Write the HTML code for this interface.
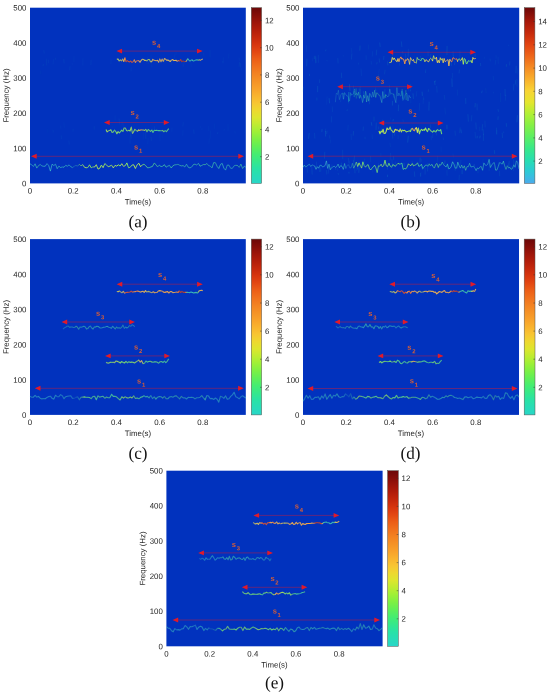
<!DOCTYPE html>
<html><head><meta charset="utf-8"><title>Figure</title>
<style>
html,body{margin:0;padding:0;background:#fff;}
body{width:550px;height:696px;overflow:hidden;}
svg{display:block;}
text{text-rendering:geometricPrecision;}
.tk{font-family:"Liberation Sans",sans-serif;font-size:7.85px;fill:#262626;}
.cap{font-family:"Liberation Serif",serif;font-size:17.2px;fill:#111;}
.sl{font-family:"Liberation Sans",sans-serif;font-size:7.6px;font-weight:bold;fill:#e2602f;fill-opacity:0.92;}
.sb{font-size:5.9px;}
</style></head><body>
<svg width="550" height="696" viewBox="0 0 550 696">
<defs>
<filter id="bl" x="0" y="0" width="100%" height="100%" filterUnits="userSpaceOnUse" color-interpolation-filters="sRGB"><feGaussianBlur stdDeviation="0.42"/></filter>
<linearGradient id="cbA" x1="0" x2="0" y1="0" y2="1"><stop offset="0.000" stop-color="rgb(108,8,8)"/><stop offset="0.042" stop-color="rgb(133,14,9)"/><stop offset="0.083" stop-color="rgb(157,21,10)"/><stop offset="0.125" stop-color="rgb(178,29,10)"/><stop offset="0.167" stop-color="rgb(197,40,12)"/><stop offset="0.208" stop-color="rgb(215,53,14)"/><stop offset="0.250" stop-color="rgb(227,71,18)"/><stop offset="0.292" stop-color="rgb(236,94,23)"/><stop offset="0.333" stop-color="rgb(240,112,29)"/><stop offset="0.375" stop-color="rgb(243,130,34)"/><stop offset="0.417" stop-color="rgb(245,146,38)"/><stop offset="0.458" stop-color="rgb(248,161,42)"/><stop offset="0.500" stop-color="rgb(249,179,46)"/><stop offset="0.542" stop-color="rgb(248,197,50)"/><stop offset="0.583" stop-color="rgb(238,216,47)"/><stop offset="0.625" stop-color="rgb(221,230,46)"/><stop offset="0.667" stop-color="rgb(190,236,49)"/><stop offset="0.708" stop-color="rgb(157,240,55)"/><stop offset="0.750" stop-color="rgb(124,240,68)"/><stop offset="0.792" stop-color="rgb(95,239,88)"/><stop offset="0.833" stop-color="rgb(69,237,113)"/><stop offset="0.875" stop-color="rgb(53,232,139)"/><stop offset="0.917" stop-color="rgb(41,226,166)"/><stop offset="0.958" stop-color="rgb(40,220,183)"/><stop offset="1.000" stop-color="rgb(40,214,200)"/></linearGradient>
<linearGradient id="cbB" x1="0" x2="0" y1="0" y2="1"><stop offset="0.000" stop-color="rgb(108,8,8)"/><stop offset="0.078" stop-color="rgb(166,24,10)"/><stop offset="0.144" stop-color="rgb(198,42,12)"/><stop offset="0.210" stop-color="rgb(226,68,18)"/><stop offset="0.276" stop-color="rgb(238,102,26)"/><stop offset="0.342" stop-color="rgb(245,140,36)"/><stop offset="0.408" stop-color="rgb(249,176,44)"/><stop offset="0.473" stop-color="rgb(248,212,52)"/><stop offset="0.539" stop-color="rgb(228,230,46)"/><stop offset="0.605" stop-color="rgb(176,240,54)"/><stop offset="0.671" stop-color="rgb(132,240,70)"/><stop offset="0.737" stop-color="rgb(92,238,100)"/><stop offset="0.803" stop-color="rgb(56,232,138)"/><stop offset="0.868" stop-color="rgb(40,222,176)"/><stop offset="0.921" stop-color="rgb(42,206,208)"/><stop offset="0.961" stop-color="rgb(56,190,224)"/><stop offset="1.000" stop-color="rgb(76,170,236)"/></linearGradient>
<linearGradient id="g0" gradientUnits="userSpaceOnUse" x1="30.0" x2="246.0" y1="0" y2="0"><stop offset="0.000" stop-color="rgb(75,222,191)" stop-opacity="0.58"/><stop offset="0.008" stop-color="rgb(75,217,204)" stop-opacity="0.52"/><stop offset="0.016" stop-color="rgb(75,223,190)" stop-opacity="0.46"/><stop offset="0.024" stop-color="rgb(75,225,185)" stop-opacity="0.55"/><stop offset="0.031" stop-color="rgb(75,227,178)" stop-opacity="0.52"/><stop offset="0.039" stop-color="rgb(90,234,145)" stop-opacity="0.51"/><stop offset="0.047" stop-color="rgb(75,225,185)" stop-opacity="0.53"/><stop offset="0.055" stop-color="rgb(75,222,192)" stop-opacity="0.52"/><stop offset="0.063" stop-color="rgb(75,225,186)" stop-opacity="0.58"/><stop offset="0.071" stop-color="rgb(75,217,204)" stop-opacity="0.56"/><stop offset="0.079" stop-color="rgb(75,217,204)" stop-opacity="0.45"/><stop offset="0.087" stop-color="rgb(75,217,204)" stop-opacity="0.54"/><stop offset="0.094" stop-color="rgb(75,217,204)" stop-opacity="0.57"/><stop offset="0.102" stop-color="rgb(75,218,203)" stop-opacity="0.56"/><stop offset="0.110" stop-color="rgb(75,221,195)" stop-opacity="0.53"/><stop offset="0.118" stop-color="rgb(75,223,190)" stop-opacity="0.48"/><stop offset="0.126" stop-color="rgb(75,221,197)" stop-opacity="0.56"/><stop offset="0.134" stop-color="rgb(75,224,186)" stop-opacity="0.49"/><stop offset="0.142" stop-color="rgb(75,222,191)" stop-opacity="0.59"/><stop offset="0.150" stop-color="rgb(75,222,191)" stop-opacity="0.48"/><stop offset="0.157" stop-color="rgb(75,224,187)" stop-opacity="0.61"/><stop offset="0.165" stop-color="rgb(75,225,185)" stop-opacity="0.55"/><stop offset="0.173" stop-color="rgb(75,224,186)" stop-opacity="0.53"/><stop offset="0.181" stop-color="rgb(75,219,200)" stop-opacity="0.50"/><stop offset="0.189" stop-color="rgb(75,225,182)" stop-opacity="0.58"/><stop offset="0.197" stop-color="rgb(75,227,179)" stop-opacity="0.40"/><stop offset="0.205" stop-color="rgb(76,227,177)" stop-opacity="0.23"/><stop offset="0.213" stop-color="rgb(75,225,182)" stop-opacity="0.28"/><stop offset="0.220" stop-color="rgb(85,231,157)" stop-opacity="0.31"/><stop offset="0.228" stop-color="rgb(128,238,105)" stop-opacity="0.45"/><stop offset="0.236" stop-color="rgb(151,239,94)" stop-opacity="0.56"/><stop offset="0.244" stop-color="rgb(161,239,90)" stop-opacity="0.74"/><stop offset="0.252" stop-color="rgb(190,237,81)" stop-opacity="0.85"/><stop offset="0.260" stop-color="rgb(162,239,90)" stop-opacity="0.91"/><stop offset="0.268" stop-color="rgb(155,239,92)" stop-opacity="0.69"/><stop offset="0.276" stop-color="rgb(162,239,90)" stop-opacity="0.89"/><stop offset="0.283" stop-color="rgb(141,239,97)" stop-opacity="0.85"/><stop offset="0.291" stop-color="rgb(146,239,95)" stop-opacity="0.65"/><stop offset="0.299" stop-color="rgb(200,235,80)" stop-opacity="0.94"/><stop offset="0.307" stop-color="rgb(177,239,84)" stop-opacity="0.87"/><stop offset="0.315" stop-color="rgb(184,239,82)" stop-opacity="0.86"/><stop offset="0.323" stop-color="rgb(174,239,85)" stop-opacity="1.00"/><stop offset="0.331" stop-color="rgb(160,239,90)" stop-opacity="0.92"/><stop offset="0.339" stop-color="rgb(176,239,84)" stop-opacity="0.88"/><stop offset="0.346" stop-color="rgb(157,239,91)" stop-opacity="0.81"/><stop offset="0.354" stop-color="rgb(173,239,86)" stop-opacity="0.83"/><stop offset="0.362" stop-color="rgb(172,239,86)" stop-opacity="0.83"/><stop offset="0.370" stop-color="rgb(179,239,83)" stop-opacity="0.94"/><stop offset="0.378" stop-color="rgb(170,239,86)" stop-opacity="0.75"/><stop offset="0.386" stop-color="rgb(199,235,80)" stop-opacity="0.85"/><stop offset="0.394" stop-color="rgb(162,239,90)" stop-opacity="0.88"/><stop offset="0.402" stop-color="rgb(209,234,79)" stop-opacity="0.89"/><stop offset="0.409" stop-color="rgb(143,239,96)" stop-opacity="1.00"/><stop offset="0.417" stop-color="rgb(123,238,109)" stop-opacity="0.89"/><stop offset="0.425" stop-color="rgb(212,233,79)" stop-opacity="0.97"/><stop offset="0.433" stop-color="rgb(193,237,81)" stop-opacity="0.69"/><stop offset="0.441" stop-color="rgb(153,239,93)" stop-opacity="0.93"/><stop offset="0.449" stop-color="rgb(142,239,96)" stop-opacity="0.99"/><stop offset="0.457" stop-color="rgb(131,239,103)" stop-opacity="0.75"/><stop offset="0.465" stop-color="rgb(166,239,88)" stop-opacity="0.80"/><stop offset="0.472" stop-color="rgb(155,239,92)" stop-opacity="0.78"/><stop offset="0.480" stop-color="rgb(189,238,81)" stop-opacity="0.95"/><stop offset="0.488" stop-color="rgb(183,239,82)" stop-opacity="0.88"/><stop offset="0.496" stop-color="rgb(178,239,83)" stop-opacity="0.77"/><stop offset="0.504" stop-color="rgb(185,239,82)" stop-opacity="1.00"/><stop offset="0.512" stop-color="rgb(193,237,81)" stop-opacity="0.86"/><stop offset="0.520" stop-color="rgb(167,239,88)" stop-opacity="0.78"/><stop offset="0.528" stop-color="rgb(114,237,119)" stop-opacity="0.66"/><stop offset="0.535" stop-color="rgb(112,237,121)" stop-opacity="0.70"/><stop offset="0.543" stop-color="rgb(107,236,126)" stop-opacity="0.74"/><stop offset="0.551" stop-color="rgb(88,233,149)" stop-opacity="0.54"/><stop offset="0.559" stop-color="rgb(81,230,166)" stop-opacity="0.72"/><stop offset="0.567" stop-color="rgb(92,234,143)" stop-opacity="0.67"/><stop offset="0.575" stop-color="rgb(99,236,133)" stop-opacity="0.58"/><stop offset="0.583" stop-color="rgb(89,234,147)" stop-opacity="0.67"/><stop offset="0.591" stop-color="rgb(101,236,132)" stop-opacity="0.51"/><stop offset="0.598" stop-color="rgb(75,227,179)" stop-opacity="0.61"/><stop offset="0.606" stop-color="rgb(75,226,180)" stop-opacity="0.62"/><stop offset="0.614" stop-color="rgb(87,232,153)" stop-opacity="0.56"/><stop offset="0.622" stop-color="rgb(81,230,166)" stop-opacity="0.71"/><stop offset="0.630" stop-color="rgb(82,230,164)" stop-opacity="0.61"/><stop offset="0.638" stop-color="rgb(85,232,156)" stop-opacity="0.58"/><stop offset="0.646" stop-color="rgb(76,227,177)" stop-opacity="0.55"/><stop offset="0.654" stop-color="rgb(83,231,159)" stop-opacity="0.59"/><stop offset="0.661" stop-color="rgb(85,231,158)" stop-opacity="0.61"/><stop offset="0.669" stop-color="rgb(87,232,154)" stop-opacity="0.60"/><stop offset="0.677" stop-color="rgb(79,229,169)" stop-opacity="0.52"/><stop offset="0.685" stop-color="rgb(88,233,150)" stop-opacity="0.44"/><stop offset="0.693" stop-color="rgb(82,230,164)" stop-opacity="0.54"/><stop offset="0.701" stop-color="rgb(91,234,144)" stop-opacity="0.57"/><stop offset="0.709" stop-color="rgb(83,230,161)" stop-opacity="0.56"/><stop offset="0.717" stop-color="rgb(80,230,168)" stop-opacity="0.50"/><stop offset="0.724" stop-color="rgb(75,225,182)" stop-opacity="0.48"/><stop offset="0.732" stop-color="rgb(79,229,169)" stop-opacity="0.54"/><stop offset="0.740" stop-color="rgb(75,227,178)" stop-opacity="0.59"/><stop offset="0.748" stop-color="rgb(75,222,191)" stop-opacity="0.46"/><stop offset="0.756" stop-color="rgb(79,229,170)" stop-opacity="0.61"/><stop offset="0.764" stop-color="rgb(87,233,150)" stop-opacity="0.52"/><stop offset="0.772" stop-color="rgb(81,230,166)" stop-opacity="0.52"/><stop offset="0.780" stop-color="rgb(75,226,182)" stop-opacity="0.47"/><stop offset="0.787" stop-color="rgb(92,234,142)" stop-opacity="0.68"/><stop offset="0.795" stop-color="rgb(75,226,180)" stop-opacity="0.51"/><stop offset="0.803" stop-color="rgb(92,234,143)" stop-opacity="0.55"/><stop offset="0.811" stop-color="rgb(94,235,138)" stop-opacity="0.55"/><stop offset="0.819" stop-color="rgb(84,231,159)" stop-opacity="0.51"/><stop offset="0.827" stop-color="rgb(82,230,161)" stop-opacity="0.51"/><stop offset="0.835" stop-color="rgb(77,228,175)" stop-opacity="0.48"/><stop offset="0.843" stop-color="rgb(80,230,167)" stop-opacity="0.55"/><stop offset="0.850" stop-color="rgb(78,229,172)" stop-opacity="0.57"/><stop offset="0.858" stop-color="rgb(87,232,153)" stop-opacity="0.50"/><stop offset="0.866" stop-color="rgb(82,230,163)" stop-opacity="0.54"/><stop offset="0.874" stop-color="rgb(78,228,173)" stop-opacity="0.61"/><stop offset="0.882" stop-color="rgb(75,225,185)" stop-opacity="0.56"/><stop offset="0.890" stop-color="rgb(75,225,185)" stop-opacity="0.57"/><stop offset="0.898" stop-color="rgb(75,219,200)" stop-opacity="0.55"/><stop offset="0.906" stop-color="rgb(76,227,177)" stop-opacity="0.51"/><stop offset="0.913" stop-color="rgb(75,226,180)" stop-opacity="0.46"/><stop offset="0.921" stop-color="rgb(75,226,181)" stop-opacity="0.52"/><stop offset="0.929" stop-color="rgb(75,226,182)" stop-opacity="0.45"/><stop offset="0.937" stop-color="rgb(75,222,191)" stop-opacity="0.50"/><stop offset="0.945" stop-color="rgb(75,223,189)" stop-opacity="0.47"/><stop offset="0.953" stop-color="rgb(87,233,151)" stop-opacity="0.49"/><stop offset="0.961" stop-color="rgb(92,234,142)" stop-opacity="0.56"/><stop offset="0.969" stop-color="rgb(92,234,142)" stop-opacity="0.42"/><stop offset="0.976" stop-color="rgb(87,232,154)" stop-opacity="0.55"/><stop offset="0.984" stop-color="rgb(86,232,156)" stop-opacity="0.51"/><stop offset="0.992" stop-color="rgb(80,230,168)" stop-opacity="0.54"/><stop offset="1.000" stop-color="rgb(75,227,178)" stop-opacity="0.48"/></linearGradient>
<linearGradient id="g1" gradientUnits="userSpaceOnUse" x1="106.0" x2="168.7" y1="0" y2="0"><stop offset="0.000" stop-color="rgb(180,239,82)" stop-opacity="0.90"/><stop offset="0.019" stop-color="rgb(188,238,81)" stop-opacity="0.87"/><stop offset="0.038" stop-color="rgb(190,237,81)" stop-opacity="0.72"/><stop offset="0.058" stop-color="rgb(161,239,90)" stop-opacity="0.86"/><stop offset="0.077" stop-color="rgb(157,239,91)" stop-opacity="0.83"/><stop offset="0.096" stop-color="rgb(141,239,97)" stop-opacity="0.72"/><stop offset="0.115" stop-color="rgb(126,238,107)" stop-opacity="0.84"/><stop offset="0.135" stop-color="rgb(135,239,100)" stop-opacity="0.65"/><stop offset="0.154" stop-color="rgb(133,239,100)" stop-opacity="0.73"/><stop offset="0.173" stop-color="rgb(158,239,91)" stop-opacity="1.00"/><stop offset="0.192" stop-color="rgb(151,239,94)" stop-opacity="0.81"/><stop offset="0.212" stop-color="rgb(152,239,93)" stop-opacity="0.84"/><stop offset="0.231" stop-color="rgb(135,239,100)" stop-opacity="0.81"/><stop offset="0.250" stop-color="rgb(121,238,112)" stop-opacity="0.87"/><stop offset="0.269" stop-color="rgb(135,239,100)" stop-opacity="0.73"/><stop offset="0.288" stop-color="rgb(154,239,92)" stop-opacity="0.79"/><stop offset="0.308" stop-color="rgb(154,239,92)" stop-opacity="0.68"/><stop offset="0.327" stop-color="rgb(158,239,91)" stop-opacity="0.83"/><stop offset="0.346" stop-color="rgb(161,239,90)" stop-opacity="0.71"/><stop offset="0.365" stop-color="rgb(149,239,94)" stop-opacity="0.78"/><stop offset="0.385" stop-color="rgb(165,239,88)" stop-opacity="0.93"/><stop offset="0.404" stop-color="rgb(170,239,86)" stop-opacity="0.78"/><stop offset="0.423" stop-color="rgb(185,239,82)" stop-opacity="0.67"/><stop offset="0.442" stop-color="rgb(163,239,89)" stop-opacity="0.88"/><stop offset="0.462" stop-color="rgb(158,239,91)" stop-opacity="0.79"/><stop offset="0.481" stop-color="rgb(146,239,95)" stop-opacity="0.65"/><stop offset="0.500" stop-color="rgb(171,239,86)" stop-opacity="0.79"/><stop offset="0.519" stop-color="rgb(232,229,77)" stop-opacity="0.88"/><stop offset="0.538" stop-color="rgb(243,159,72)" stop-opacity="1.00"/><stop offset="0.558" stop-color="rgb(244,166,72)" stop-opacity="0.73"/><stop offset="0.577" stop-color="rgb(247,201,82)" stop-opacity="0.79"/><stop offset="0.596" stop-color="rgb(196,236,81)" stop-opacity="0.80"/><stop offset="0.615" stop-color="rgb(201,235,80)" stop-opacity="0.79"/><stop offset="0.635" stop-color="rgb(183,239,82)" stop-opacity="0.72"/><stop offset="0.654" stop-color="rgb(136,239,99)" stop-opacity="0.74"/><stop offset="0.673" stop-color="rgb(133,239,100)" stop-opacity="0.71"/><stop offset="0.692" stop-color="rgb(124,238,109)" stop-opacity="0.73"/><stop offset="0.712" stop-color="rgb(140,239,97)" stop-opacity="0.78"/><stop offset="0.731" stop-color="rgb(114,237,119)" stop-opacity="0.80"/><stop offset="0.750" stop-color="rgb(107,236,126)" stop-opacity="0.71"/><stop offset="0.769" stop-color="rgb(92,235,141)" stop-opacity="0.69"/><stop offset="0.788" stop-color="rgb(123,238,110)" stop-opacity="0.76"/><stop offset="0.808" stop-color="rgb(92,234,141)" stop-opacity="0.78"/><stop offset="0.827" stop-color="rgb(86,232,155)" stop-opacity="0.67"/><stop offset="0.846" stop-color="rgb(104,236,128)" stop-opacity="0.80"/><stop offset="0.865" stop-color="rgb(99,236,133)" stop-opacity="0.77"/><stop offset="0.885" stop-color="rgb(141,239,97)" stop-opacity="0.66"/><stop offset="0.904" stop-color="rgb(152,239,93)" stop-opacity="0.72"/><stop offset="0.923" stop-color="rgb(133,239,100)" stop-opacity="0.74"/><stop offset="0.942" stop-color="rgb(102,236,130)" stop-opacity="0.65"/><stop offset="0.962" stop-color="rgb(118,237,115)" stop-opacity="0.76"/><stop offset="0.981" stop-color="rgb(126,238,108)" stop-opacity="0.79"/><stop offset="1.000" stop-color="rgb(119,237,114)" stop-opacity="0.78"/></linearGradient>
<linearGradient id="g2" gradientUnits="userSpaceOnUse" x1="116.8" x2="202.8" y1="0" y2="0"><stop offset="0.000" stop-color="rgb(219,231,78)" stop-opacity="0.77"/><stop offset="0.014" stop-color="rgb(220,231,78)" stop-opacity="0.83"/><stop offset="0.027" stop-color="rgb(213,233,79)" stop-opacity="0.72"/><stop offset="0.041" stop-color="rgb(231,229,77)" stop-opacity="0.74"/><stop offset="0.054" stop-color="rgb(242,212,80)" stop-opacity="0.65"/><stop offset="0.068" stop-color="rgb(229,230,77)" stop-opacity="0.64"/><stop offset="0.081" stop-color="rgb(246,183,77)" stop-opacity="0.95"/><stop offset="0.095" stop-color="rgb(240,139,66)" stop-opacity="1.00"/><stop offset="0.108" stop-color="rgb(205,76,50)" stop-opacity="1.00"/><stop offset="0.122" stop-color="rgb(207,77,50)" stop-opacity="0.95"/><stop offset="0.135" stop-color="rgb(209,78,50)" stop-opacity="0.98"/><stop offset="0.149" stop-color="rgb(217,84,52)" stop-opacity="0.88"/><stop offset="0.162" stop-color="rgb(215,83,51)" stop-opacity="0.94"/><stop offset="0.176" stop-color="rgb(210,79,51)" stop-opacity="0.91"/><stop offset="0.189" stop-color="rgb(220,86,52)" stop-opacity="0.82"/><stop offset="0.203" stop-color="rgb(243,162,72)" stop-opacity="0.79"/><stop offset="0.216" stop-color="rgb(242,157,71)" stop-opacity="0.82"/><stop offset="0.230" stop-color="rgb(228,101,55)" stop-opacity="0.87"/><stop offset="0.243" stop-color="rgb(233,110,58)" stop-opacity="0.69"/><stop offset="0.257" stop-color="rgb(244,166,73)" stop-opacity="0.88"/><stop offset="0.270" stop-color="rgb(246,180,77)" stop-opacity="0.81"/><stop offset="0.284" stop-color="rgb(246,193,80)" stop-opacity="0.92"/><stop offset="0.297" stop-color="rgb(247,197,81)" stop-opacity="0.74"/><stop offset="0.311" stop-color="rgb(240,215,80)" stop-opacity="0.74"/><stop offset="0.324" stop-color="rgb(242,212,80)" stop-opacity="0.82"/><stop offset="0.338" stop-color="rgb(233,229,77)" stop-opacity="0.74"/><stop offset="0.351" stop-color="rgb(203,234,80)" stop-opacity="0.57"/><stop offset="0.365" stop-color="rgb(198,235,80)" stop-opacity="0.70"/><stop offset="0.378" stop-color="rgb(200,235,80)" stop-opacity="0.70"/><stop offset="0.392" stop-color="rgb(219,231,78)" stop-opacity="0.68"/><stop offset="0.405" stop-color="rgb(247,200,82)" stop-opacity="0.86"/><stop offset="0.419" stop-color="rgb(246,186,78)" stop-opacity="0.77"/><stop offset="0.432" stop-color="rgb(246,192,79)" stop-opacity="0.77"/><stop offset="0.446" stop-color="rgb(246,180,77)" stop-opacity="0.87"/><stop offset="0.459" stop-color="rgb(246,184,77)" stop-opacity="0.75"/><stop offset="0.473" stop-color="rgb(246,179,76)" stop-opacity="0.88"/><stop offset="0.486" stop-color="rgb(246,182,77)" stop-opacity="0.82"/><stop offset="0.500" stop-color="rgb(246,183,77)" stop-opacity="0.68"/><stop offset="0.514" stop-color="rgb(246,191,79)" stop-opacity="0.82"/><stop offset="0.527" stop-color="rgb(246,194,80)" stop-opacity="0.75"/><stop offset="0.541" stop-color="rgb(246,191,79)" stop-opacity="0.73"/><stop offset="0.554" stop-color="rgb(246,191,79)" stop-opacity="0.79"/><stop offset="0.568" stop-color="rgb(246,186,78)" stop-opacity="0.82"/><stop offset="0.581" stop-color="rgb(246,192,79)" stop-opacity="0.79"/><stop offset="0.595" stop-color="rgb(247,202,82)" stop-opacity="0.89"/><stop offset="0.608" stop-color="rgb(243,209,81)" stop-opacity="0.85"/><stop offset="0.622" stop-color="rgb(247,198,81)" stop-opacity="0.95"/><stop offset="0.635" stop-color="rgb(246,194,80)" stop-opacity="0.73"/><stop offset="0.649" stop-color="rgb(246,204,81)" stop-opacity="0.77"/><stop offset="0.662" stop-color="rgb(246,193,80)" stop-opacity="0.95"/><stop offset="0.676" stop-color="rgb(247,198,81)" stop-opacity="0.89"/><stop offset="0.689" stop-color="rgb(246,180,77)" stop-opacity="1.00"/><stop offset="0.703" stop-color="rgb(245,171,74)" stop-opacity="0.82"/><stop offset="0.716" stop-color="rgb(234,115,59)" stop-opacity="0.96"/><stop offset="0.730" stop-color="rgb(176,61,49)" stop-opacity="0.97"/><stop offset="0.743" stop-color="rgb(184,64,49)" stop-opacity="0.94"/><stop offset="0.757" stop-color="rgb(169,57,49)" stop-opacity="1.00"/><stop offset="0.770" stop-color="rgb(166,57,49)" stop-opacity="1.00"/><stop offset="0.784" stop-color="rgb(164,57,49)" stop-opacity="0.80"/><stop offset="0.797" stop-color="rgb(209,78,50)" stop-opacity="0.87"/><stop offset="0.811" stop-color="rgb(228,230,78)" stop-opacity="0.75"/><stop offset="0.824" stop-color="rgb(82,230,164)" stop-opacity="0.70"/><stop offset="0.838" stop-color="rgb(75,225,182)" stop-opacity="0.70"/><stop offset="0.851" stop-color="rgb(75,227,178)" stop-opacity="0.69"/><stop offset="0.865" stop-color="rgb(75,225,182)" stop-opacity="0.70"/><stop offset="0.878" stop-color="rgb(75,227,179)" stop-opacity="0.88"/><stop offset="0.892" stop-color="rgb(76,227,177)" stop-opacity="0.56"/><stop offset="0.905" stop-color="rgb(79,229,170)" stop-opacity="0.62"/><stop offset="0.919" stop-color="rgb(75,223,191)" stop-opacity="0.70"/><stop offset="0.932" stop-color="rgb(75,226,182)" stop-opacity="0.76"/><stop offset="0.946" stop-color="rgb(131,239,103)" stop-opacity="0.73"/><stop offset="0.959" stop-color="rgb(240,215,79)" stop-opacity="0.72"/><stop offset="0.973" stop-color="rgb(246,193,80)" stop-opacity="0.71"/><stop offset="0.986" stop-color="rgb(247,201,82)" stop-opacity="0.66"/><stop offset="1.000" stop-color="rgb(242,210,80)" stop-opacity="0.85"/></linearGradient>
<linearGradient id="g3" gradientUnits="userSpaceOnUse" x1="303.0" x2="519.0" y1="0" y2="0"><stop offset="0.000" stop-color="rgb(75,217,204)" stop-opacity="0.53"/><stop offset="0.006" stop-color="rgb(75,224,187)" stop-opacity="0.55"/><stop offset="0.012" stop-color="rgb(75,225,186)" stop-opacity="0.56"/><stop offset="0.018" stop-color="rgb(75,217,204)" stop-opacity="0.55"/><stop offset="0.024" stop-color="rgb(75,219,200)" stop-opacity="0.54"/><stop offset="0.030" stop-color="rgb(75,217,204)" stop-opacity="0.47"/><stop offset="0.036" stop-color="rgb(75,217,204)" stop-opacity="0.48"/><stop offset="0.042" stop-color="rgb(75,220,198)" stop-opacity="0.49"/><stop offset="0.048" stop-color="rgb(75,217,204)" stop-opacity="0.39"/><stop offset="0.054" stop-color="rgb(75,219,200)" stop-opacity="0.57"/><stop offset="0.060" stop-color="rgb(75,217,204)" stop-opacity="0.56"/><stop offset="0.066" stop-color="rgb(75,218,201)" stop-opacity="0.57"/><stop offset="0.072" stop-color="rgb(75,217,204)" stop-opacity="0.60"/><stop offset="0.078" stop-color="rgb(75,217,204)" stop-opacity="0.49"/><stop offset="0.084" stop-color="rgb(75,217,204)" stop-opacity="0.58"/><stop offset="0.090" stop-color="rgb(75,217,204)" stop-opacity="0.57"/><stop offset="0.096" stop-color="rgb(75,217,204)" stop-opacity="0.58"/><stop offset="0.102" stop-color="rgb(75,217,204)" stop-opacity="0.55"/><stop offset="0.108" stop-color="rgb(75,217,204)" stop-opacity="0.55"/><stop offset="0.114" stop-color="rgb(75,217,204)" stop-opacity="0.53"/><stop offset="0.120" stop-color="rgb(75,217,204)" stop-opacity="0.56"/><stop offset="0.127" stop-color="rgb(75,223,190)" stop-opacity="0.57"/><stop offset="0.133" stop-color="rgb(75,222,191)" stop-opacity="0.43"/><stop offset="0.139" stop-color="rgb(75,217,204)" stop-opacity="0.47"/><stop offset="0.145" stop-color="rgb(75,217,204)" stop-opacity="0.62"/><stop offset="0.151" stop-color="rgb(75,217,204)" stop-opacity="0.55"/><stop offset="0.157" stop-color="rgb(75,218,201)" stop-opacity="0.56"/><stop offset="0.163" stop-color="rgb(75,221,196)" stop-opacity="0.53"/><stop offset="0.169" stop-color="rgb(75,217,204)" stop-opacity="0.54"/><stop offset="0.175" stop-color="rgb(75,221,197)" stop-opacity="0.55"/><stop offset="0.181" stop-color="rgb(75,222,191)" stop-opacity="0.55"/><stop offset="0.187" stop-color="rgb(75,222,191)" stop-opacity="0.55"/><stop offset="0.193" stop-color="rgb(75,221,195)" stop-opacity="0.50"/><stop offset="0.199" stop-color="rgb(75,217,204)" stop-opacity="0.33"/><stop offset="0.205" stop-color="rgb(75,218,201)" stop-opacity="0.18"/><stop offset="0.211" stop-color="rgb(75,221,195)" stop-opacity="0.23"/><stop offset="0.217" stop-color="rgb(75,221,196)" stop-opacity="0.24"/><stop offset="0.223" stop-color="rgb(75,226,181)" stop-opacity="0.30"/><stop offset="0.229" stop-color="rgb(89,234,148)" stop-opacity="0.35"/><stop offset="0.235" stop-color="rgb(100,236,132)" stop-opacity="0.52"/><stop offset="0.241" stop-color="rgb(126,238,108)" stop-opacity="0.65"/><stop offset="0.247" stop-color="rgb(123,238,109)" stop-opacity="0.61"/><stop offset="0.253" stop-color="rgb(151,239,93)" stop-opacity="0.93"/><stop offset="0.259" stop-color="rgb(187,238,82)" stop-opacity="0.99"/><stop offset="0.265" stop-color="rgb(126,238,108)" stop-opacity="0.77"/><stop offset="0.271" stop-color="rgb(170,239,86)" stop-opacity="0.80"/><stop offset="0.277" stop-color="rgb(135,239,100)" stop-opacity="1.00"/><stop offset="0.283" stop-color="rgb(111,237,122)" stop-opacity="0.67"/><stop offset="0.289" stop-color="rgb(133,239,100)" stop-opacity="0.81"/><stop offset="0.295" stop-color="rgb(135,239,100)" stop-opacity="0.82"/><stop offset="0.301" stop-color="rgb(125,238,109)" stop-opacity="0.80"/><stop offset="0.307" stop-color="rgb(136,239,99)" stop-opacity="0.94"/><stop offset="0.313" stop-color="rgb(97,235,135)" stop-opacity="0.85"/><stop offset="0.319" stop-color="rgb(109,237,123)" stop-opacity="0.80"/><stop offset="0.325" stop-color="rgb(111,237,122)" stop-opacity="0.78"/><stop offset="0.331" stop-color="rgb(122,238,112)" stop-opacity="0.86"/><stop offset="0.337" stop-color="rgb(128,238,106)" stop-opacity="0.82"/><stop offset="0.343" stop-color="rgb(128,238,106)" stop-opacity="0.84"/><stop offset="0.349" stop-color="rgb(119,238,113)" stop-opacity="0.72"/><stop offset="0.355" stop-color="rgb(155,239,92)" stop-opacity="0.70"/><stop offset="0.361" stop-color="rgb(157,239,91)" stop-opacity="0.80"/><stop offset="0.367" stop-color="rgb(149,239,94)" stop-opacity="0.77"/><stop offset="0.373" stop-color="rgb(134,239,100)" stop-opacity="0.91"/><stop offset="0.380" stop-color="rgb(145,239,95)" stop-opacity="0.98"/><stop offset="0.386" stop-color="rgb(148,239,95)" stop-opacity="0.82"/><stop offset="0.392" stop-color="rgb(142,239,97)" stop-opacity="0.76"/><stop offset="0.398" stop-color="rgb(101,236,131)" stop-opacity="0.91"/><stop offset="0.404" stop-color="rgb(135,239,100)" stop-opacity="0.89"/><stop offset="0.410" stop-color="rgb(114,237,118)" stop-opacity="0.71"/><stop offset="0.416" stop-color="rgb(119,238,113)" stop-opacity="0.91"/><stop offset="0.422" stop-color="rgb(125,238,109)" stop-opacity="0.88"/><stop offset="0.428" stop-color="rgb(135,239,100)" stop-opacity="0.90"/><stop offset="0.434" stop-color="rgb(136,239,99)" stop-opacity="0.75"/><stop offset="0.440" stop-color="rgb(133,239,100)" stop-opacity="0.92"/><stop offset="0.446" stop-color="rgb(114,237,119)" stop-opacity="0.96"/><stop offset="0.452" stop-color="rgb(96,235,136)" stop-opacity="0.80"/><stop offset="0.458" stop-color="rgb(85,231,158)" stop-opacity="0.85"/><stop offset="0.464" stop-color="rgb(92,234,142)" stop-opacity="0.81"/><stop offset="0.470" stop-color="rgb(113,237,120)" stop-opacity="0.88"/><stop offset="0.476" stop-color="rgb(105,236,127)" stop-opacity="0.88"/><stop offset="0.482" stop-color="rgb(124,238,109)" stop-opacity="0.78"/><stop offset="0.488" stop-color="rgb(169,239,87)" stop-opacity="0.88"/><stop offset="0.494" stop-color="rgb(183,239,82)" stop-opacity="0.73"/><stop offset="0.500" stop-color="rgb(132,239,101)" stop-opacity="1.00"/><stop offset="0.506" stop-color="rgb(132,239,102)" stop-opacity="0.79"/><stop offset="0.512" stop-color="rgb(132,239,102)" stop-opacity="0.84"/><stop offset="0.518" stop-color="rgb(128,238,105)" stop-opacity="0.79"/><stop offset="0.524" stop-color="rgb(129,239,104)" stop-opacity="0.85"/><stop offset="0.530" stop-color="rgb(101,236,132)" stop-opacity="0.70"/><stop offset="0.536" stop-color="rgb(84,231,159)" stop-opacity="0.85"/><stop offset="0.542" stop-color="rgb(87,233,151)" stop-opacity="0.77"/><stop offset="0.548" stop-color="rgb(90,234,146)" stop-opacity="0.71"/><stop offset="0.554" stop-color="rgb(78,229,170)" stop-opacity="0.75"/><stop offset="0.560" stop-color="rgb(81,230,165)" stop-opacity="0.70"/><stop offset="0.566" stop-color="rgb(81,230,166)" stop-opacity="0.68"/><stop offset="0.572" stop-color="rgb(90,234,145)" stop-opacity="0.71"/><stop offset="0.578" stop-color="rgb(89,234,148)" stop-opacity="0.58"/><stop offset="0.584" stop-color="rgb(103,236,130)" stop-opacity="0.56"/><stop offset="0.590" stop-color="rgb(96,235,137)" stop-opacity="0.56"/><stop offset="0.596" stop-color="rgb(84,231,159)" stop-opacity="0.74"/><stop offset="0.602" stop-color="rgb(96,235,136)" stop-opacity="0.74"/><stop offset="0.608" stop-color="rgb(107,236,126)" stop-opacity="0.58"/><stop offset="0.614" stop-color="rgb(116,237,117)" stop-opacity="0.69"/><stop offset="0.620" stop-color="rgb(116,237,117)" stop-opacity="0.62"/><stop offset="0.627" stop-color="rgb(114,237,119)" stop-opacity="0.72"/><stop offset="0.633" stop-color="rgb(96,235,136)" stop-opacity="0.67"/><stop offset="0.639" stop-color="rgb(94,235,138)" stop-opacity="0.59"/><stop offset="0.645" stop-color="rgb(84,231,158)" stop-opacity="0.65"/><stop offset="0.651" stop-color="rgb(75,225,183)" stop-opacity="0.56"/><stop offset="0.657" stop-color="rgb(79,229,170)" stop-opacity="0.61"/><stop offset="0.663" stop-color="rgb(75,225,183)" stop-opacity="0.55"/><stop offset="0.669" stop-color="rgb(75,225,182)" stop-opacity="0.61"/><stop offset="0.675" stop-color="rgb(75,226,180)" stop-opacity="0.64"/><stop offset="0.681" stop-color="rgb(75,223,189)" stop-opacity="0.53"/><stop offset="0.687" stop-color="rgb(75,221,196)" stop-opacity="0.68"/><stop offset="0.693" stop-color="rgb(75,219,199)" stop-opacity="0.62"/><stop offset="0.699" stop-color="rgb(75,226,181)" stop-opacity="0.51"/><stop offset="0.705" stop-color="rgb(75,225,183)" stop-opacity="0.61"/><stop offset="0.711" stop-color="rgb(75,221,195)" stop-opacity="0.52"/><stop offset="0.717" stop-color="rgb(75,220,197)" stop-opacity="0.61"/><stop offset="0.723" stop-color="rgb(75,227,179)" stop-opacity="0.64"/><stop offset="0.729" stop-color="rgb(82,230,164)" stop-opacity="0.53"/><stop offset="0.735" stop-color="rgb(83,230,161)" stop-opacity="0.60"/><stop offset="0.741" stop-color="rgb(83,231,159)" stop-opacity="0.54"/><stop offset="0.747" stop-color="rgb(96,235,136)" stop-opacity="0.57"/><stop offset="0.753" stop-color="rgb(82,230,163)" stop-opacity="0.59"/><stop offset="0.759" stop-color="rgb(87,232,154)" stop-opacity="0.50"/><stop offset="0.765" stop-color="rgb(82,230,162)" stop-opacity="0.53"/><stop offset="0.771" stop-color="rgb(75,225,186)" stop-opacity="0.52"/><stop offset="0.777" stop-color="rgb(75,227,179)" stop-opacity="0.55"/><stop offset="0.783" stop-color="rgb(75,222,191)" stop-opacity="0.59"/><stop offset="0.789" stop-color="rgb(75,221,193)" stop-opacity="0.50"/><stop offset="0.795" stop-color="rgb(75,225,184)" stop-opacity="0.44"/><stop offset="0.801" stop-color="rgb(75,221,196)" stop-opacity="0.62"/><stop offset="0.807" stop-color="rgb(75,220,199)" stop-opacity="0.59"/><stop offset="0.813" stop-color="rgb(75,227,179)" stop-opacity="0.56"/><stop offset="0.819" stop-color="rgb(77,228,174)" stop-opacity="0.50"/><stop offset="0.825" stop-color="rgb(87,232,154)" stop-opacity="0.52"/><stop offset="0.831" stop-color="rgb(75,225,185)" stop-opacity="0.53"/><stop offset="0.837" stop-color="rgb(75,219,200)" stop-opacity="0.54"/><stop offset="0.843" stop-color="rgb(75,221,196)" stop-opacity="0.47"/><stop offset="0.849" stop-color="rgb(75,217,204)" stop-opacity="0.52"/><stop offset="0.855" stop-color="rgb(75,217,204)" stop-opacity="0.55"/><stop offset="0.861" stop-color="rgb(75,222,191)" stop-opacity="0.54"/><stop offset="0.867" stop-color="rgb(75,225,184)" stop-opacity="0.57"/><stop offset="0.873" stop-color="rgb(75,221,193)" stop-opacity="0.55"/><stop offset="0.880" stop-color="rgb(75,222,191)" stop-opacity="0.53"/><stop offset="0.886" stop-color="rgb(77,228,174)" stop-opacity="0.45"/><stop offset="0.892" stop-color="rgb(76,228,176)" stop-opacity="0.62"/><stop offset="0.898" stop-color="rgb(81,230,166)" stop-opacity="0.54"/><stop offset="0.904" stop-color="rgb(75,223,188)" stop-opacity="0.50"/><stop offset="0.910" stop-color="rgb(75,222,192)" stop-opacity="0.52"/><stop offset="0.916" stop-color="rgb(75,225,186)" stop-opacity="0.51"/><stop offset="0.922" stop-color="rgb(75,227,179)" stop-opacity="0.55"/><stop offset="0.928" stop-color="rgb(75,225,182)" stop-opacity="0.68"/><stop offset="0.934" stop-color="rgb(77,228,175)" stop-opacity="0.48"/><stop offset="0.940" stop-color="rgb(87,233,152)" stop-opacity="0.56"/><stop offset="0.946" stop-color="rgb(82,230,163)" stop-opacity="0.43"/><stop offset="0.952" stop-color="rgb(77,228,175)" stop-opacity="0.55"/><stop offset="0.958" stop-color="rgb(77,228,174)" stop-opacity="0.64"/><stop offset="0.964" stop-color="rgb(75,225,184)" stop-opacity="0.56"/><stop offset="0.970" stop-color="rgb(75,225,182)" stop-opacity="0.60"/><stop offset="0.976" stop-color="rgb(75,219,200)" stop-opacity="0.47"/><stop offset="0.982" stop-color="rgb(75,218,203)" stop-opacity="0.54"/><stop offset="0.988" stop-color="rgb(75,223,190)" stop-opacity="0.51"/><stop offset="0.994" stop-color="rgb(75,222,192)" stop-opacity="0.51"/><stop offset="1.000" stop-color="rgb(75,225,186)" stop-opacity="0.52"/></linearGradient>
<linearGradient id="g4" gradientUnits="userSpaceOnUse" x1="379.0" x2="441.7" y1="0" y2="0"><stop offset="0.000" stop-color="rgb(196,236,81)" stop-opacity="0.92"/><stop offset="0.016" stop-color="rgb(174,239,85)" stop-opacity="0.96"/><stop offset="0.032" stop-color="rgb(163,239,89)" stop-opacity="0.94"/><stop offset="0.048" stop-color="rgb(189,238,81)" stop-opacity="0.93"/><stop offset="0.065" stop-color="rgb(188,238,81)" stop-opacity="0.92"/><stop offset="0.081" stop-color="rgb(187,238,82)" stop-opacity="0.90"/><stop offset="0.097" stop-color="rgb(185,239,82)" stop-opacity="0.84"/><stop offset="0.113" stop-color="rgb(198,235,81)" stop-opacity="0.90"/><stop offset="0.129" stop-color="rgb(183,239,82)" stop-opacity="0.97"/><stop offset="0.145" stop-color="rgb(198,235,81)" stop-opacity="0.90"/><stop offset="0.161" stop-color="rgb(206,234,80)" stop-opacity="0.70"/><stop offset="0.177" stop-color="rgb(164,239,89)" stop-opacity="0.93"/><stop offset="0.194" stop-color="rgb(183,239,82)" stop-opacity="0.88"/><stop offset="0.210" stop-color="rgb(170,239,86)" stop-opacity="0.85"/><stop offset="0.226" stop-color="rgb(189,238,81)" stop-opacity="0.77"/><stop offset="0.242" stop-color="rgb(225,230,78)" stop-opacity="0.95"/><stop offset="0.258" stop-color="rgb(221,231,78)" stop-opacity="0.90"/><stop offset="0.274" stop-color="rgb(224,230,78)" stop-opacity="0.99"/><stop offset="0.290" stop-color="rgb(208,234,79)" stop-opacity="0.85"/><stop offset="0.306" stop-color="rgb(228,230,78)" stop-opacity="0.85"/><stop offset="0.323" stop-color="rgb(214,233,79)" stop-opacity="0.89"/><stop offset="0.339" stop-color="rgb(212,233,79)" stop-opacity="0.79"/><stop offset="0.355" stop-color="rgb(197,236,81)" stop-opacity="0.90"/><stop offset="0.371" stop-color="rgb(173,239,86)" stop-opacity="0.79"/><stop offset="0.387" stop-color="rgb(174,239,85)" stop-opacity="0.91"/><stop offset="0.403" stop-color="rgb(192,237,81)" stop-opacity="0.90"/><stop offset="0.419" stop-color="rgb(182,239,82)" stop-opacity="0.88"/><stop offset="0.435" stop-color="rgb(166,239,88)" stop-opacity="0.78"/><stop offset="0.452" stop-color="rgb(180,239,83)" stop-opacity="0.89"/><stop offset="0.468" stop-color="rgb(152,239,93)" stop-opacity="0.80"/><stop offset="0.484" stop-color="rgb(162,239,89)" stop-opacity="0.78"/><stop offset="0.500" stop-color="rgb(131,239,103)" stop-opacity="0.99"/><stop offset="0.516" stop-color="rgb(180,239,82)" stop-opacity="0.81"/><stop offset="0.532" stop-color="rgb(246,188,78)" stop-opacity="0.79"/><stop offset="0.548" stop-color="rgb(243,159,72)" stop-opacity="0.96"/><stop offset="0.565" stop-color="rgb(245,170,74)" stop-opacity="0.81"/><stop offset="0.581" stop-color="rgb(246,193,80)" stop-opacity="0.98"/><stop offset="0.597" stop-color="rgb(220,231,78)" stop-opacity="0.95"/><stop offset="0.613" stop-color="rgb(204,234,80)" stop-opacity="0.99"/><stop offset="0.629" stop-color="rgb(187,238,82)" stop-opacity="0.81"/><stop offset="0.645" stop-color="rgb(187,238,82)" stop-opacity="0.87"/><stop offset="0.661" stop-color="rgb(130,239,104)" stop-opacity="0.88"/><stop offset="0.677" stop-color="rgb(164,239,88)" stop-opacity="0.93"/><stop offset="0.694" stop-color="rgb(148,239,95)" stop-opacity="0.96"/><stop offset="0.710" stop-color="rgb(169,239,87)" stop-opacity="0.88"/><stop offset="0.726" stop-color="rgb(164,239,89)" stop-opacity="1.00"/><stop offset="0.742" stop-color="rgb(168,239,87)" stop-opacity="0.91"/><stop offset="0.758" stop-color="rgb(184,239,82)" stop-opacity="0.90"/><stop offset="0.774" stop-color="rgb(142,239,97)" stop-opacity="0.89"/><stop offset="0.790" stop-color="rgb(146,239,95)" stop-opacity="1.00"/><stop offset="0.806" stop-color="rgb(169,239,86)" stop-opacity="0.75"/><stop offset="0.823" stop-color="rgb(165,239,88)" stop-opacity="0.72"/><stop offset="0.839" stop-color="rgb(131,239,103)" stop-opacity="0.78"/><stop offset="0.855" stop-color="rgb(125,238,109)" stop-opacity="0.86"/><stop offset="0.871" stop-color="rgb(131,239,102)" stop-opacity="0.95"/><stop offset="0.887" stop-color="rgb(124,238,109)" stop-opacity="0.82"/><stop offset="0.903" stop-color="rgb(133,239,100)" stop-opacity="0.64"/><stop offset="0.919" stop-color="rgb(139,239,98)" stop-opacity="1.00"/><stop offset="0.935" stop-color="rgb(130,239,104)" stop-opacity="0.71"/><stop offset="0.952" stop-color="rgb(101,236,131)" stop-opacity="0.73"/><stop offset="0.968" stop-color="rgb(91,234,143)" stop-opacity="0.77"/><stop offset="0.984" stop-color="rgb(126,238,107)" stop-opacity="0.91"/><stop offset="1.000" stop-color="rgb(131,239,102)" stop-opacity="0.83"/></linearGradient>
<linearGradient id="g5" gradientUnits="userSpaceOnUse" x1="335.4" x2="411.0" y1="0" y2="0"><stop offset="0.000" stop-color="rgb(75,217,204)" stop-opacity="0.25"/><stop offset="0.013" stop-color="rgb(75,222,191)" stop-opacity="0.19"/><stop offset="0.027" stop-color="rgb(75,221,195)" stop-opacity="0.23"/><stop offset="0.040" stop-color="rgb(75,221,195)" stop-opacity="0.24"/><stop offset="0.053" stop-color="rgb(75,223,189)" stop-opacity="0.20"/><stop offset="0.067" stop-color="rgb(75,226,181)" stop-opacity="0.26"/><stop offset="0.080" stop-color="rgb(75,219,200)" stop-opacity="0.26"/><stop offset="0.093" stop-color="rgb(75,219,200)" stop-opacity="0.27"/><stop offset="0.107" stop-color="rgb(75,217,204)" stop-opacity="0.30"/><stop offset="0.120" stop-color="rgb(75,219,200)" stop-opacity="0.33"/><stop offset="0.133" stop-color="rgb(75,217,204)" stop-opacity="0.31"/><stop offset="0.147" stop-color="rgb(75,217,204)" stop-opacity="0.32"/><stop offset="0.160" stop-color="rgb(75,221,195)" stop-opacity="0.27"/><stop offset="0.173" stop-color="rgb(75,226,180)" stop-opacity="0.29"/><stop offset="0.187" stop-color="rgb(75,226,182)" stop-opacity="0.28"/><stop offset="0.200" stop-color="rgb(75,222,192)" stop-opacity="0.30"/><stop offset="0.213" stop-color="rgb(75,224,187)" stop-opacity="0.32"/><stop offset="0.227" stop-color="rgb(75,220,197)" stop-opacity="0.26"/><stop offset="0.240" stop-color="rgb(75,217,204)" stop-opacity="0.36"/><stop offset="0.253" stop-color="rgb(75,224,186)" stop-opacity="0.24"/><stop offset="0.267" stop-color="rgb(75,225,186)" stop-opacity="0.30"/><stop offset="0.280" stop-color="rgb(77,228,175)" stop-opacity="0.30"/><stop offset="0.293" stop-color="rgb(75,227,179)" stop-opacity="0.37"/><stop offset="0.307" stop-color="rgb(83,231,160)" stop-opacity="0.34"/><stop offset="0.320" stop-color="rgb(75,224,188)" stop-opacity="0.39"/><stop offset="0.333" stop-color="rgb(76,227,177)" stop-opacity="0.33"/><stop offset="0.347" stop-color="rgb(75,227,178)" stop-opacity="0.29"/><stop offset="0.360" stop-color="rgb(75,224,186)" stop-opacity="0.37"/><stop offset="0.373" stop-color="rgb(75,223,188)" stop-opacity="0.35"/><stop offset="0.387" stop-color="rgb(78,228,173)" stop-opacity="0.40"/><stop offset="0.400" stop-color="rgb(83,230,161)" stop-opacity="0.31"/><stop offset="0.413" stop-color="rgb(83,230,161)" stop-opacity="0.41"/><stop offset="0.427" stop-color="rgb(82,230,164)" stop-opacity="0.35"/><stop offset="0.440" stop-color="rgb(77,228,176)" stop-opacity="0.41"/><stop offset="0.453" stop-color="rgb(75,227,179)" stop-opacity="0.36"/><stop offset="0.467" stop-color="rgb(75,225,185)" stop-opacity="0.39"/><stop offset="0.480" stop-color="rgb(75,219,200)" stop-opacity="0.35"/><stop offset="0.493" stop-color="rgb(75,226,181)" stop-opacity="0.32"/><stop offset="0.507" stop-color="rgb(75,227,179)" stop-opacity="0.36"/><stop offset="0.520" stop-color="rgb(87,232,153)" stop-opacity="0.36"/><stop offset="0.533" stop-color="rgb(89,234,148)" stop-opacity="0.33"/><stop offset="0.547" stop-color="rgb(98,235,134)" stop-opacity="0.43"/><stop offset="0.560" stop-color="rgb(85,232,156)" stop-opacity="0.39"/><stop offset="0.573" stop-color="rgb(90,234,146)" stop-opacity="0.38"/><stop offset="0.587" stop-color="rgb(87,233,151)" stop-opacity="0.34"/><stop offset="0.600" stop-color="rgb(76,227,177)" stop-opacity="0.40"/><stop offset="0.613" stop-color="rgb(75,220,199)" stop-opacity="0.41"/><stop offset="0.627" stop-color="rgb(75,221,194)" stop-opacity="0.42"/><stop offset="0.640" stop-color="rgb(75,225,184)" stop-opacity="0.36"/><stop offset="0.653" stop-color="rgb(75,226,180)" stop-opacity="0.34"/><stop offset="0.667" stop-color="rgb(75,221,195)" stop-opacity="0.41"/><stop offset="0.680" stop-color="rgb(79,229,169)" stop-opacity="0.37"/><stop offset="0.693" stop-color="rgb(75,223,190)" stop-opacity="0.34"/><stop offset="0.707" stop-color="rgb(75,222,191)" stop-opacity="0.33"/><stop offset="0.720" stop-color="rgb(75,221,194)" stop-opacity="0.33"/><stop offset="0.733" stop-color="rgb(75,221,195)" stop-opacity="0.28"/><stop offset="0.747" stop-color="rgb(75,227,177)" stop-opacity="0.30"/><stop offset="0.760" stop-color="rgb(75,222,191)" stop-opacity="0.32"/><stop offset="0.773" stop-color="rgb(81,230,165)" stop-opacity="0.29"/><stop offset="0.787" stop-color="rgb(75,225,183)" stop-opacity="0.33"/><stop offset="0.800" stop-color="rgb(75,224,187)" stop-opacity="0.31"/><stop offset="0.813" stop-color="rgb(75,221,192)" stop-opacity="0.30"/><stop offset="0.827" stop-color="rgb(75,223,191)" stop-opacity="0.27"/><stop offset="0.840" stop-color="rgb(75,225,183)" stop-opacity="0.29"/><stop offset="0.853" stop-color="rgb(75,226,181)" stop-opacity="0.30"/><stop offset="0.867" stop-color="rgb(75,220,197)" stop-opacity="0.29"/><stop offset="0.880" stop-color="rgb(76,227,177)" stop-opacity="0.27"/><stop offset="0.893" stop-color="rgb(75,223,190)" stop-opacity="0.28"/><stop offset="0.907" stop-color="rgb(75,223,190)" stop-opacity="0.28"/><stop offset="0.920" stop-color="rgb(75,221,195)" stop-opacity="0.26"/><stop offset="0.933" stop-color="rgb(75,217,204)" stop-opacity="0.27"/><stop offset="0.947" stop-color="rgb(75,221,192)" stop-opacity="0.32"/><stop offset="0.960" stop-color="rgb(75,217,204)" stop-opacity="0.25"/><stop offset="0.973" stop-color="rgb(75,217,204)" stop-opacity="0.30"/><stop offset="0.987" stop-color="rgb(75,217,204)" stop-opacity="0.30"/><stop offset="1.000" stop-color="rgb(75,217,204)" stop-opacity="0.26"/></linearGradient>
<linearGradient id="g6" gradientUnits="userSpaceOnUse" x1="389.4" x2="475.8" y1="0" y2="0"><stop offset="0.000" stop-color="rgb(188,238,82)" stop-opacity="0.92"/><stop offset="0.011" stop-color="rgb(228,230,77)" stop-opacity="0.90"/><stop offset="0.022" stop-color="rgb(234,225,78)" stop-opacity="0.92"/><stop offset="0.033" stop-color="rgb(239,216,79)" stop-opacity="0.80"/><stop offset="0.044" stop-color="rgb(237,221,79)" stop-opacity="0.91"/><stop offset="0.056" stop-color="rgb(228,230,77)" stop-opacity="0.91"/><stop offset="0.067" stop-color="rgb(233,227,77)" stop-opacity="0.92"/><stop offset="0.078" stop-color="rgb(233,228,77)" stop-opacity="0.93"/><stop offset="0.089" stop-color="rgb(236,222,78)" stop-opacity="1.00"/><stop offset="0.100" stop-color="rgb(246,181,77)" stop-opacity="1.00"/><stop offset="0.111" stop-color="rgb(246,175,75)" stop-opacity="0.87"/><stop offset="0.122" stop-color="rgb(242,154,70)" stop-opacity="0.97"/><stop offset="0.133" stop-color="rgb(240,140,66)" stop-opacity="1.00"/><stop offset="0.144" stop-color="rgb(241,145,68)" stop-opacity="0.98"/><stop offset="0.156" stop-color="rgb(242,153,70)" stop-opacity="1.00"/><stop offset="0.167" stop-color="rgb(242,152,69)" stop-opacity="0.97"/><stop offset="0.178" stop-color="rgb(242,152,69)" stop-opacity="0.98"/><stop offset="0.189" stop-color="rgb(242,154,70)" stop-opacity="0.92"/><stop offset="0.200" stop-color="rgb(244,163,72)" stop-opacity="1.00"/><stop offset="0.211" stop-color="rgb(246,203,81)" stop-opacity="0.97"/><stop offset="0.222" stop-color="rgb(246,189,78)" stop-opacity="0.84"/><stop offset="0.233" stop-color="rgb(236,222,78)" stop-opacity="0.68"/><stop offset="0.244" stop-color="rgb(246,192,79)" stop-opacity="0.78"/><stop offset="0.256" stop-color="rgb(237,220,79)" stop-opacity="0.77"/><stop offset="0.267" stop-color="rgb(235,225,78)" stop-opacity="0.78"/><stop offset="0.278" stop-color="rgb(244,207,81)" stop-opacity="0.90"/><stop offset="0.289" stop-color="rgb(247,199,82)" stop-opacity="0.80"/><stop offset="0.300" stop-color="rgb(246,189,78)" stop-opacity="0.75"/><stop offset="0.311" stop-color="rgb(187,238,82)" stop-opacity="0.66"/><stop offset="0.322" stop-color="rgb(160,239,90)" stop-opacity="0.73"/><stop offset="0.333" stop-color="rgb(195,236,81)" stop-opacity="0.74"/><stop offset="0.344" stop-color="rgb(144,239,96)" stop-opacity="0.66"/><stop offset="0.356" stop-color="rgb(128,238,105)" stop-opacity="0.84"/><stop offset="0.367" stop-color="rgb(92,234,141)" stop-opacity="0.82"/><stop offset="0.378" stop-color="rgb(105,236,127)" stop-opacity="0.68"/><stop offset="0.389" stop-color="rgb(122,238,111)" stop-opacity="0.68"/><stop offset="0.400" stop-color="rgb(148,239,95)" stop-opacity="0.83"/><stop offset="0.411" stop-color="rgb(233,228,77)" stop-opacity="0.66"/><stop offset="0.422" stop-color="rgb(246,204,81)" stop-opacity="0.71"/><stop offset="0.433" stop-color="rgb(247,202,82)" stop-opacity="0.93"/><stop offset="0.444" stop-color="rgb(244,207,81)" stop-opacity="0.79"/><stop offset="0.456" stop-color="rgb(240,215,80)" stop-opacity="0.84"/><stop offset="0.467" stop-color="rgb(236,223,78)" stop-opacity="0.74"/><stop offset="0.478" stop-color="rgb(214,233,79)" stop-opacity="0.74"/><stop offset="0.489" stop-color="rgb(205,234,80)" stop-opacity="0.69"/><stop offset="0.500" stop-color="rgb(228,230,78)" stop-opacity="0.94"/><stop offset="0.511" stop-color="rgb(190,237,81)" stop-opacity="0.74"/><stop offset="0.522" stop-color="rgb(212,233,79)" stop-opacity="0.75"/><stop offset="0.533" stop-color="rgb(237,221,78)" stop-opacity="0.81"/><stop offset="0.544" stop-color="rgb(246,204,81)" stop-opacity="1.00"/><stop offset="0.556" stop-color="rgb(241,214,80)" stop-opacity="0.94"/><stop offset="0.567" stop-color="rgb(236,222,78)" stop-opacity="0.85"/><stop offset="0.578" stop-color="rgb(237,219,79)" stop-opacity="0.81"/><stop offset="0.589" stop-color="rgb(240,215,79)" stop-opacity="0.74"/><stop offset="0.600" stop-color="rgb(213,233,79)" stop-opacity="0.76"/><stop offset="0.611" stop-color="rgb(210,234,79)" stop-opacity="0.74"/><stop offset="0.622" stop-color="rgb(238,217,79)" stop-opacity="0.81"/><stop offset="0.633" stop-color="rgb(247,197,81)" stop-opacity="0.82"/><stop offset="0.644" stop-color="rgb(246,186,77)" stop-opacity="0.81"/><stop offset="0.656" stop-color="rgb(246,189,78)" stop-opacity="0.81"/><stop offset="0.667" stop-color="rgb(244,207,81)" stop-opacity="0.56"/><stop offset="0.678" stop-color="rgb(246,180,77)" stop-opacity="0.93"/><stop offset="0.689" stop-color="rgb(246,190,79)" stop-opacity="0.93"/><stop offset="0.700" stop-color="rgb(242,210,80)" stop-opacity="0.78"/><stop offset="0.711" stop-color="rgb(245,170,73)" stop-opacity="0.71"/><stop offset="0.722" stop-color="rgb(239,134,64)" stop-opacity="0.98"/><stop offset="0.733" stop-color="rgb(233,111,58)" stop-opacity="0.97"/><stop offset="0.744" stop-color="rgb(238,129,62)" stop-opacity="1.00"/><stop offset="0.756" stop-color="rgb(239,133,63)" stop-opacity="0.77"/><stop offset="0.767" stop-color="rgb(229,101,55)" stop-opacity="0.99"/><stop offset="0.778" stop-color="rgb(238,127,62)" stop-opacity="0.97"/><stop offset="0.789" stop-color="rgb(241,213,80)" stop-opacity="0.90"/><stop offset="0.800" stop-color="rgb(128,238,104)" stop-opacity="0.73"/><stop offset="0.811" stop-color="rgb(153,239,93)" stop-opacity="0.66"/><stop offset="0.822" stop-color="rgb(233,228,77)" stop-opacity="0.73"/><stop offset="0.833" stop-color="rgb(200,235,80)" stop-opacity="0.93"/><stop offset="0.844" stop-color="rgb(197,236,81)" stop-opacity="0.79"/><stop offset="0.856" stop-color="rgb(172,239,86)" stop-opacity="0.96"/><stop offset="0.867" stop-color="rgb(174,239,86)" stop-opacity="0.71"/><stop offset="0.878" stop-color="rgb(125,238,108)" stop-opacity="0.77"/><stop offset="0.889" stop-color="rgb(119,238,113)" stop-opacity="1.00"/><stop offset="0.900" stop-color="rgb(137,239,99)" stop-opacity="0.80"/><stop offset="0.911" stop-color="rgb(119,238,113)" stop-opacity="0.85"/><stop offset="0.922" stop-color="rgb(87,233,153)" stop-opacity="0.80"/><stop offset="0.933" stop-color="rgb(123,238,110)" stop-opacity="0.84"/><stop offset="0.944" stop-color="rgb(151,239,93)" stop-opacity="0.91"/><stop offset="0.956" stop-color="rgb(187,238,82)" stop-opacity="0.91"/><stop offset="0.967" stop-color="rgb(240,216,79)" stop-opacity="0.78"/><stop offset="0.978" stop-color="rgb(246,202,82)" stop-opacity="0.79"/><stop offset="0.989" stop-color="rgb(247,194,80)" stop-opacity="0.77"/><stop offset="1.000" stop-color="rgb(246,188,78)" stop-opacity="0.82"/></linearGradient>
<linearGradient id="g7" gradientUnits="userSpaceOnUse" x1="30.0" x2="246.0" y1="0" y2="0"><stop offset="0.000" stop-color="rgb(75,219,200)" stop-opacity="0.40"/><stop offset="0.008" stop-color="rgb(75,222,192)" stop-opacity="0.35"/><stop offset="0.016" stop-color="rgb(75,222,191)" stop-opacity="0.47"/><stop offset="0.024" stop-color="rgb(75,218,203)" stop-opacity="0.45"/><stop offset="0.031" stop-color="rgb(75,223,189)" stop-opacity="0.41"/><stop offset="0.039" stop-color="rgb(75,222,192)" stop-opacity="0.46"/><stop offset="0.047" stop-color="rgb(75,222,191)" stop-opacity="0.42"/><stop offset="0.055" stop-color="rgb(75,224,187)" stop-opacity="0.42"/><stop offset="0.063" stop-color="rgb(75,223,190)" stop-opacity="0.37"/><stop offset="0.071" stop-color="rgb(75,226,180)" stop-opacity="0.47"/><stop offset="0.079" stop-color="rgb(75,220,199)" stop-opacity="0.43"/><stop offset="0.087" stop-color="rgb(75,217,204)" stop-opacity="0.42"/><stop offset="0.094" stop-color="rgb(75,217,204)" stop-opacity="0.39"/><stop offset="0.102" stop-color="rgb(75,221,195)" stop-opacity="0.43"/><stop offset="0.110" stop-color="rgb(75,219,200)" stop-opacity="0.51"/><stop offset="0.118" stop-color="rgb(75,222,191)" stop-opacity="0.45"/><stop offset="0.126" stop-color="rgb(75,222,192)" stop-opacity="0.36"/><stop offset="0.134" stop-color="rgb(75,222,191)" stop-opacity="0.36"/><stop offset="0.142" stop-color="rgb(75,221,196)" stop-opacity="0.38"/><stop offset="0.150" stop-color="rgb(75,220,198)" stop-opacity="0.36"/><stop offset="0.157" stop-color="rgb(75,225,186)" stop-opacity="0.41"/><stop offset="0.165" stop-color="rgb(75,222,191)" stop-opacity="0.41"/><stop offset="0.173" stop-color="rgb(75,219,200)" stop-opacity="0.43"/><stop offset="0.181" stop-color="rgb(75,217,204)" stop-opacity="0.39"/><stop offset="0.189" stop-color="rgb(75,220,199)" stop-opacity="0.36"/><stop offset="0.197" stop-color="rgb(75,222,191)" stop-opacity="0.29"/><stop offset="0.205" stop-color="rgb(75,226,182)" stop-opacity="0.15"/><stop offset="0.213" stop-color="rgb(75,224,186)" stop-opacity="0.18"/><stop offset="0.220" stop-color="rgb(75,226,180)" stop-opacity="0.24"/><stop offset="0.228" stop-color="rgb(83,231,160)" stop-opacity="0.33"/><stop offset="0.236" stop-color="rgb(118,237,116)" stop-opacity="0.44"/><stop offset="0.244" stop-color="rgb(123,238,111)" stop-opacity="0.56"/><stop offset="0.252" stop-color="rgb(137,239,99)" stop-opacity="0.77"/><stop offset="0.260" stop-color="rgb(120,238,113)" stop-opacity="0.54"/><stop offset="0.268" stop-color="rgb(106,236,126)" stop-opacity="0.61"/><stop offset="0.276" stop-color="rgb(120,238,113)" stop-opacity="0.69"/><stop offset="0.283" stop-color="rgb(108,236,125)" stop-opacity="0.62"/><stop offset="0.291" stop-color="rgb(100,236,133)" stop-opacity="0.62"/><stop offset="0.299" stop-color="rgb(122,238,112)" stop-opacity="0.60"/><stop offset="0.307" stop-color="rgb(92,235,141)" stop-opacity="0.72"/><stop offset="0.315" stop-color="rgb(99,236,134)" stop-opacity="0.59"/><stop offset="0.323" stop-color="rgb(118,237,115)" stop-opacity="0.64"/><stop offset="0.331" stop-color="rgb(107,236,126)" stop-opacity="0.61"/><stop offset="0.339" stop-color="rgb(105,236,127)" stop-opacity="0.67"/><stop offset="0.346" stop-color="rgb(104,236,129)" stop-opacity="0.54"/><stop offset="0.354" stop-color="rgb(127,238,106)" stop-opacity="0.61"/><stop offset="0.362" stop-color="rgb(110,237,122)" stop-opacity="0.59"/><stop offset="0.370" stop-color="rgb(91,234,144)" stop-opacity="0.65"/><stop offset="0.378" stop-color="rgb(92,234,143)" stop-opacity="0.70"/><stop offset="0.386" stop-color="rgb(94,235,138)" stop-opacity="0.71"/><stop offset="0.394" stop-color="rgb(92,234,141)" stop-opacity="0.65"/><stop offset="0.402" stop-color="rgb(110,237,123)" stop-opacity="0.67"/><stop offset="0.409" stop-color="rgb(128,238,106)" stop-opacity="0.67"/><stop offset="0.417" stop-color="rgb(105,236,128)" stop-opacity="0.70"/><stop offset="0.425" stop-color="rgb(154,239,92)" stop-opacity="0.70"/><stop offset="0.433" stop-color="rgb(153,239,92)" stop-opacity="0.78"/><stop offset="0.441" stop-color="rgb(164,239,89)" stop-opacity="0.57"/><stop offset="0.449" stop-color="rgb(174,239,85)" stop-opacity="0.74"/><stop offset="0.457" stop-color="rgb(123,238,110)" stop-opacity="0.69"/><stop offset="0.465" stop-color="rgb(156,239,91)" stop-opacity="0.72"/><stop offset="0.472" stop-color="rgb(174,239,85)" stop-opacity="0.73"/><stop offset="0.480" stop-color="rgb(142,239,96)" stop-opacity="0.55"/><stop offset="0.488" stop-color="rgb(136,239,99)" stop-opacity="0.61"/><stop offset="0.496" stop-color="rgb(128,238,104)" stop-opacity="0.67"/><stop offset="0.504" stop-color="rgb(95,235,137)" stop-opacity="0.58"/><stop offset="0.512" stop-color="rgb(96,235,136)" stop-opacity="0.73"/><stop offset="0.520" stop-color="rgb(106,236,126)" stop-opacity="0.73"/><stop offset="0.528" stop-color="rgb(86,232,154)" stop-opacity="0.56"/><stop offset="0.535" stop-color="rgb(79,229,170)" stop-opacity="0.59"/><stop offset="0.543" stop-color="rgb(90,234,146)" stop-opacity="0.57"/><stop offset="0.551" stop-color="rgb(87,233,151)" stop-opacity="0.53"/><stop offset="0.559" stop-color="rgb(82,230,164)" stop-opacity="0.41"/><stop offset="0.567" stop-color="rgb(75,226,182)" stop-opacity="0.44"/><stop offset="0.575" stop-color="rgb(92,235,141)" stop-opacity="0.43"/><stop offset="0.583" stop-color="rgb(89,234,148)" stop-opacity="0.60"/><stop offset="0.591" stop-color="rgb(82,230,164)" stop-opacity="0.48"/><stop offset="0.598" stop-color="rgb(76,227,177)" stop-opacity="0.51"/><stop offset="0.606" stop-color="rgb(84,231,159)" stop-opacity="0.50"/><stop offset="0.614" stop-color="rgb(96,235,136)" stop-opacity="0.52"/><stop offset="0.622" stop-color="rgb(104,236,128)" stop-opacity="0.36"/><stop offset="0.630" stop-color="rgb(107,236,125)" stop-opacity="0.42"/><stop offset="0.638" stop-color="rgb(78,228,173)" stop-opacity="0.51"/><stop offset="0.646" stop-color="rgb(76,227,177)" stop-opacity="0.45"/><stop offset="0.654" stop-color="rgb(82,230,162)" stop-opacity="0.46"/><stop offset="0.661" stop-color="rgb(81,230,165)" stop-opacity="0.44"/><stop offset="0.669" stop-color="rgb(84,231,158)" stop-opacity="0.49"/><stop offset="0.677" stop-color="rgb(89,234,148)" stop-opacity="0.51"/><stop offset="0.685" stop-color="rgb(98,235,134)" stop-opacity="0.35"/><stop offset="0.693" stop-color="rgb(82,230,162)" stop-opacity="0.46"/><stop offset="0.701" stop-color="rgb(105,236,127)" stop-opacity="0.42"/><stop offset="0.709" stop-color="rgb(79,229,169)" stop-opacity="0.43"/><stop offset="0.717" stop-color="rgb(78,228,173)" stop-opacity="0.40"/><stop offset="0.724" stop-color="rgb(75,222,191)" stop-opacity="0.44"/><stop offset="0.732" stop-color="rgb(75,223,189)" stop-opacity="0.46"/><stop offset="0.740" stop-color="rgb(75,224,186)" stop-opacity="0.46"/><stop offset="0.748" stop-color="rgb(76,227,177)" stop-opacity="0.48"/><stop offset="0.756" stop-color="rgb(76,228,176)" stop-opacity="0.40"/><stop offset="0.764" stop-color="rgb(83,230,161)" stop-opacity="0.44"/><stop offset="0.772" stop-color="rgb(75,226,181)" stop-opacity="0.42"/><stop offset="0.780" stop-color="rgb(75,222,191)" stop-opacity="0.38"/><stop offset="0.787" stop-color="rgb(83,231,160)" stop-opacity="0.43"/><stop offset="0.795" stop-color="rgb(89,234,148)" stop-opacity="0.45"/><stop offset="0.803" stop-color="rgb(79,229,169)" stop-opacity="0.40"/><stop offset="0.811" stop-color="rgb(86,232,156)" stop-opacity="0.59"/><stop offset="0.819" stop-color="rgb(75,224,186)" stop-opacity="0.39"/><stop offset="0.827" stop-color="rgb(75,222,191)" stop-opacity="0.44"/><stop offset="0.835" stop-color="rgb(75,219,201)" stop-opacity="0.43"/><stop offset="0.843" stop-color="rgb(75,223,191)" stop-opacity="0.46"/><stop offset="0.850" stop-color="rgb(75,221,195)" stop-opacity="0.41"/><stop offset="0.858" stop-color="rgb(75,218,201)" stop-opacity="0.40"/><stop offset="0.866" stop-color="rgb(75,223,189)" stop-opacity="0.41"/><stop offset="0.874" stop-color="rgb(75,226,180)" stop-opacity="0.45"/><stop offset="0.882" stop-color="rgb(82,230,162)" stop-opacity="0.39"/><stop offset="0.890" stop-color="rgb(76,227,177)" stop-opacity="0.36"/><stop offset="0.898" stop-color="rgb(75,222,192)" stop-opacity="0.44"/><stop offset="0.906" stop-color="rgb(78,228,173)" stop-opacity="0.42"/><stop offset="0.913" stop-color="rgb(75,223,189)" stop-opacity="0.43"/><stop offset="0.921" stop-color="rgb(75,225,183)" stop-opacity="0.40"/><stop offset="0.929" stop-color="rgb(75,217,204)" stop-opacity="0.43"/><stop offset="0.937" stop-color="rgb(75,217,204)" stop-opacity="0.42"/><stop offset="0.945" stop-color="rgb(75,217,204)" stop-opacity="0.44"/><stop offset="0.953" stop-color="rgb(75,219,201)" stop-opacity="0.38"/><stop offset="0.961" stop-color="rgb(75,217,204)" stop-opacity="0.39"/><stop offset="0.969" stop-color="rgb(75,217,204)" stop-opacity="0.40"/><stop offset="0.976" stop-color="rgb(75,217,204)" stop-opacity="0.33"/><stop offset="0.984" stop-color="rgb(75,217,204)" stop-opacity="0.37"/><stop offset="0.992" stop-color="rgb(75,221,195)" stop-opacity="0.43"/><stop offset="1.000" stop-color="rgb(75,218,203)" stop-opacity="0.47"/></linearGradient>
<linearGradient id="g8" gradientUnits="userSpaceOnUse" x1="106.0" x2="168.7" y1="0" y2="0"><stop offset="0.000" stop-color="rgb(154,239,92)" stop-opacity="0.64"/><stop offset="0.023" stop-color="rgb(194,236,81)" stop-opacity="0.77"/><stop offset="0.045" stop-color="rgb(160,239,90)" stop-opacity="0.75"/><stop offset="0.068" stop-color="rgb(165,239,88)" stop-opacity="0.75"/><stop offset="0.091" stop-color="rgb(136,239,99)" stop-opacity="0.65"/><stop offset="0.114" stop-color="rgb(189,238,81)" stop-opacity="0.66"/><stop offset="0.136" stop-color="rgb(196,236,81)" stop-opacity="0.69"/><stop offset="0.159" stop-color="rgb(181,239,82)" stop-opacity="0.73"/><stop offset="0.182" stop-color="rgb(195,236,81)" stop-opacity="0.79"/><stop offset="0.205" stop-color="rgb(145,239,95)" stop-opacity="0.83"/><stop offset="0.227" stop-color="rgb(160,239,91)" stop-opacity="0.85"/><stop offset="0.250" stop-color="rgb(132,239,102)" stop-opacity="0.80"/><stop offset="0.273" stop-color="rgb(133,239,100)" stop-opacity="0.70"/><stop offset="0.295" stop-color="rgb(141,239,97)" stop-opacity="0.80"/><stop offset="0.318" stop-color="rgb(142,239,97)" stop-opacity="0.77"/><stop offset="0.341" stop-color="rgb(112,237,121)" stop-opacity="0.72"/><stop offset="0.364" stop-color="rgb(123,238,110)" stop-opacity="0.73"/><stop offset="0.386" stop-color="rgb(144,239,96)" stop-opacity="0.76"/><stop offset="0.409" stop-color="rgb(160,239,90)" stop-opacity="0.84"/><stop offset="0.432" stop-color="rgb(135,239,99)" stop-opacity="0.86"/><stop offset="0.455" stop-color="rgb(182,239,82)" stop-opacity="0.71"/><stop offset="0.477" stop-color="rgb(161,239,90)" stop-opacity="0.73"/><stop offset="0.500" stop-color="rgb(170,239,86)" stop-opacity="0.63"/><stop offset="0.523" stop-color="rgb(233,227,77)" stop-opacity="0.70"/><stop offset="0.545" stop-color="rgb(246,189,78)" stop-opacity="0.72"/><stop offset="0.568" stop-color="rgb(247,199,81)" stop-opacity="0.80"/><stop offset="0.591" stop-color="rgb(178,239,83)" stop-opacity="0.71"/><stop offset="0.614" stop-color="rgb(128,238,105)" stop-opacity="0.60"/><stop offset="0.636" stop-color="rgb(101,236,132)" stop-opacity="0.69"/><stop offset="0.659" stop-color="rgb(97,235,135)" stop-opacity="0.69"/><stop offset="0.682" stop-color="rgb(107,236,126)" stop-opacity="0.78"/><stop offset="0.705" stop-color="rgb(129,238,104)" stop-opacity="0.66"/><stop offset="0.727" stop-color="rgb(152,239,93)" stop-opacity="0.76"/><stop offset="0.750" stop-color="rgb(100,236,132)" stop-opacity="0.71"/><stop offset="0.773" stop-color="rgb(97,235,135)" stop-opacity="0.78"/><stop offset="0.795" stop-color="rgb(128,238,106)" stop-opacity="0.70"/><stop offset="0.818" stop-color="rgb(110,237,122)" stop-opacity="0.70"/><stop offset="0.841" stop-color="rgb(108,236,125)" stop-opacity="0.62"/><stop offset="0.864" stop-color="rgb(122,238,111)" stop-opacity="0.73"/><stop offset="0.886" stop-color="rgb(111,237,122)" stop-opacity="0.69"/><stop offset="0.909" stop-color="rgb(92,235,141)" stop-opacity="0.68"/><stop offset="0.932" stop-color="rgb(88,233,149)" stop-opacity="0.65"/><stop offset="0.955" stop-color="rgb(92,234,142)" stop-opacity="0.77"/><stop offset="0.977" stop-color="rgb(117,237,116)" stop-opacity="0.65"/><stop offset="1.000" stop-color="rgb(86,232,155)" stop-opacity="0.62"/></linearGradient>
<linearGradient id="g9" gradientUnits="userSpaceOnUse" x1="63.0" x2="134.8" y1="0" y2="0"><stop offset="0.000" stop-color="rgb(75,221,192)" stop-opacity="0.29"/><stop offset="0.018" stop-color="rgb(75,221,195)" stop-opacity="0.31"/><stop offset="0.036" stop-color="rgb(75,223,188)" stop-opacity="0.32"/><stop offset="0.055" stop-color="rgb(80,230,167)" stop-opacity="0.32"/><stop offset="0.073" stop-color="rgb(75,227,179)" stop-opacity="0.36"/><stop offset="0.091" stop-color="rgb(84,231,158)" stop-opacity="0.43"/><stop offset="0.109" stop-color="rgb(80,230,168)" stop-opacity="0.44"/><stop offset="0.127" stop-color="rgb(78,228,173)" stop-opacity="0.37"/><stop offset="0.145" stop-color="rgb(75,227,179)" stop-opacity="0.37"/><stop offset="0.164" stop-color="rgb(91,234,145)" stop-opacity="0.45"/><stop offset="0.182" stop-color="rgb(94,235,138)" stop-opacity="0.45"/><stop offset="0.200" stop-color="rgb(103,236,130)" stop-opacity="0.48"/><stop offset="0.218" stop-color="rgb(82,230,162)" stop-opacity="0.43"/><stop offset="0.236" stop-color="rgb(82,230,164)" stop-opacity="0.40"/><stop offset="0.255" stop-color="rgb(75,224,186)" stop-opacity="0.43"/><stop offset="0.273" stop-color="rgb(75,227,179)" stop-opacity="0.48"/><stop offset="0.291" stop-color="rgb(79,229,170)" stop-opacity="0.48"/><stop offset="0.309" stop-color="rgb(79,229,169)" stop-opacity="0.45"/><stop offset="0.327" stop-color="rgb(91,234,145)" stop-opacity="0.49"/><stop offset="0.345" stop-color="rgb(80,230,168)" stop-opacity="0.46"/><stop offset="0.364" stop-color="rgb(84,231,158)" stop-opacity="0.47"/><stop offset="0.382" stop-color="rgb(75,225,182)" stop-opacity="0.44"/><stop offset="0.400" stop-color="rgb(81,230,166)" stop-opacity="0.43"/><stop offset="0.418" stop-color="rgb(78,229,170)" stop-opacity="0.48"/><stop offset="0.436" stop-color="rgb(82,230,164)" stop-opacity="0.49"/><stop offset="0.455" stop-color="rgb(89,234,149)" stop-opacity="0.55"/><stop offset="0.473" stop-color="rgb(85,232,156)" stop-opacity="0.47"/><stop offset="0.491" stop-color="rgb(83,231,160)" stop-opacity="0.49"/><stop offset="0.509" stop-color="rgb(76,227,177)" stop-opacity="0.52"/><stop offset="0.527" stop-color="rgb(75,227,177)" stop-opacity="0.48"/><stop offset="0.545" stop-color="rgb(75,227,179)" stop-opacity="0.48"/><stop offset="0.564" stop-color="rgb(75,218,202)" stop-opacity="0.53"/><stop offset="0.582" stop-color="rgb(75,225,184)" stop-opacity="0.42"/><stop offset="0.600" stop-color="rgb(78,228,173)" stop-opacity="0.51"/><stop offset="0.618" stop-color="rgb(75,227,179)" stop-opacity="0.56"/><stop offset="0.636" stop-color="rgb(85,232,156)" stop-opacity="0.42"/><stop offset="0.655" stop-color="rgb(78,228,173)" stop-opacity="0.46"/><stop offset="0.673" stop-color="rgb(75,224,186)" stop-opacity="0.43"/><stop offset="0.691" stop-color="rgb(75,225,185)" stop-opacity="0.48"/><stop offset="0.709" stop-color="rgb(82,230,164)" stop-opacity="0.49"/><stop offset="0.727" stop-color="rgb(87,233,152)" stop-opacity="0.50"/><stop offset="0.745" stop-color="rgb(92,235,141)" stop-opacity="0.45"/><stop offset="0.764" stop-color="rgb(85,232,156)" stop-opacity="0.43"/><stop offset="0.782" stop-color="rgb(86,232,155)" stop-opacity="0.47"/><stop offset="0.800" stop-color="rgb(81,230,165)" stop-opacity="0.41"/><stop offset="0.818" stop-color="rgb(92,234,142)" stop-opacity="0.39"/><stop offset="0.836" stop-color="rgb(83,231,159)" stop-opacity="0.39"/><stop offset="0.855" stop-color="rgb(80,230,168)" stop-opacity="0.38"/><stop offset="0.873" stop-color="rgb(75,224,187)" stop-opacity="0.43"/><stop offset="0.891" stop-color="rgb(78,229,172)" stop-opacity="0.45"/><stop offset="0.909" stop-color="rgb(83,231,159)" stop-opacity="0.42"/><stop offset="0.927" stop-color="rgb(88,233,150)" stop-opacity="0.36"/><stop offset="0.945" stop-color="rgb(75,224,188)" stop-opacity="0.35"/><stop offset="0.964" stop-color="rgb(75,219,201)" stop-opacity="0.34"/><stop offset="0.982" stop-color="rgb(75,219,200)" stop-opacity="0.40"/><stop offset="1.000" stop-color="rgb(75,222,192)" stop-opacity="0.40"/></linearGradient>
<linearGradient id="g10" gradientUnits="userSpaceOnUse" x1="116.8" x2="202.8" y1="0" y2="0"><stop offset="0.000" stop-color="rgb(237,220,79)" stop-opacity="0.74"/><stop offset="0.015" stop-color="rgb(238,218,79)" stop-opacity="0.85"/><stop offset="0.030" stop-color="rgb(241,212,80)" stop-opacity="0.72"/><stop offset="0.045" stop-color="rgb(237,219,79)" stop-opacity="0.58"/><stop offset="0.061" stop-color="rgb(242,212,80)" stop-opacity="0.70"/><stop offset="0.076" stop-color="rgb(247,198,81)" stop-opacity="0.81"/><stop offset="0.091" stop-color="rgb(241,145,68)" stop-opacity="0.74"/><stop offset="0.106" stop-color="rgb(223,88,53)" stop-opacity="0.82"/><stop offset="0.121" stop-color="rgb(213,81,51)" stop-opacity="1.00"/><stop offset="0.136" stop-color="rgb(206,76,50)" stop-opacity="0.78"/><stop offset="0.152" stop-color="rgb(201,72,50)" stop-opacity="1.00"/><stop offset="0.167" stop-color="rgb(214,82,51)" stop-opacity="0.87"/><stop offset="0.182" stop-color="rgb(213,81,51)" stop-opacity="1.00"/><stop offset="0.197" stop-color="rgb(241,147,68)" stop-opacity="0.80"/><stop offset="0.212" stop-color="rgb(245,170,74)" stop-opacity="0.98"/><stop offset="0.227" stop-color="rgb(232,108,57)" stop-opacity="0.94"/><stop offset="0.242" stop-color="rgb(238,125,61)" stop-opacity="1.00"/><stop offset="0.258" stop-color="rgb(246,176,75)" stop-opacity="0.88"/><stop offset="0.273" stop-color="rgb(246,177,76)" stop-opacity="0.76"/><stop offset="0.288" stop-color="rgb(246,177,76)" stop-opacity="0.84"/><stop offset="0.303" stop-color="rgb(246,189,78)" stop-opacity="0.87"/><stop offset="0.318" stop-color="rgb(246,182,77)" stop-opacity="0.78"/><stop offset="0.333" stop-color="rgb(247,199,81)" stop-opacity="0.90"/><stop offset="0.348" stop-color="rgb(239,216,79)" stop-opacity="0.59"/><stop offset="0.364" stop-color="rgb(232,229,77)" stop-opacity="0.68"/><stop offset="0.379" stop-color="rgb(234,225,78)" stop-opacity="0.71"/><stop offset="0.394" stop-color="rgb(243,209,80)" stop-opacity="0.75"/><stop offset="0.409" stop-color="rgb(246,189,78)" stop-opacity="0.68"/><stop offset="0.424" stop-color="rgb(246,175,75)" stop-opacity="0.87"/><stop offset="0.439" stop-color="rgb(246,176,75)" stop-opacity="0.80"/><stop offset="0.455" stop-color="rgb(246,173,75)" stop-opacity="0.77"/><stop offset="0.470" stop-color="rgb(246,173,75)" stop-opacity="0.87"/><stop offset="0.485" stop-color="rgb(246,184,77)" stop-opacity="0.72"/><stop offset="0.500" stop-color="rgb(246,175,75)" stop-opacity="0.93"/><stop offset="0.515" stop-color="rgb(244,167,73)" stop-opacity="0.75"/><stop offset="0.530" stop-color="rgb(243,159,72)" stop-opacity="0.74"/><stop offset="0.545" stop-color="rgb(243,161,72)" stop-opacity="0.95"/><stop offset="0.561" stop-color="rgb(244,164,72)" stop-opacity="0.99"/><stop offset="0.576" stop-color="rgb(244,166,73)" stop-opacity="0.89"/><stop offset="0.591" stop-color="rgb(245,169,73)" stop-opacity="0.97"/><stop offset="0.606" stop-color="rgb(244,166,73)" stop-opacity="0.86"/><stop offset="0.621" stop-color="rgb(245,170,74)" stop-opacity="0.84"/><stop offset="0.636" stop-color="rgb(245,170,74)" stop-opacity="0.85"/><stop offset="0.652" stop-color="rgb(246,177,76)" stop-opacity="0.84"/><stop offset="0.667" stop-color="rgb(246,176,75)" stop-opacity="0.84"/><stop offset="0.682" stop-color="rgb(246,173,75)" stop-opacity="0.80"/><stop offset="0.697" stop-color="rgb(245,168,73)" stop-opacity="0.73"/><stop offset="0.712" stop-color="rgb(238,126,62)" stop-opacity="0.99"/><stop offset="0.727" stop-color="rgb(189,66,49)" stop-opacity="0.97"/><stop offset="0.742" stop-color="rgb(182,63,49)" stop-opacity="0.94"/><stop offset="0.758" stop-color="rgb(178,61,49)" stop-opacity="0.96"/><stop offset="0.773" stop-color="rgb(175,61,49)" stop-opacity="1.00"/><stop offset="0.788" stop-color="rgb(175,61,49)" stop-opacity="0.97"/><stop offset="0.803" stop-color="rgb(241,147,68)" stop-opacity="0.76"/><stop offset="0.818" stop-color="rgb(89,234,149)" stop-opacity="0.72"/><stop offset="0.833" stop-color="rgb(75,226,181)" stop-opacity="0.68"/><stop offset="0.848" stop-color="rgb(75,224,186)" stop-opacity="0.70"/><stop offset="0.864" stop-color="rgb(75,225,184)" stop-opacity="0.75"/><stop offset="0.879" stop-color="rgb(75,226,180)" stop-opacity="0.78"/><stop offset="0.894" stop-color="rgb(76,227,177)" stop-opacity="0.74"/><stop offset="0.909" stop-color="rgb(83,230,161)" stop-opacity="0.74"/><stop offset="0.924" stop-color="rgb(81,230,166)" stop-opacity="0.74"/><stop offset="0.939" stop-color="rgb(87,233,151)" stop-opacity="0.69"/><stop offset="0.955" stop-color="rgb(240,214,80)" stop-opacity="0.76"/><stop offset="0.970" stop-color="rgb(246,176,76)" stop-opacity="0.92"/><stop offset="0.985" stop-color="rgb(246,190,79)" stop-opacity="0.82"/><stop offset="1.000" stop-color="rgb(246,188,78)" stop-opacity="0.80"/></linearGradient>
<linearGradient id="g11" gradientUnits="userSpaceOnUse" x1="303.0" x2="519.0" y1="0" y2="0"><stop offset="0.000" stop-color="rgb(75,220,199)" stop-opacity="0.40"/><stop offset="0.008" stop-color="rgb(79,229,169)" stop-opacity="0.43"/><stop offset="0.016" stop-color="rgb(75,225,183)" stop-opacity="0.40"/><stop offset="0.024" stop-color="rgb(75,222,192)" stop-opacity="0.42"/><stop offset="0.031" stop-color="rgb(75,217,204)" stop-opacity="0.41"/><stop offset="0.039" stop-color="rgb(75,217,204)" stop-opacity="0.35"/><stop offset="0.047" stop-color="rgb(75,218,202)" stop-opacity="0.44"/><stop offset="0.055" stop-color="rgb(75,221,197)" stop-opacity="0.41"/><stop offset="0.063" stop-color="rgb(76,227,177)" stop-opacity="0.40"/><stop offset="0.071" stop-color="rgb(75,225,185)" stop-opacity="0.40"/><stop offset="0.079" stop-color="rgb(75,222,191)" stop-opacity="0.43"/><stop offset="0.087" stop-color="rgb(75,224,187)" stop-opacity="0.44"/><stop offset="0.094" stop-color="rgb(75,217,204)" stop-opacity="0.39"/><stop offset="0.102" stop-color="rgb(75,225,185)" stop-opacity="0.41"/><stop offset="0.110" stop-color="rgb(82,230,164)" stop-opacity="0.45"/><stop offset="0.118" stop-color="rgb(75,225,182)" stop-opacity="0.44"/><stop offset="0.126" stop-color="rgb(79,229,170)" stop-opacity="0.47"/><stop offset="0.134" stop-color="rgb(75,225,185)" stop-opacity="0.43"/><stop offset="0.142" stop-color="rgb(75,219,199)" stop-opacity="0.39"/><stop offset="0.150" stop-color="rgb(75,226,180)" stop-opacity="0.43"/><stop offset="0.157" stop-color="rgb(78,229,173)" stop-opacity="0.43"/><stop offset="0.165" stop-color="rgb(75,222,191)" stop-opacity="0.50"/><stop offset="0.173" stop-color="rgb(75,223,190)" stop-opacity="0.35"/><stop offset="0.181" stop-color="rgb(75,225,182)" stop-opacity="0.42"/><stop offset="0.189" stop-color="rgb(75,222,191)" stop-opacity="0.35"/><stop offset="0.197" stop-color="rgb(75,224,187)" stop-opacity="0.25"/><stop offset="0.205" stop-color="rgb(75,224,187)" stop-opacity="0.17"/><stop offset="0.213" stop-color="rgb(79,229,168)" stop-opacity="0.19"/><stop offset="0.220" stop-color="rgb(92,235,141)" stop-opacity="0.20"/><stop offset="0.228" stop-color="rgb(90,234,146)" stop-opacity="0.30"/><stop offset="0.236" stop-color="rgb(88,233,149)" stop-opacity="0.46"/><stop offset="0.244" stop-color="rgb(128,238,105)" stop-opacity="0.53"/><stop offset="0.252" stop-color="rgb(160,239,90)" stop-opacity="0.70"/><stop offset="0.260" stop-color="rgb(188,238,81)" stop-opacity="0.61"/><stop offset="0.268" stop-color="rgb(166,239,88)" stop-opacity="0.68"/><stop offset="0.276" stop-color="rgb(125,238,108)" stop-opacity="0.58"/><stop offset="0.283" stop-color="rgb(96,235,136)" stop-opacity="0.74"/><stop offset="0.291" stop-color="rgb(112,237,121)" stop-opacity="0.68"/><stop offset="0.299" stop-color="rgb(110,237,123)" stop-opacity="0.73"/><stop offset="0.307" stop-color="rgb(146,239,95)" stop-opacity="0.74"/><stop offset="0.315" stop-color="rgb(134,239,100)" stop-opacity="0.61"/><stop offset="0.323" stop-color="rgb(117,237,117)" stop-opacity="0.65"/><stop offset="0.331" stop-color="rgb(113,237,120)" stop-opacity="0.75"/><stop offset="0.339" stop-color="rgb(108,236,125)" stop-opacity="0.75"/><stop offset="0.346" stop-color="rgb(125,238,109)" stop-opacity="0.63"/><stop offset="0.354" stop-color="rgb(154,239,92)" stop-opacity="0.68"/><stop offset="0.362" stop-color="rgb(170,239,86)" stop-opacity="0.72"/><stop offset="0.370" stop-color="rgb(131,239,103)" stop-opacity="0.56"/><stop offset="0.378" stop-color="rgb(140,239,98)" stop-opacity="0.63"/><stop offset="0.386" stop-color="rgb(174,239,85)" stop-opacity="0.77"/><stop offset="0.394" stop-color="rgb(144,239,95)" stop-opacity="0.63"/><stop offset="0.402" stop-color="rgb(150,239,94)" stop-opacity="0.69"/><stop offset="0.409" stop-color="rgb(128,238,105)" stop-opacity="0.60"/><stop offset="0.417" stop-color="rgb(130,239,104)" stop-opacity="0.69"/><stop offset="0.425" stop-color="rgb(106,236,126)" stop-opacity="0.80"/><stop offset="0.433" stop-color="rgb(123,238,110)" stop-opacity="0.71"/><stop offset="0.441" stop-color="rgb(132,239,102)" stop-opacity="0.63"/><stop offset="0.449" stop-color="rgb(111,237,122)" stop-opacity="0.68"/><stop offset="0.457" stop-color="rgb(92,234,141)" stop-opacity="0.84"/><stop offset="0.465" stop-color="rgb(118,237,115)" stop-opacity="0.78"/><stop offset="0.472" stop-color="rgb(119,238,114)" stop-opacity="0.62"/><stop offset="0.480" stop-color="rgb(114,237,118)" stop-opacity="0.68"/><stop offset="0.488" stop-color="rgb(127,238,106)" stop-opacity="0.80"/><stop offset="0.496" stop-color="rgb(136,239,99)" stop-opacity="0.49"/><stop offset="0.504" stop-color="rgb(137,239,99)" stop-opacity="0.58"/><stop offset="0.512" stop-color="rgb(115,237,118)" stop-opacity="0.64"/><stop offset="0.520" stop-color="rgb(105,236,127)" stop-opacity="0.63"/><stop offset="0.528" stop-color="rgb(106,236,126)" stop-opacity="0.56"/><stop offset="0.535" stop-color="rgb(99,236,133)" stop-opacity="0.60"/><stop offset="0.543" stop-color="rgb(118,237,115)" stop-opacity="0.67"/><stop offset="0.551" stop-color="rgb(105,236,127)" stop-opacity="0.55"/><stop offset="0.559" stop-color="rgb(89,234,148)" stop-opacity="0.54"/><stop offset="0.567" stop-color="rgb(114,237,118)" stop-opacity="0.46"/><stop offset="0.575" stop-color="rgb(89,234,148)" stop-opacity="0.48"/><stop offset="0.583" stop-color="rgb(114,237,119)" stop-opacity="0.41"/><stop offset="0.591" stop-color="rgb(81,230,166)" stop-opacity="0.47"/><stop offset="0.598" stop-color="rgb(75,222,192)" stop-opacity="0.43"/><stop offset="0.606" stop-color="rgb(75,225,184)" stop-opacity="0.39"/><stop offset="0.614" stop-color="rgb(75,225,182)" stop-opacity="0.42"/><stop offset="0.622" stop-color="rgb(75,225,185)" stop-opacity="0.48"/><stop offset="0.630" stop-color="rgb(75,227,178)" stop-opacity="0.46"/><stop offset="0.638" stop-color="rgb(75,226,180)" stop-opacity="0.47"/><stop offset="0.646" stop-color="rgb(75,226,181)" stop-opacity="0.50"/><stop offset="0.654" stop-color="rgb(87,232,153)" stop-opacity="0.48"/><stop offset="0.661" stop-color="rgb(87,233,152)" stop-opacity="0.45"/><stop offset="0.669" stop-color="rgb(92,234,143)" stop-opacity="0.47"/><stop offset="0.677" stop-color="rgb(112,237,121)" stop-opacity="0.45"/><stop offset="0.685" stop-color="rgb(90,234,145)" stop-opacity="0.47"/><stop offset="0.693" stop-color="rgb(79,229,170)" stop-opacity="0.37"/><stop offset="0.701" stop-color="rgb(75,227,179)" stop-opacity="0.51"/><stop offset="0.709" stop-color="rgb(78,228,173)" stop-opacity="0.42"/><stop offset="0.717" stop-color="rgb(75,223,189)" stop-opacity="0.45"/><stop offset="0.724" stop-color="rgb(75,222,191)" stop-opacity="0.38"/><stop offset="0.732" stop-color="rgb(84,231,159)" stop-opacity="0.45"/><stop offset="0.740" stop-color="rgb(85,231,157)" stop-opacity="0.42"/><stop offset="0.748" stop-color="rgb(75,225,182)" stop-opacity="0.47"/><stop offset="0.756" stop-color="rgb(75,224,186)" stop-opacity="0.44"/><stop offset="0.764" stop-color="rgb(75,222,191)" stop-opacity="0.43"/><stop offset="0.772" stop-color="rgb(75,225,184)" stop-opacity="0.41"/><stop offset="0.780" stop-color="rgb(75,217,204)" stop-opacity="0.39"/><stop offset="0.787" stop-color="rgb(75,220,199)" stop-opacity="0.42"/><stop offset="0.795" stop-color="rgb(75,219,201)" stop-opacity="0.42"/><stop offset="0.803" stop-color="rgb(75,223,188)" stop-opacity="0.44"/><stop offset="0.811" stop-color="rgb(75,224,186)" stop-opacity="0.45"/><stop offset="0.819" stop-color="rgb(75,220,199)" stop-opacity="0.46"/><stop offset="0.827" stop-color="rgb(75,220,197)" stop-opacity="0.41"/><stop offset="0.835" stop-color="rgb(75,223,188)" stop-opacity="0.35"/><stop offset="0.843" stop-color="rgb(75,226,180)" stop-opacity="0.37"/><stop offset="0.850" stop-color="rgb(75,221,195)" stop-opacity="0.39"/><stop offset="0.858" stop-color="rgb(75,225,182)" stop-opacity="0.44"/><stop offset="0.866" stop-color="rgb(75,227,179)" stop-opacity="0.43"/><stop offset="0.874" stop-color="rgb(93,235,140)" stop-opacity="0.35"/><stop offset="0.882" stop-color="rgb(101,236,132)" stop-opacity="0.40"/><stop offset="0.890" stop-color="rgb(101,236,132)" stop-opacity="0.31"/><stop offset="0.898" stop-color="rgb(76,228,176)" stop-opacity="0.41"/><stop offset="0.906" stop-color="rgb(75,222,192)" stop-opacity="0.43"/><stop offset="0.913" stop-color="rgb(75,218,202)" stop-opacity="0.44"/><stop offset="0.921" stop-color="rgb(75,219,201)" stop-opacity="0.39"/><stop offset="0.929" stop-color="rgb(75,225,182)" stop-opacity="0.40"/><stop offset="0.937" stop-color="rgb(78,229,171)" stop-opacity="0.43"/><stop offset="0.945" stop-color="rgb(75,225,182)" stop-opacity="0.41"/><stop offset="0.953" stop-color="rgb(75,227,179)" stop-opacity="0.37"/><stop offset="0.961" stop-color="rgb(75,217,204)" stop-opacity="0.42"/><stop offset="0.969" stop-color="rgb(75,219,200)" stop-opacity="0.44"/><stop offset="0.976" stop-color="rgb(75,217,204)" stop-opacity="0.41"/><stop offset="0.984" stop-color="rgb(75,221,195)" stop-opacity="0.39"/><stop offset="0.992" stop-color="rgb(75,227,179)" stop-opacity="0.42"/><stop offset="1.000" stop-color="rgb(83,231,160)" stop-opacity="0.34"/></linearGradient>
<linearGradient id="g12" gradientUnits="userSpaceOnUse" x1="379.0" x2="441.7" y1="0" y2="0"><stop offset="0.000" stop-color="rgb(173,239,86)" stop-opacity="0.71"/><stop offset="0.023" stop-color="rgb(143,239,96)" stop-opacity="0.83"/><stop offset="0.045" stop-color="rgb(148,239,95)" stop-opacity="0.80"/><stop offset="0.068" stop-color="rgb(137,239,99)" stop-opacity="0.80"/><stop offset="0.091" stop-color="rgb(142,239,97)" stop-opacity="0.73"/><stop offset="0.114" stop-color="rgb(145,239,95)" stop-opacity="0.64"/><stop offset="0.136" stop-color="rgb(108,236,124)" stop-opacity="0.64"/><stop offset="0.159" stop-color="rgb(126,238,108)" stop-opacity="0.74"/><stop offset="0.182" stop-color="rgb(127,238,107)" stop-opacity="0.90"/><stop offset="0.205" stop-color="rgb(138,239,98)" stop-opacity="0.58"/><stop offset="0.227" stop-color="rgb(163,239,89)" stop-opacity="0.63"/><stop offset="0.250" stop-color="rgb(137,239,99)" stop-opacity="0.72"/><stop offset="0.273" stop-color="rgb(108,236,124)" stop-opacity="0.78"/><stop offset="0.295" stop-color="rgb(105,236,127)" stop-opacity="0.76"/><stop offset="0.318" stop-color="rgb(104,236,129)" stop-opacity="0.69"/><stop offset="0.341" stop-color="rgb(101,236,132)" stop-opacity="0.80"/><stop offset="0.364" stop-color="rgb(109,237,124)" stop-opacity="0.67"/><stop offset="0.386" stop-color="rgb(103,236,129)" stop-opacity="0.71"/><stop offset="0.409" stop-color="rgb(92,235,140)" stop-opacity="0.61"/><stop offset="0.432" stop-color="rgb(99,236,134)" stop-opacity="0.65"/><stop offset="0.455" stop-color="rgb(111,237,122)" stop-opacity="0.71"/><stop offset="0.477" stop-color="rgb(121,238,112)" stop-opacity="0.71"/><stop offset="0.500" stop-color="rgb(124,238,109)" stop-opacity="0.79"/><stop offset="0.523" stop-color="rgb(233,228,77)" stop-opacity="0.85"/><stop offset="0.545" stop-color="rgb(246,187,78)" stop-opacity="0.72"/><stop offset="0.568" stop-color="rgb(246,177,76)" stop-opacity="0.80"/><stop offset="0.591" stop-color="rgb(189,238,81)" stop-opacity="0.59"/><stop offset="0.614" stop-color="rgb(126,238,108)" stop-opacity="0.78"/><stop offset="0.636" stop-color="rgb(140,239,97)" stop-opacity="0.80"/><stop offset="0.659" stop-color="rgb(140,239,97)" stop-opacity="0.66"/><stop offset="0.682" stop-color="rgb(110,237,122)" stop-opacity="0.70"/><stop offset="0.705" stop-color="rgb(92,235,141)" stop-opacity="0.70"/><stop offset="0.727" stop-color="rgb(107,236,126)" stop-opacity="0.64"/><stop offset="0.750" stop-color="rgb(101,236,132)" stop-opacity="0.78"/><stop offset="0.773" stop-color="rgb(96,235,136)" stop-opacity="0.66"/><stop offset="0.795" stop-color="rgb(94,235,138)" stop-opacity="0.62"/><stop offset="0.818" stop-color="rgb(105,236,127)" stop-opacity="0.69"/><stop offset="0.841" stop-color="rgb(123,238,109)" stop-opacity="0.65"/><stop offset="0.864" stop-color="rgb(138,239,98)" stop-opacity="0.80"/><stop offset="0.886" stop-color="rgb(130,239,104)" stop-opacity="0.69"/><stop offset="0.909" stop-color="rgb(140,239,97)" stop-opacity="0.74"/><stop offset="0.932" stop-color="rgb(132,239,101)" stop-opacity="0.59"/><stop offset="0.955" stop-color="rgb(92,235,141)" stop-opacity="0.71"/><stop offset="0.977" stop-color="rgb(100,236,133)" stop-opacity="0.72"/><stop offset="1.000" stop-color="rgb(114,237,118)" stop-opacity="0.66"/></linearGradient>
<linearGradient id="g13" gradientUnits="userSpaceOnUse" x1="336.0" x2="407.8" y1="0" y2="0"><stop offset="0.000" stop-color="rgb(75,226,182)" stop-opacity="0.29"/><stop offset="0.018" stop-color="rgb(75,221,196)" stop-opacity="0.33"/><stop offset="0.036" stop-color="rgb(75,226,182)" stop-opacity="0.30"/><stop offset="0.055" stop-color="rgb(75,225,185)" stop-opacity="0.31"/><stop offset="0.073" stop-color="rgb(88,233,150)" stop-opacity="0.39"/><stop offset="0.091" stop-color="rgb(75,226,180)" stop-opacity="0.40"/><stop offset="0.109" stop-color="rgb(87,233,152)" stop-opacity="0.38"/><stop offset="0.127" stop-color="rgb(78,228,173)" stop-opacity="0.40"/><stop offset="0.145" stop-color="rgb(77,228,175)" stop-opacity="0.36"/><stop offset="0.164" stop-color="rgb(87,232,154)" stop-opacity="0.35"/><stop offset="0.182" stop-color="rgb(87,232,153)" stop-opacity="0.42"/><stop offset="0.200" stop-color="rgb(90,234,145)" stop-opacity="0.42"/><stop offset="0.218" stop-color="rgb(82,230,163)" stop-opacity="0.39"/><stop offset="0.236" stop-color="rgb(84,231,158)" stop-opacity="0.41"/><stop offset="0.255" stop-color="rgb(75,225,183)" stop-opacity="0.40"/><stop offset="0.273" stop-color="rgb(75,225,185)" stop-opacity="0.46"/><stop offset="0.291" stop-color="rgb(75,222,192)" stop-opacity="0.49"/><stop offset="0.309" stop-color="rgb(75,225,184)" stop-opacity="0.46"/><stop offset="0.327" stop-color="rgb(75,227,178)" stop-opacity="0.43"/><stop offset="0.345" stop-color="rgb(75,225,186)" stop-opacity="0.47"/><stop offset="0.364" stop-color="rgb(75,221,194)" stop-opacity="0.48"/><stop offset="0.382" stop-color="rgb(75,225,182)" stop-opacity="0.54"/><stop offset="0.400" stop-color="rgb(81,230,166)" stop-opacity="0.51"/><stop offset="0.418" stop-color="rgb(82,230,164)" stop-opacity="0.55"/><stop offset="0.436" stop-color="rgb(83,231,160)" stop-opacity="0.50"/><stop offset="0.455" stop-color="rgb(75,227,178)" stop-opacity="0.47"/><stop offset="0.473" stop-color="rgb(95,235,137)" stop-opacity="0.50"/><stop offset="0.491" stop-color="rgb(95,235,137)" stop-opacity="0.53"/><stop offset="0.509" stop-color="rgb(77,228,176)" stop-opacity="0.44"/><stop offset="0.527" stop-color="rgb(81,230,165)" stop-opacity="0.53"/><stop offset="0.545" stop-color="rgb(77,228,174)" stop-opacity="0.51"/><stop offset="0.564" stop-color="rgb(87,233,152)" stop-opacity="0.45"/><stop offset="0.582" stop-color="rgb(75,227,179)" stop-opacity="0.51"/><stop offset="0.600" stop-color="rgb(78,228,173)" stop-opacity="0.48"/><stop offset="0.618" stop-color="rgb(83,231,159)" stop-opacity="0.48"/><stop offset="0.636" stop-color="rgb(78,229,170)" stop-opacity="0.46"/><stop offset="0.655" stop-color="rgb(75,221,195)" stop-opacity="0.49"/><stop offset="0.673" stop-color="rgb(75,217,204)" stop-opacity="0.42"/><stop offset="0.691" stop-color="rgb(75,220,198)" stop-opacity="0.42"/><stop offset="0.709" stop-color="rgb(76,227,177)" stop-opacity="0.44"/><stop offset="0.727" stop-color="rgb(75,223,190)" stop-opacity="0.53"/><stop offset="0.745" stop-color="rgb(75,221,195)" stop-opacity="0.46"/><stop offset="0.764" stop-color="rgb(87,233,151)" stop-opacity="0.45"/><stop offset="0.782" stop-color="rgb(75,226,180)" stop-opacity="0.45"/><stop offset="0.800" stop-color="rgb(75,225,186)" stop-opacity="0.49"/><stop offset="0.818" stop-color="rgb(75,226,181)" stop-opacity="0.41"/><stop offset="0.836" stop-color="rgb(75,222,191)" stop-opacity="0.38"/><stop offset="0.855" stop-color="rgb(78,228,173)" stop-opacity="0.40"/><stop offset="0.873" stop-color="rgb(75,226,182)" stop-opacity="0.38"/><stop offset="0.891" stop-color="rgb(75,222,191)" stop-opacity="0.42"/><stop offset="0.909" stop-color="rgb(75,225,185)" stop-opacity="0.46"/><stop offset="0.927" stop-color="rgb(83,231,160)" stop-opacity="0.44"/><stop offset="0.945" stop-color="rgb(82,230,162)" stop-opacity="0.35"/><stop offset="0.964" stop-color="rgb(75,227,177)" stop-opacity="0.34"/><stop offset="0.982" stop-color="rgb(75,225,184)" stop-opacity="0.44"/><stop offset="1.000" stop-color="rgb(75,223,190)" stop-opacity="0.33"/></linearGradient>
<linearGradient id="g14" gradientUnits="userSpaceOnUse" x1="389.8" x2="475.8" y1="0" y2="0"><stop offset="0.000" stop-color="rgb(225,230,78)" stop-opacity="0.68"/><stop offset="0.015" stop-color="rgb(219,231,78)" stop-opacity="0.72"/><stop offset="0.030" stop-color="rgb(226,230,78)" stop-opacity="0.67"/><stop offset="0.045" stop-color="rgb(237,221,78)" stop-opacity="0.71"/><stop offset="0.061" stop-color="rgb(233,227,77)" stop-opacity="0.71"/><stop offset="0.076" stop-color="rgb(246,193,79)" stop-opacity="0.79"/><stop offset="0.091" stop-color="rgb(241,143,67)" stop-opacity="0.81"/><stop offset="0.106" stop-color="rgb(219,85,52)" stop-opacity="0.91"/><stop offset="0.121" stop-color="rgb(210,79,51)" stop-opacity="0.95"/><stop offset="0.136" stop-color="rgb(211,79,51)" stop-opacity="0.72"/><stop offset="0.152" stop-color="rgb(213,81,51)" stop-opacity="0.88"/><stop offset="0.167" stop-color="rgb(202,73,50)" stop-opacity="1.00"/><stop offset="0.182" stop-color="rgb(208,77,50)" stop-opacity="1.00"/><stop offset="0.197" stop-color="rgb(240,138,65)" stop-opacity="0.88"/><stop offset="0.212" stop-color="rgb(245,170,74)" stop-opacity="0.92"/><stop offset="0.227" stop-color="rgb(230,103,56)" stop-opacity="0.95"/><stop offset="0.242" stop-color="rgb(234,114,59)" stop-opacity="1.00"/><stop offset="0.258" stop-color="rgb(243,159,72)" stop-opacity="0.84"/><stop offset="0.273" stop-color="rgb(244,162,72)" stop-opacity="0.83"/><stop offset="0.288" stop-color="rgb(244,167,73)" stop-opacity="0.85"/><stop offset="0.303" stop-color="rgb(246,176,75)" stop-opacity="0.67"/><stop offset="0.318" stop-color="rgb(246,182,77)" stop-opacity="0.81"/><stop offset="0.333" stop-color="rgb(247,201,82)" stop-opacity="0.77"/><stop offset="0.348" stop-color="rgb(241,213,80)" stop-opacity="0.59"/><stop offset="0.364" stop-color="rgb(233,227,77)" stop-opacity="0.63"/><stop offset="0.379" stop-color="rgb(233,226,77)" stop-opacity="0.63"/><stop offset="0.394" stop-color="rgb(242,211,80)" stop-opacity="0.92"/><stop offset="0.409" stop-color="rgb(246,193,80)" stop-opacity="0.74"/><stop offset="0.424" stop-color="rgb(246,181,77)" stop-opacity="0.78"/><stop offset="0.439" stop-color="rgb(246,173,75)" stop-opacity="0.97"/><stop offset="0.455" stop-color="rgb(246,180,76)" stop-opacity="0.83"/><stop offset="0.470" stop-color="rgb(246,182,77)" stop-opacity="0.82"/><stop offset="0.485" stop-color="rgb(246,184,77)" stop-opacity="0.86"/><stop offset="0.500" stop-color="rgb(246,181,77)" stop-opacity="0.87"/><stop offset="0.515" stop-color="rgb(246,177,76)" stop-opacity="0.94"/><stop offset="0.530" stop-color="rgb(246,184,77)" stop-opacity="0.97"/><stop offset="0.545" stop-color="rgb(246,175,75)" stop-opacity="0.99"/><stop offset="0.561" stop-color="rgb(246,176,76)" stop-opacity="0.91"/><stop offset="0.576" stop-color="rgb(246,178,76)" stop-opacity="0.91"/><stop offset="0.591" stop-color="rgb(246,179,76)" stop-opacity="0.74"/><stop offset="0.606" stop-color="rgb(246,175,75)" stop-opacity="0.88"/><stop offset="0.621" stop-color="rgb(246,178,76)" stop-opacity="0.86"/><stop offset="0.636" stop-color="rgb(245,169,73)" stop-opacity="0.87"/><stop offset="0.652" stop-color="rgb(244,165,72)" stop-opacity="0.82"/><stop offset="0.667" stop-color="rgb(245,172,74)" stop-opacity="0.79"/><stop offset="0.682" stop-color="rgb(246,173,75)" stop-opacity="0.81"/><stop offset="0.697" stop-color="rgb(245,171,74)" stop-opacity="0.96"/><stop offset="0.712" stop-color="rgb(237,120,60)" stop-opacity="0.82"/><stop offset="0.727" stop-color="rgb(189,66,49)" stop-opacity="0.88"/><stop offset="0.742" stop-color="rgb(190,66,49)" stop-opacity="1.00"/><stop offset="0.758" stop-color="rgb(192,67,49)" stop-opacity="0.99"/><stop offset="0.773" stop-color="rgb(181,62,49)" stop-opacity="1.00"/><stop offset="0.788" stop-color="rgb(183,64,49)" stop-opacity="0.80"/><stop offset="0.803" stop-color="rgb(241,144,68)" stop-opacity="0.89"/><stop offset="0.818" stop-color="rgb(95,235,137)" stop-opacity="0.67"/><stop offset="0.833" stop-color="rgb(83,231,160)" stop-opacity="0.72"/><stop offset="0.848" stop-color="rgb(86,232,155)" stop-opacity="0.80"/><stop offset="0.864" stop-color="rgb(81,230,166)" stop-opacity="0.59"/><stop offset="0.879" stop-color="rgb(78,229,171)" stop-opacity="0.77"/><stop offset="0.894" stop-color="rgb(82,230,162)" stop-opacity="0.70"/><stop offset="0.909" stop-color="rgb(85,232,156)" stop-opacity="0.65"/><stop offset="0.924" stop-color="rgb(86,232,155)" stop-opacity="0.72"/><stop offset="0.939" stop-color="rgb(89,234,147)" stop-opacity="0.68"/><stop offset="0.955" stop-color="rgb(223,230,78)" stop-opacity="0.90"/><stop offset="0.970" stop-color="rgb(246,181,77)" stop-opacity="0.91"/><stop offset="0.985" stop-color="rgb(246,178,76)" stop-opacity="0.74"/><stop offset="1.000" stop-color="rgb(246,175,75)" stop-opacity="0.91"/></linearGradient>
<linearGradient id="g15" gradientUnits="userSpaceOnUse" x1="166.4" x2="382.4" y1="0" y2="0"><stop offset="0.000" stop-color="rgb(76,228,176)" stop-opacity="0.39"/><stop offset="0.008" stop-color="rgb(75,223,190)" stop-opacity="0.43"/><stop offset="0.016" stop-color="rgb(75,221,193)" stop-opacity="0.37"/><stop offset="0.024" stop-color="rgb(75,222,191)" stop-opacity="0.41"/><stop offset="0.031" stop-color="rgb(75,224,186)" stop-opacity="0.47"/><stop offset="0.039" stop-color="rgb(75,223,190)" stop-opacity="0.40"/><stop offset="0.047" stop-color="rgb(75,223,190)" stop-opacity="0.34"/><stop offset="0.055" stop-color="rgb(75,221,195)" stop-opacity="0.42"/><stop offset="0.063" stop-color="rgb(75,220,199)" stop-opacity="0.44"/><stop offset="0.071" stop-color="rgb(75,220,199)" stop-opacity="0.39"/><stop offset="0.079" stop-color="rgb(75,218,201)" stop-opacity="0.44"/><stop offset="0.087" stop-color="rgb(75,221,194)" stop-opacity="0.41"/><stop offset="0.094" stop-color="rgb(75,224,186)" stop-opacity="0.41"/><stop offset="0.102" stop-color="rgb(76,228,176)" stop-opacity="0.42"/><stop offset="0.110" stop-color="rgb(75,218,201)" stop-opacity="0.41"/><stop offset="0.118" stop-color="rgb(76,227,177)" stop-opacity="0.41"/><stop offset="0.126" stop-color="rgb(75,217,204)" stop-opacity="0.39"/><stop offset="0.134" stop-color="rgb(75,220,199)" stop-opacity="0.32"/><stop offset="0.142" stop-color="rgb(75,218,203)" stop-opacity="0.46"/><stop offset="0.150" stop-color="rgb(75,217,204)" stop-opacity="0.45"/><stop offset="0.157" stop-color="rgb(75,221,195)" stop-opacity="0.47"/><stop offset="0.165" stop-color="rgb(75,220,197)" stop-opacity="0.48"/><stop offset="0.173" stop-color="rgb(75,226,180)" stop-opacity="0.41"/><stop offset="0.181" stop-color="rgb(75,223,189)" stop-opacity="0.39"/><stop offset="0.189" stop-color="rgb(75,225,183)" stop-opacity="0.43"/><stop offset="0.197" stop-color="rgb(75,226,181)" stop-opacity="0.30"/><stop offset="0.205" stop-color="rgb(78,229,172)" stop-opacity="0.15"/><stop offset="0.213" stop-color="rgb(85,231,157)" stop-opacity="0.17"/><stop offset="0.220" stop-color="rgb(88,233,149)" stop-opacity="0.26"/><stop offset="0.228" stop-color="rgb(85,231,157)" stop-opacity="0.35"/><stop offset="0.236" stop-color="rgb(84,231,159)" stop-opacity="0.42"/><stop offset="0.244" stop-color="rgb(90,234,146)" stop-opacity="0.61"/><stop offset="0.252" stop-color="rgb(121,238,112)" stop-opacity="0.57"/><stop offset="0.260" stop-color="rgb(131,239,103)" stop-opacity="0.73"/><stop offset="0.268" stop-color="rgb(135,239,100)" stop-opacity="0.71"/><stop offset="0.276" stop-color="rgb(160,239,91)" stop-opacity="0.63"/><stop offset="0.283" stop-color="rgb(138,239,98)" stop-opacity="0.66"/><stop offset="0.291" stop-color="rgb(135,239,100)" stop-opacity="0.69"/><stop offset="0.299" stop-color="rgb(129,239,104)" stop-opacity="0.70"/><stop offset="0.307" stop-color="rgb(116,237,117)" stop-opacity="0.55"/><stop offset="0.315" stop-color="rgb(129,239,104)" stop-opacity="0.74"/><stop offset="0.323" stop-color="rgb(133,239,100)" stop-opacity="0.75"/><stop offset="0.331" stop-color="rgb(124,238,109)" stop-opacity="0.76"/><stop offset="0.339" stop-color="rgb(126,238,107)" stop-opacity="0.60"/><stop offset="0.346" stop-color="rgb(170,239,86)" stop-opacity="0.55"/><stop offset="0.354" stop-color="rgb(145,239,95)" stop-opacity="0.62"/><stop offset="0.362" stop-color="rgb(143,239,96)" stop-opacity="0.72"/><stop offset="0.370" stop-color="rgb(123,238,111)" stop-opacity="0.79"/><stop offset="0.378" stop-color="rgb(135,239,100)" stop-opacity="0.72"/><stop offset="0.386" stop-color="rgb(128,238,105)" stop-opacity="0.70"/><stop offset="0.394" stop-color="rgb(134,239,100)" stop-opacity="0.62"/><stop offset="0.402" stop-color="rgb(124,238,109)" stop-opacity="0.67"/><stop offset="0.409" stop-color="rgb(123,238,110)" stop-opacity="0.65"/><stop offset="0.417" stop-color="rgb(161,239,90)" stop-opacity="0.72"/><stop offset="0.425" stop-color="rgb(171,239,86)" stop-opacity="0.74"/><stop offset="0.433" stop-color="rgb(174,239,85)" stop-opacity="0.76"/><stop offset="0.441" stop-color="rgb(153,239,93)" stop-opacity="0.69"/><stop offset="0.449" stop-color="rgb(155,239,91)" stop-opacity="0.66"/><stop offset="0.457" stop-color="rgb(153,239,93)" stop-opacity="0.72"/><stop offset="0.465" stop-color="rgb(119,238,113)" stop-opacity="0.68"/><stop offset="0.472" stop-color="rgb(123,238,110)" stop-opacity="0.78"/><stop offset="0.480" stop-color="rgb(124,238,109)" stop-opacity="0.75"/><stop offset="0.488" stop-color="rgb(125,238,109)" stop-opacity="0.80"/><stop offset="0.496" stop-color="rgb(137,239,99)" stop-opacity="0.82"/><stop offset="0.504" stop-color="rgb(129,239,104)" stop-opacity="0.68"/><stop offset="0.512" stop-color="rgb(142,239,97)" stop-opacity="0.68"/><stop offset="0.520" stop-color="rgb(148,239,95)" stop-opacity="0.63"/><stop offset="0.528" stop-color="rgb(119,238,113)" stop-opacity="0.68"/><stop offset="0.535" stop-color="rgb(124,238,109)" stop-opacity="0.65"/><stop offset="0.543" stop-color="rgb(110,237,123)" stop-opacity="0.59"/><stop offset="0.551" stop-color="rgb(99,236,133)" stop-opacity="0.52"/><stop offset="0.559" stop-color="rgb(75,227,177)" stop-opacity="0.48"/><stop offset="0.567" stop-color="rgb(79,229,169)" stop-opacity="0.47"/><stop offset="0.575" stop-color="rgb(79,229,168)" stop-opacity="0.47"/><stop offset="0.583" stop-color="rgb(82,230,162)" stop-opacity="0.54"/><stop offset="0.591" stop-color="rgb(88,233,150)" stop-opacity="0.50"/><stop offset="0.598" stop-color="rgb(75,227,178)" stop-opacity="0.56"/><stop offset="0.606" stop-color="rgb(75,226,180)" stop-opacity="0.48"/><stop offset="0.614" stop-color="rgb(75,225,182)" stop-opacity="0.48"/><stop offset="0.622" stop-color="rgb(75,222,192)" stop-opacity="0.33"/><stop offset="0.630" stop-color="rgb(75,219,200)" stop-opacity="0.49"/><stop offset="0.638" stop-color="rgb(75,226,181)" stop-opacity="0.44"/><stop offset="0.646" stop-color="rgb(106,236,126)" stop-opacity="0.46"/><stop offset="0.654" stop-color="rgb(82,230,164)" stop-opacity="0.45"/><stop offset="0.661" stop-color="rgb(86,232,154)" stop-opacity="0.42"/><stop offset="0.669" stop-color="rgb(78,229,170)" stop-opacity="0.45"/><stop offset="0.677" stop-color="rgb(82,230,162)" stop-opacity="0.50"/><stop offset="0.685" stop-color="rgb(75,224,186)" stop-opacity="0.45"/><stop offset="0.693" stop-color="rgb(75,224,186)" stop-opacity="0.46"/><stop offset="0.701" stop-color="rgb(82,230,164)" stop-opacity="0.44"/><stop offset="0.709" stop-color="rgb(84,231,159)" stop-opacity="0.49"/><stop offset="0.717" stop-color="rgb(81,230,166)" stop-opacity="0.41"/><stop offset="0.724" stop-color="rgb(103,236,129)" stop-opacity="0.41"/><stop offset="0.732" stop-color="rgb(87,233,152)" stop-opacity="0.40"/><stop offset="0.740" stop-color="rgb(82,230,163)" stop-opacity="0.45"/><stop offset="0.748" stop-color="rgb(75,224,186)" stop-opacity="0.42"/><stop offset="0.756" stop-color="rgb(82,230,164)" stop-opacity="0.42"/><stop offset="0.764" stop-color="rgb(75,226,180)" stop-opacity="0.49"/><stop offset="0.772" stop-color="rgb(75,225,184)" stop-opacity="0.42"/><stop offset="0.780" stop-color="rgb(75,226,181)" stop-opacity="0.44"/><stop offset="0.787" stop-color="rgb(78,229,172)" stop-opacity="0.43"/><stop offset="0.795" stop-color="rgb(94,235,138)" stop-opacity="0.43"/><stop offset="0.803" stop-color="rgb(84,231,159)" stop-opacity="0.41"/><stop offset="0.811" stop-color="rgb(79,229,170)" stop-opacity="0.39"/><stop offset="0.819" stop-color="rgb(86,232,155)" stop-opacity="0.41"/><stop offset="0.827" stop-color="rgb(87,233,151)" stop-opacity="0.40"/><stop offset="0.835" stop-color="rgb(78,228,173)" stop-opacity="0.47"/><stop offset="0.843" stop-color="rgb(81,230,166)" stop-opacity="0.48"/><stop offset="0.850" stop-color="rgb(76,228,176)" stop-opacity="0.44"/><stop offset="0.858" stop-color="rgb(75,219,200)" stop-opacity="0.40"/><stop offset="0.866" stop-color="rgb(75,225,183)" stop-opacity="0.35"/><stop offset="0.874" stop-color="rgb(75,226,182)" stop-opacity="0.43"/><stop offset="0.882" stop-color="rgb(83,230,161)" stop-opacity="0.52"/><stop offset="0.890" stop-color="rgb(84,231,159)" stop-opacity="0.37"/><stop offset="0.898" stop-color="rgb(79,229,170)" stop-opacity="0.40"/><stop offset="0.906" stop-color="rgb(78,228,173)" stop-opacity="0.36"/><stop offset="0.913" stop-color="rgb(84,231,159)" stop-opacity="0.45"/><stop offset="0.921" stop-color="rgb(78,228,173)" stop-opacity="0.44"/><stop offset="0.929" stop-color="rgb(75,222,191)" stop-opacity="0.46"/><stop offset="0.937" stop-color="rgb(75,222,191)" stop-opacity="0.46"/><stop offset="0.945" stop-color="rgb(77,228,175)" stop-opacity="0.47"/><stop offset="0.953" stop-color="rgb(75,221,194)" stop-opacity="0.34"/><stop offset="0.961" stop-color="rgb(75,226,182)" stop-opacity="0.35"/><stop offset="0.969" stop-color="rgb(75,226,181)" stop-opacity="0.42"/><stop offset="0.976" stop-color="rgb(82,230,162)" stop-opacity="0.42"/><stop offset="0.984" stop-color="rgb(78,228,173)" stop-opacity="0.41"/><stop offset="0.992" stop-color="rgb(79,229,170)" stop-opacity="0.44"/><stop offset="1.000" stop-color="rgb(81,230,166)" stop-opacity="0.52"/></linearGradient>
<linearGradient id="g16" gradientUnits="userSpaceOnUse" x1="242.4" x2="305.1" y1="0" y2="0"><stop offset="0.000" stop-color="rgb(153,239,93)" stop-opacity="0.73"/><stop offset="0.023" stop-color="rgb(136,239,99)" stop-opacity="0.65"/><stop offset="0.045" stop-color="rgb(125,238,109)" stop-opacity="0.85"/><stop offset="0.068" stop-color="rgb(166,239,88)" stop-opacity="0.75"/><stop offset="0.091" stop-color="rgb(165,239,88)" stop-opacity="0.75"/><stop offset="0.114" stop-color="rgb(111,237,122)" stop-opacity="0.74"/><stop offset="0.136" stop-color="rgb(123,238,109)" stop-opacity="0.59"/><stop offset="0.159" stop-color="rgb(139,239,98)" stop-opacity="0.84"/><stop offset="0.182" stop-color="rgb(122,238,111)" stop-opacity="0.82"/><stop offset="0.205" stop-color="rgb(153,239,93)" stop-opacity="0.72"/><stop offset="0.227" stop-color="rgb(110,237,122)" stop-opacity="0.64"/><stop offset="0.250" stop-color="rgb(152,239,93)" stop-opacity="0.78"/><stop offset="0.273" stop-color="rgb(144,239,95)" stop-opacity="0.71"/><stop offset="0.295" stop-color="rgb(112,237,121)" stop-opacity="0.76"/><stop offset="0.318" stop-color="rgb(96,235,136)" stop-opacity="0.57"/><stop offset="0.341" stop-color="rgb(113,237,120)" stop-opacity="0.78"/><stop offset="0.364" stop-color="rgb(137,239,99)" stop-opacity="0.70"/><stop offset="0.386" stop-color="rgb(160,239,90)" stop-opacity="0.74"/><stop offset="0.409" stop-color="rgb(121,238,112)" stop-opacity="0.55"/><stop offset="0.432" stop-color="rgb(142,239,96)" stop-opacity="0.67"/><stop offset="0.455" stop-color="rgb(127,238,106)" stop-opacity="0.78"/><stop offset="0.477" stop-color="rgb(157,239,91)" stop-opacity="0.67"/><stop offset="0.500" stop-color="rgb(184,239,82)" stop-opacity="0.77"/><stop offset="0.523" stop-color="rgb(247,202,82)" stop-opacity="0.81"/><stop offset="0.545" stop-color="rgb(242,157,71)" stop-opacity="0.86"/><stop offset="0.568" stop-color="rgb(240,139,65)" stop-opacity="0.83"/><stop offset="0.591" stop-color="rgb(241,213,80)" stop-opacity="0.77"/><stop offset="0.614" stop-color="rgb(180,239,83)" stop-opacity="0.81"/><stop offset="0.636" stop-color="rgb(191,237,81)" stop-opacity="0.87"/><stop offset="0.659" stop-color="rgb(165,239,88)" stop-opacity="0.76"/><stop offset="0.682" stop-color="rgb(150,239,94)" stop-opacity="0.78"/><stop offset="0.705" stop-color="rgb(129,238,104)" stop-opacity="0.71"/><stop offset="0.727" stop-color="rgb(159,239,91)" stop-opacity="0.78"/><stop offset="0.750" stop-color="rgb(143,239,96)" stop-opacity="0.85"/><stop offset="0.773" stop-color="rgb(160,239,90)" stop-opacity="0.71"/><stop offset="0.795" stop-color="rgb(137,239,99)" stop-opacity="0.62"/><stop offset="0.818" stop-color="rgb(114,237,118)" stop-opacity="0.61"/><stop offset="0.841" stop-color="rgb(101,236,132)" stop-opacity="0.68"/><stop offset="0.864" stop-color="rgb(87,233,151)" stop-opacity="0.70"/><stop offset="0.886" stop-color="rgb(94,235,138)" stop-opacity="0.70"/><stop offset="0.909" stop-color="rgb(83,230,161)" stop-opacity="0.54"/><stop offset="0.932" stop-color="rgb(86,232,154)" stop-opacity="0.61"/><stop offset="0.955" stop-color="rgb(88,233,150)" stop-opacity="0.78"/><stop offset="0.977" stop-color="rgb(105,236,127)" stop-opacity="0.70"/><stop offset="1.000" stop-color="rgb(123,238,111)" stop-opacity="0.62"/></linearGradient>
<linearGradient id="g17" gradientUnits="userSpaceOnUse" x1="199.4" x2="271.2" y1="0" y2="0"><stop offset="0.000" stop-color="rgb(75,218,203)" stop-opacity="0.30"/><stop offset="0.018" stop-color="rgb(75,217,204)" stop-opacity="0.32"/><stop offset="0.036" stop-color="rgb(75,219,200)" stop-opacity="0.32"/><stop offset="0.055" stop-color="rgb(75,217,204)" stop-opacity="0.36"/><stop offset="0.073" stop-color="rgb(75,217,204)" stop-opacity="0.40"/><stop offset="0.091" stop-color="rgb(75,217,204)" stop-opacity="0.45"/><stop offset="0.109" stop-color="rgb(75,222,191)" stop-opacity="0.46"/><stop offset="0.127" stop-color="rgb(75,223,189)" stop-opacity="0.32"/><stop offset="0.145" stop-color="rgb(82,230,162)" stop-opacity="0.41"/><stop offset="0.164" stop-color="rgb(75,222,191)" stop-opacity="0.46"/><stop offset="0.182" stop-color="rgb(75,225,182)" stop-opacity="0.47"/><stop offset="0.200" stop-color="rgb(75,222,192)" stop-opacity="0.43"/><stop offset="0.218" stop-color="rgb(75,220,199)" stop-opacity="0.41"/><stop offset="0.236" stop-color="rgb(75,221,196)" stop-opacity="0.51"/><stop offset="0.255" stop-color="rgb(75,219,200)" stop-opacity="0.39"/><stop offset="0.273" stop-color="rgb(75,227,178)" stop-opacity="0.46"/><stop offset="0.291" stop-color="rgb(75,222,192)" stop-opacity="0.48"/><stop offset="0.309" stop-color="rgb(89,234,148)" stop-opacity="0.42"/><stop offset="0.327" stop-color="rgb(76,227,177)" stop-opacity="0.49"/><stop offset="0.345" stop-color="rgb(80,230,168)" stop-opacity="0.54"/><stop offset="0.364" stop-color="rgb(77,228,175)" stop-opacity="0.57"/><stop offset="0.382" stop-color="rgb(81,230,166)" stop-opacity="0.50"/><stop offset="0.400" stop-color="rgb(82,230,164)" stop-opacity="0.52"/><stop offset="0.418" stop-color="rgb(82,230,162)" stop-opacity="0.51"/><stop offset="0.436" stop-color="rgb(75,225,184)" stop-opacity="0.45"/><stop offset="0.455" stop-color="rgb(96,235,136)" stop-opacity="0.52"/><stop offset="0.473" stop-color="rgb(76,228,176)" stop-opacity="0.49"/><stop offset="0.491" stop-color="rgb(82,230,162)" stop-opacity="0.56"/><stop offset="0.509" stop-color="rgb(75,227,178)" stop-opacity="0.47"/><stop offset="0.527" stop-color="rgb(81,230,166)" stop-opacity="0.53"/><stop offset="0.545" stop-color="rgb(89,234,148)" stop-opacity="0.53"/><stop offset="0.564" stop-color="rgb(87,233,152)" stop-opacity="0.57"/><stop offset="0.582" stop-color="rgb(82,230,164)" stop-opacity="0.48"/><stop offset="0.600" stop-color="rgb(84,231,159)" stop-opacity="0.50"/><stop offset="0.618" stop-color="rgb(80,230,168)" stop-opacity="0.49"/><stop offset="0.636" stop-color="rgb(75,224,186)" stop-opacity="0.49"/><stop offset="0.655" stop-color="rgb(75,221,196)" stop-opacity="0.59"/><stop offset="0.673" stop-color="rgb(78,228,173)" stop-opacity="0.53"/><stop offset="0.691" stop-color="rgb(78,228,173)" stop-opacity="0.47"/><stop offset="0.709" stop-color="rgb(80,230,168)" stop-opacity="0.50"/><stop offset="0.727" stop-color="rgb(75,222,191)" stop-opacity="0.41"/><stop offset="0.745" stop-color="rgb(75,224,187)" stop-opacity="0.40"/><stop offset="0.764" stop-color="rgb(75,227,179)" stop-opacity="0.47"/><stop offset="0.782" stop-color="rgb(79,229,170)" stop-opacity="0.45"/><stop offset="0.800" stop-color="rgb(86,232,155)" stop-opacity="0.42"/><stop offset="0.818" stop-color="rgb(75,226,182)" stop-opacity="0.47"/><stop offset="0.836" stop-color="rgb(75,225,183)" stop-opacity="0.47"/><stop offset="0.855" stop-color="rgb(78,228,173)" stop-opacity="0.40"/><stop offset="0.873" stop-color="rgb(75,226,181)" stop-opacity="0.42"/><stop offset="0.891" stop-color="rgb(75,223,189)" stop-opacity="0.45"/><stop offset="0.909" stop-color="rgb(75,223,190)" stop-opacity="0.37"/><stop offset="0.927" stop-color="rgb(75,223,189)" stop-opacity="0.50"/><stop offset="0.945" stop-color="rgb(75,224,187)" stop-opacity="0.35"/><stop offset="0.964" stop-color="rgb(75,225,185)" stop-opacity="0.41"/><stop offset="0.982" stop-color="rgb(77,228,174)" stop-opacity="0.34"/><stop offset="1.000" stop-color="rgb(75,221,195)" stop-opacity="0.34"/></linearGradient>
<linearGradient id="g18" gradientUnits="userSpaceOnUse" x1="253.2" x2="339.2" y1="0" y2="0"><stop offset="0.000" stop-color="rgb(236,222,78)" stop-opacity="0.58"/><stop offset="0.015" stop-color="rgb(237,221,78)" stop-opacity="0.63"/><stop offset="0.030" stop-color="rgb(242,212,80)" stop-opacity="0.90"/><stop offset="0.045" stop-color="rgb(243,208,81)" stop-opacity="0.78"/><stop offset="0.061" stop-color="rgb(243,209,81)" stop-opacity="0.87"/><stop offset="0.076" stop-color="rgb(246,193,80)" stop-opacity="0.73"/><stop offset="0.091" stop-color="rgb(242,149,69)" stop-opacity="0.91"/><stop offset="0.106" stop-color="rgb(226,93,54)" stop-opacity="0.99"/><stop offset="0.121" stop-color="rgb(213,81,51)" stop-opacity="1.00"/><stop offset="0.136" stop-color="rgb(212,80,51)" stop-opacity="0.82"/><stop offset="0.152" stop-color="rgb(220,86,52)" stop-opacity="0.89"/><stop offset="0.167" stop-color="rgb(221,87,52)" stop-opacity="1.00"/><stop offset="0.182" stop-color="rgb(219,86,52)" stop-opacity="1.00"/><stop offset="0.197" stop-color="rgb(242,150,69)" stop-opacity="0.94"/><stop offset="0.212" stop-color="rgb(246,187,78)" stop-opacity="0.91"/><stop offset="0.227" stop-color="rgb(237,123,60)" stop-opacity="0.94"/><stop offset="0.242" stop-color="rgb(237,125,61)" stop-opacity="0.89"/><stop offset="0.258" stop-color="rgb(246,184,77)" stop-opacity="0.86"/><stop offset="0.273" stop-color="rgb(246,181,77)" stop-opacity="0.76"/><stop offset="0.288" stop-color="rgb(246,182,77)" stop-opacity="0.85"/><stop offset="0.303" stop-color="rgb(246,184,77)" stop-opacity="0.84"/><stop offset="0.318" stop-color="rgb(246,186,78)" stop-opacity="0.57"/><stop offset="0.333" stop-color="rgb(247,195,80)" stop-opacity="0.85"/><stop offset="0.348" stop-color="rgb(243,208,81)" stop-opacity="0.45"/><stop offset="0.364" stop-color="rgb(223,230,78)" stop-opacity="0.80"/><stop offset="0.379" stop-color="rgb(237,220,79)" stop-opacity="0.67"/><stop offset="0.394" stop-color="rgb(243,209,81)" stop-opacity="0.66"/><stop offset="0.409" stop-color="rgb(246,189,79)" stop-opacity="0.70"/><stop offset="0.424" stop-color="rgb(245,169,73)" stop-opacity="0.81"/><stop offset="0.439" stop-color="rgb(246,172,74)" stop-opacity="0.79"/><stop offset="0.455" stop-color="rgb(246,177,76)" stop-opacity="0.99"/><stop offset="0.470" stop-color="rgb(246,177,76)" stop-opacity="0.81"/><stop offset="0.485" stop-color="rgb(246,180,77)" stop-opacity="0.91"/><stop offset="0.500" stop-color="rgb(246,175,75)" stop-opacity="0.91"/><stop offset="0.515" stop-color="rgb(244,166,73)" stop-opacity="0.95"/><stop offset="0.530" stop-color="rgb(246,176,75)" stop-opacity="0.65"/><stop offset="0.545" stop-color="rgb(246,175,75)" stop-opacity="0.81"/><stop offset="0.561" stop-color="rgb(245,171,74)" stop-opacity="0.90"/><stop offset="0.576" stop-color="rgb(246,173,74)" stop-opacity="0.89"/><stop offset="0.591" stop-color="rgb(245,171,74)" stop-opacity="0.95"/><stop offset="0.606" stop-color="rgb(245,170,74)" stop-opacity="0.93"/><stop offset="0.621" stop-color="rgb(244,164,72)" stop-opacity="0.95"/><stop offset="0.636" stop-color="rgb(243,161,72)" stop-opacity="0.98"/><stop offset="0.652" stop-color="rgb(245,170,74)" stop-opacity="1.00"/><stop offset="0.667" stop-color="rgb(244,166,72)" stop-opacity="0.90"/><stop offset="0.682" stop-color="rgb(246,172,74)" stop-opacity="0.89"/><stop offset="0.697" stop-color="rgb(245,168,73)" stop-opacity="0.86"/><stop offset="0.712" stop-color="rgb(233,110,58)" stop-opacity="0.93"/><stop offset="0.727" stop-color="rgb(177,61,49)" stop-opacity="0.95"/><stop offset="0.742" stop-color="rgb(181,62,49)" stop-opacity="0.90"/><stop offset="0.758" stop-color="rgb(195,68,49)" stop-opacity="0.84"/><stop offset="0.773" stop-color="rgb(191,66,49)" stop-opacity="0.97"/><stop offset="0.788" stop-color="rgb(192,67,49)" stop-opacity="1.00"/><stop offset="0.803" stop-color="rgb(245,170,74)" stop-opacity="0.87"/><stop offset="0.818" stop-color="rgb(81,230,165)" stop-opacity="0.82"/><stop offset="0.833" stop-color="rgb(77,228,174)" stop-opacity="0.61"/><stop offset="0.848" stop-color="rgb(80,230,167)" stop-opacity="0.75"/><stop offset="0.864" stop-color="rgb(78,229,172)" stop-opacity="0.60"/><stop offset="0.879" stop-color="rgb(77,228,174)" stop-opacity="0.68"/><stop offset="0.894" stop-color="rgb(78,229,172)" stop-opacity="0.68"/><stop offset="0.909" stop-color="rgb(80,230,168)" stop-opacity="0.73"/><stop offset="0.924" stop-color="rgb(78,229,173)" stop-opacity="0.72"/><stop offset="0.939" stop-color="rgb(81,230,167)" stop-opacity="0.63"/><stop offset="0.955" stop-color="rgb(219,231,78)" stop-opacity="0.78"/><stop offset="0.970" stop-color="rgb(247,198,81)" stop-opacity="0.86"/><stop offset="0.985" stop-color="rgb(246,176,76)" stop-opacity="0.78"/><stop offset="1.000" stop-color="rgb(246,189,78)" stop-opacity="0.87"/></linearGradient>
</defs>
<g filter="url(#bl)">
<rect x="30.0" y="7.7" width="215.8" height="175.7" fill="rgb(1,50,190)"/>
<text x="26.40" y="186.30" transform="rotate(0.05 30.0 183.4)" class="tk" text-anchor="end">0</text>
<text x="26.40" y="151.15" transform="rotate(0.05 30.0 148.2)" class="tk" text-anchor="end">100</text>
<text x="26.40" y="116.00" transform="rotate(0.05 30.0 113.1)" class="tk" text-anchor="end">200</text>
<text x="26.40" y="80.85" transform="rotate(0.05 30.0 78.0)" class="tk" text-anchor="end">300</text>
<text x="26.40" y="45.70" transform="rotate(0.05 30.0 42.8)" class="tk" text-anchor="end">400</text>
<text x="26.40" y="10.55" transform="rotate(0.05 30.0 7.7)" class="tk" text-anchor="end">500</text>
<text x="30.00" y="193.60" transform="rotate(0.05 30.0 193.4)" class="tk" text-anchor="middle">0</text>
<text x="73.20" y="193.60" transform="rotate(0.05 73.2 193.4)" class="tk" text-anchor="middle">0.2</text>
<text x="116.40" y="193.60" transform="rotate(0.05 116.4 193.4)" class="tk" text-anchor="middle">0.4</text>
<text x="159.60" y="193.60" transform="rotate(0.05 159.6 193.4)" class="tk" text-anchor="middle">0.6</text>
<text x="202.80" y="193.60" transform="rotate(0.05 202.8 193.4)" class="tk" text-anchor="middle">0.8</text>
<text x="137.90" y="204.60" transform="rotate(0.05 137.9 204.4)" class="tk" text-anchor="middle">Time(s)</text>
<text transform="translate(8.8 95.5) rotate(-89.95)" class="tk" text-anchor="middle">Frequency (Hz)</text>
<rect x="251.3" y="7.7" width="10.3" height="175.7" fill="url(#cbA)" stroke="#55504a" stroke-width="0.5"/>
<line x1="260.0" y1="156.7" x2="261.6" y2="156.7" stroke="#333" stroke-width="0.5"/>
<text x="264.90" y="159.53" transform="rotate(0.05 261.6 156.7)" class="tk">2</text>
<line x1="260.0" y1="129.5" x2="261.6" y2="129.5" stroke="#333" stroke-width="0.5"/>
<text x="264.90" y="132.26" transform="rotate(0.05 261.6 129.5)" class="tk">4</text>
<line x1="260.0" y1="102.2" x2="261.6" y2="102.2" stroke="#333" stroke-width="0.5"/>
<text x="264.90" y="104.99" transform="rotate(0.05 261.6 102.2)" class="tk">6</text>
<line x1="260.0" y1="74.9" x2="261.6" y2="74.9" stroke="#333" stroke-width="0.5"/>
<text x="264.90" y="77.72" transform="rotate(0.05 261.6 74.9)" class="tk">8</text>
<line x1="260.0" y1="47.7" x2="261.6" y2="47.7" stroke="#333" stroke-width="0.5"/>
<text x="264.90" y="50.45" transform="rotate(0.05 261.6 47.7)" class="tk">10</text>
<line x1="260.0" y1="20.4" x2="261.6" y2="20.4" stroke="#333" stroke-width="0.5"/>
<text x="264.90" y="23.18" transform="rotate(0.05 261.6 20.4)" class="tk">12</text>
<text x="138.00" y="227.20" transform="rotate(0.05 138.0 227.2)" class="cap" text-anchor="middle">(a)</text>
<polyline points="30.0,163.8 31.7,164.8 33.4,166.5 35.1,163.8 36.8,168.1 38.5,165.6 40.2,164.5 41.9,165.9 43.6,166.3 45.3,166.2 47.0,163.6 48.7,165.6 50.4,171.1 52.1,164.2 53.8,165.5 55.5,164.2 57.2,168.7 58.9,166.1 60.6,167.5 62.3,167.0 64.0,167.2 65.7,165.4 67.4,166.2 69.1,164.9 70.8,166.7 72.5,167.6 74.2,166.3 75.9,165.4 77.6,166.1 79.3,164.3 81.0,165.9 82.7,164.6 84.4,167.2 86.1,167.8 87.8,167.5 89.5,164.8 91.2,167.8 92.9,166.9 94.6,167.0 96.3,164.7 98.0,169.1 99.7,168.3 101.4,165.1 103.1,167.7 104.8,163.6 106.5,164.9 108.2,166.8 109.9,166.1 111.6,165.2 113.3,167.9 115.0,165.4 116.7,166.1 118.4,164.8 120.1,166.0 121.8,163.7 123.5,166.4 125.2,165.7 126.9,162.9 128.6,167.8 130.3,167.2 132.0,165.0 133.7,164.8 135.4,168.5 137.1,164.8 138.9,163.3 140.6,166.7 142.3,164.9 144.0,164.2 145.7,165.7 147.4,167.7 149.1,167.7 150.8,167.0 152.5,166.4 154.2,163.1 155.9,164.5 157.6,166.9 159.3,165.1 161.0,166.6 162.7,166.2 164.4,164.7 166.1,167.2 167.8,166.1 169.5,165.4 171.2,168.0 172.9,165.8 174.6,164.9 176.3,164.7 178.0,164.3 179.7,165.3 181.4,165.9 183.1,165.6 184.8,167.0 186.5,164.2 188.2,167.2 189.9,167.9 191.6,167.1 193.3,164.7 195.0,164.1 196.7,165.1 198.4,163.3 200.1,166.2 201.8,165.4 203.5,164.5 205.2,164.7 206.9,163.5 208.6,165.6 210.3,166.1 212.0,167.9 213.7,162.6 215.4,162.7 217.1,166.4 218.8,168.5 220.5,164.4 222.2,163.4 223.9,168.2 225.6,170.1 227.3,165.0 229.0,165.2 230.7,168.3 232.4,168.3 234.1,165.8 235.8,165.3 237.5,165.5 239.2,167.4 240.9,164.1 242.6,168.5 244.3,166.2 246.0,167.3" fill="none" stroke="url(#g0)" stroke-width="1.00" stroke-linejoin="round"/>
<polyline points="106.0,129.5 107.2,131.9 108.4,130.8 109.6,130.4 110.9,129.8 112.1,132.5 113.3,132.0 114.5,130.0 115.7,131.6 116.9,133.7 118.1,131.5 119.3,133.0 120.5,131.6 121.7,130.1 122.9,131.5 124.1,128.0 125.3,128.0 126.5,130.4 127.7,130.9 128.9,130.2 130.1,131.0 131.3,127.1 132.5,133.5 133.7,131.5 134.9,129.3 136.1,130.4 137.4,131.3 138.6,129.9 139.8,130.5 141.0,129.8 142.2,130.0 143.4,130.1 144.6,130.5 145.8,129.3 147.0,131.8 148.2,129.5 149.4,130.5 150.6,131.4 151.8,130.0 153.0,132.5 154.2,130.3 155.4,130.5 156.6,130.2 157.8,130.6 159.0,130.6 160.2,130.8 161.4,130.7 162.6,130.4 163.9,131.8 165.1,130.5 166.3,131.7 167.5,130.3 168.7,128.6" fill="none" stroke="url(#g1)" stroke-width="1.05" stroke-linejoin="round"/>
<line x1="143.8" y1="57.1" x2="144.0" y2="60.1" stroke="rgb(40,214,200)" stroke-opacity="0.03" stroke-width="1"/>
<line x1="151.1" y1="55.2" x2="150.6" y2="62.2" stroke="rgb(40,214,200)" stroke-opacity="0.03" stroke-width="1"/>
<line x1="63.8" y1="59.0" x2="64.1" y2="63.4" stroke="rgb(40,214,200)" stroke-opacity="0.06" stroke-width="1"/>
<line x1="40.8" y1="70.4" x2="40.8" y2="74.4" stroke="rgb(45,228,157)" stroke-opacity="0.04" stroke-width="1"/>
<line x1="240.2" y1="63.0" x2="240.5" y2="67.4" stroke="rgb(40,223,176)" stroke-opacity="0.06" stroke-width="1"/>
<line x1="131.2" y1="67.6" x2="131.1" y2="71.4" stroke="rgb(40,214,200)" stroke-opacity="0.05" stroke-width="1"/>
<line x1="74.0" y1="55.7" x2="73.9" y2="62.0" stroke="rgb(40,217,192)" stroke-opacity="0.03" stroke-width="1"/>
<line x1="174.3" y1="54.3" x2="174.3" y2="59.0" stroke="rgb(40,214,200)" stroke-opacity="0.05" stroke-width="1"/>
<line x1="245.5" y1="54.3" x2="245.0" y2="61.3" stroke="rgb(40,214,200)" stroke-opacity="0.03" stroke-width="1"/>
<line x1="222.8" y1="60.9" x2="222.9" y2="62.8" stroke="rgb(40,214,200)" stroke-opacity="0.05" stroke-width="1"/>
<line x1="157.8" y1="62.3" x2="157.5" y2="64.6" stroke="rgb(40,214,200)" stroke-opacity="0.03" stroke-width="1"/>
<line x1="241.6" y1="68.0" x2="241.5" y2="70.5" stroke="rgb(40,217,193)" stroke-opacity="0.03" stroke-width="1"/>
<line x1="164.6" y1="57.8" x2="164.1" y2="63.8" stroke="rgb(40,220,185)" stroke-opacity="0.03" stroke-width="1"/>
<line x1="176.1" y1="51.9" x2="175.9" y2="55.4" stroke="rgb(40,214,200)" stroke-opacity="0.03" stroke-width="1"/>
<line x1="190.9" y1="62.1" x2="191.3" y2="66.8" stroke="rgb(40,214,200)" stroke-opacity="0.03" stroke-width="1"/>
<line x1="164.7" y1="59.2" x2="164.6" y2="62.3" stroke="rgb(40,214,200)" stroke-opacity="0.05" stroke-width="1"/>
<line x1="171.2" y1="59.2" x2="171.5" y2="65.1" stroke="rgb(40,214,200)" stroke-opacity="0.04" stroke-width="1"/>
<line x1="228.9" y1="53.5" x2="228.4" y2="58.6" stroke="rgb(41,226,166)" stroke-opacity="0.03" stroke-width="1"/>
<line x1="151.9" y1="65.4" x2="152.2" y2="67.0" stroke="rgb(40,215,197)" stroke-opacity="0.03" stroke-width="1"/>
<line x1="46.4" y1="58.7" x2="46.7" y2="65.5" stroke="rgb(40,220,185)" stroke-opacity="0.05" stroke-width="1"/>
<line x1="91.1" y1="59.8" x2="90.9" y2="65.1" stroke="rgb(40,220,185)" stroke-opacity="0.05" stroke-width="1"/>
<line x1="55.4" y1="57.7" x2="55.3" y2="59.8" stroke="rgb(47,229,153)" stroke-opacity="0.06" stroke-width="1"/>
<line x1="203.5" y1="52.7" x2="204.0" y2="56.5" stroke="rgb(40,220,184)" stroke-opacity="0.04" stroke-width="1"/>
<line x1="223.3" y1="57.4" x2="223.1" y2="63.4" stroke="rgb(40,214,200)" stroke-opacity="0.04" stroke-width="1"/>
<line x1="72.1" y1="63.2" x2="72.5" y2="64.6" stroke="rgb(40,214,200)" stroke-opacity="0.04" stroke-width="1"/>
<line x1="151.6" y1="60.7" x2="151.6" y2="67.6" stroke="rgb(40,218,188)" stroke-opacity="0.03" stroke-width="1"/>
<line x1="147.5" y1="56.9" x2="147.9" y2="58.3" stroke="rgb(40,214,200)" stroke-opacity="0.05" stroke-width="1"/>
<line x1="43.8" y1="50.2" x2="44.3" y2="53.6" stroke="rgb(40,217,193)" stroke-opacity="0.05" stroke-width="1"/>
<line x1="48.3" y1="59.6" x2="48.5" y2="63.2" stroke="rgb(40,214,200)" stroke-opacity="0.05" stroke-width="1"/>
<line x1="83.0" y1="58.3" x2="82.8" y2="65.6" stroke="rgb(40,214,200)" stroke-opacity="0.04" stroke-width="1"/>
<line x1="239.1" y1="57.6" x2="239.4" y2="60.9" stroke="rgb(40,214,200)" stroke-opacity="0.04" stroke-width="1"/>
<line x1="183.0" y1="63.1" x2="183.3" y2="66.5" stroke="rgb(40,219,186)" stroke-opacity="0.06" stroke-width="1"/>
<line x1="210.1" y1="50.0" x2="210.1" y2="57.6" stroke="rgb(40,214,200)" stroke-opacity="0.05" stroke-width="1"/>
<line x1="183.4" y1="60.8" x2="184.0" y2="63.3" stroke="rgb(40,214,200)" stroke-opacity="0.05" stroke-width="1"/>
<line x1="111.1" y1="59.3" x2="110.9" y2="64.2" stroke="rgb(40,218,188)" stroke-opacity="0.04" stroke-width="1"/>
<line x1="239.5" y1="62.0" x2="239.1" y2="66.8" stroke="rgb(40,222,178)" stroke-opacity="0.05" stroke-width="1"/>
<line x1="43.5" y1="64.1" x2="42.9" y2="66.2" stroke="rgb(40,217,193)" stroke-opacity="0.06" stroke-width="1"/>
<line x1="53.5" y1="59.1" x2="53.1" y2="64.5" stroke="rgb(40,215,197)" stroke-opacity="0.04" stroke-width="1"/>
<line x1="70.0" y1="66.2" x2="69.7" y2="70.3" stroke="rgb(40,219,188)" stroke-opacity="0.05" stroke-width="1"/>
<line x1="148.4" y1="61.5" x2="148.2" y2="64.0" stroke="rgb(40,214,200)" stroke-opacity="0.06" stroke-width="1"/>
<line x1="148.2" y1="138.0" x2="147.7" y2="144.2" stroke="rgb(40,214,200)" stroke-opacity="0.03" stroke-width="1"/>
<line x1="234.7" y1="130.9" x2="235.3" y2="133.6" stroke="rgb(40,214,200)" stroke-opacity="0.03" stroke-width="1"/>
<line x1="172.0" y1="127.5" x2="171.9" y2="131.8" stroke="rgb(40,215,197)" stroke-opacity="0.04" stroke-width="1"/>
<line x1="202.1" y1="128.1" x2="201.8" y2="130.1" stroke="rgb(40,216,194)" stroke-opacity="0.03" stroke-width="1"/>
<line x1="217.8" y1="132.2" x2="217.5" y2="134.0" stroke="rgb(40,214,200)" stroke-opacity="0.06" stroke-width="1"/>
<line x1="145.5" y1="132.3" x2="145.9" y2="139.1" stroke="rgb(44,228,160)" stroke-opacity="0.06" stroke-width="1"/>
<line x1="47.8" y1="128.8" x2="47.8" y2="132.7" stroke="rgb(40,226,168)" stroke-opacity="0.03" stroke-width="1"/>
<line x1="131.2" y1="135.2" x2="131.1" y2="138.9" stroke="rgb(40,218,189)" stroke-opacity="0.05" stroke-width="1"/>
<line x1="228.0" y1="123.8" x2="228.1" y2="130.9" stroke="rgb(40,222,180)" stroke-opacity="0.03" stroke-width="1"/>
<line x1="143.5" y1="132.3" x2="143.3" y2="139.4" stroke="rgb(40,214,200)" stroke-opacity="0.03" stroke-width="1"/>
<line x1="130.9" y1="132.7" x2="130.4" y2="136.6" stroke="rgb(40,214,200)" stroke-opacity="0.05" stroke-width="1"/>
<line x1="115.2" y1="115.3" x2="115.0" y2="120.7" stroke="rgb(40,219,186)" stroke-opacity="0.03" stroke-width="1"/>
<line x1="183.4" y1="122.0" x2="182.8" y2="126.5" stroke="rgb(40,224,174)" stroke-opacity="0.04" stroke-width="1"/>
<line x1="244.2" y1="130.1" x2="244.2" y2="133.3" stroke="rgb(40,214,200)" stroke-opacity="0.03" stroke-width="1"/>
<line x1="94.4" y1="126.2" x2="94.1" y2="129.6" stroke="rgb(40,220,183)" stroke-opacity="0.05" stroke-width="1"/>
<line x1="73.2" y1="128.8" x2="73.0" y2="131.5" stroke="rgb(40,223,176)" stroke-opacity="0.05" stroke-width="1"/>
<line x1="208.6" y1="125.9" x2="208.8" y2="131.1" stroke="rgb(40,216,194)" stroke-opacity="0.03" stroke-width="1"/>
<line x1="183.0" y1="129.9" x2="182.7" y2="135.8" stroke="rgb(40,219,186)" stroke-opacity="0.03" stroke-width="1"/>
<line x1="63.9" y1="122.2" x2="64.4" y2="127.7" stroke="rgb(40,219,186)" stroke-opacity="0.03" stroke-width="1"/>
<line x1="122.2" y1="121.4" x2="122.0" y2="125.5" stroke="rgb(40,215,196)" stroke-opacity="0.04" stroke-width="1"/>
<line x1="119.0" y1="118.4" x2="119.6" y2="124.5" stroke="rgb(40,215,198)" stroke-opacity="0.05" stroke-width="1"/>
<line x1="200.6" y1="125.9" x2="200.7" y2="128.2" stroke="rgb(40,221,182)" stroke-opacity="0.03" stroke-width="1"/>
<line x1="53.0" y1="129.8" x2="53.3" y2="132.6" stroke="rgb(40,220,183)" stroke-opacity="0.05" stroke-width="1"/>
<line x1="162.1" y1="131.9" x2="162.1" y2="138.7" stroke="rgb(40,222,179)" stroke-opacity="0.03" stroke-width="1"/>
<line x1="60.6" y1="125.5" x2="60.9" y2="128.6" stroke="rgb(40,214,200)" stroke-opacity="0.04" stroke-width="1"/>
<line x1="210.5" y1="130.5" x2="210.2" y2="138.7" stroke="rgb(40,214,200)" stroke-opacity="0.03" stroke-width="1"/>
<line x1="154.5" y1="126.4" x2="154.4" y2="130.2" stroke="rgb(40,214,200)" stroke-opacity="0.06" stroke-width="1"/>
<line x1="130.0" y1="136.5" x2="130.1" y2="144.1" stroke="rgb(40,225,171)" stroke-opacity="0.04" stroke-width="1"/>
<line x1="151.0" y1="136.8" x2="151.4" y2="140.8" stroke="rgb(49,230,149)" stroke-opacity="0.06" stroke-width="1"/>
<line x1="159.9" y1="134.1" x2="160.0" y2="140.7" stroke="rgb(40,214,200)" stroke-opacity="0.03" stroke-width="1"/>
<line x1="209.4" y1="138.4" x2="208.9" y2="143.6" stroke="rgb(40,223,177)" stroke-opacity="0.03" stroke-width="1"/>
<line x1="68.9" y1="140.5" x2="69.2" y2="144.5" stroke="rgb(40,214,200)" stroke-opacity="0.05" stroke-width="1"/>
<line x1="112.4" y1="126.3" x2="112.1" y2="127.9" stroke="rgb(40,214,200)" stroke-opacity="0.03" stroke-width="1"/>
<line x1="131.1" y1="130.9" x2="130.8" y2="136.6" stroke="rgb(40,214,200)" stroke-opacity="0.04" stroke-width="1"/>
<line x1="152.7" y1="127.8" x2="152.9" y2="130.9" stroke="rgb(40,223,175)" stroke-opacity="0.03" stroke-width="1"/>
<line x1="61.3" y1="135.4" x2="61.5" y2="139.1" stroke="rgb(40,214,200)" stroke-opacity="0.05" stroke-width="1"/>
<line x1="193.7" y1="129.5" x2="194.1" y2="133.8" stroke="rgb(40,214,200)" stroke-opacity="0.06" stroke-width="1"/>
<line x1="214.7" y1="123.5" x2="214.7" y2="128.8" stroke="rgb(40,214,200)" stroke-opacity="0.04" stroke-width="1"/>
<line x1="123.4" y1="123.5" x2="123.6" y2="129.1" stroke="rgb(40,214,200)" stroke-opacity="0.03" stroke-width="1"/>
<line x1="224.4" y1="128.9" x2="223.9" y2="130.9" stroke="rgb(40,214,200)" stroke-opacity="0.04" stroke-width="1"/>
<polyline points="116.8,59.2 118.0,58.9 119.2,61.0 120.3,59.9 121.5,60.9 122.6,59.0 123.8,61.5 125.0,57.7 126.1,61.7 127.3,60.5 128.4,61.6 129.6,61.9 130.8,61.0 131.9,62.5 133.1,61.6 134.3,59.8 135.4,62.5 136.6,61.0 137.7,60.5 138.9,60.8 140.1,62.3 141.2,60.3 142.4,59.2 143.6,59.5 144.7,60.5 145.9,60.2 147.0,61.0 148.2,59.4 149.4,59.4 150.5,61.7 151.7,61.8 152.8,59.3 154.0,60.3 155.2,60.4 156.3,60.8 157.5,60.2 158.7,62.3 159.8,58.9 161.0,61.8 162.1,59.1 163.3,61.4 164.5,58.5 165.6,59.2 166.8,60.4 167.9,59.9 169.1,60.8 170.3,61.5 171.4,60.2 172.6,59.5 173.8,60.6 174.9,60.5 176.1,60.2 177.2,61.3 178.4,60.6 179.6,61.1 180.7,59.5 181.9,61.7 183.1,60.8 184.2,61.7 185.4,61.4 186.5,61.0 187.7,58.7 188.9,60.2 190.0,61.1 191.2,60.1 192.3,60.0 193.5,61.1 194.7,60.5 195.8,60.1 197.0,59.8 198.2,60.2 199.3,59.7 200.5,60.4 201.6,59.4 202.8,59.0" fill="none" stroke="url(#g2)" stroke-width="1.05" stroke-linejoin="round"/>
<line x1="34.0" y1="156.3" x2="241.0" y2="156.3" stroke="#e01a2a" stroke-width="0.7" stroke-opacity="0.62"/>
<path d="M31.0 156.3 l5.7 -2.45 v4.9z M244.0 156.3 l-5.7 -2.45 v4.9z" fill="#e01a2a"/>
<text x="134.00" y="149.40" transform="rotate(0.05 135.5 150.3)" class="sl">s<tspan dx="0.7" dy="3.4" class="sb">1</tspan></text>
<line x1="107.0" y1="122.5" x2="166.5" y2="122.5" stroke="#e01a2a" stroke-width="0.7" stroke-opacity="0.62"/>
<path d="M104.0 122.5 l5.7 -2.45 v4.9z M169.5 122.5 l-5.7 -2.45 v4.9z" fill="#e01a2a"/>
<text x="130.50" y="115.10" transform="rotate(0.05 132.0 116.0)" class="sl">s<tspan dx="0.7" dy="3.4" class="sb">2</tspan></text>
<line x1="119.4" y1="51.1" x2="199.7" y2="51.1" stroke="#e01a2a" stroke-width="0.7" stroke-opacity="0.62"/>
<path d="M116.4 51.1 l5.7 -2.45 v4.9z M202.7 51.1 l-5.7 -2.45 v4.9z" fill="#e01a2a"/>
<text x="152.00" y="44.70" transform="rotate(0.05 153.5 45.6)" class="sl">s<tspan dx="0.7" dy="3.4" class="sb">4</tspan></text>
<rect x="303.0" y="7.7" width="216.2" height="175.7" fill="rgb(1,50,190)"/>
<text x="299.40" y="186.30" transform="rotate(0.05 303.0 183.4)" class="tk" text-anchor="end">0</text>
<text x="299.40" y="151.15" transform="rotate(0.05 303.0 148.2)" class="tk" text-anchor="end">100</text>
<text x="299.40" y="116.00" transform="rotate(0.05 303.0 113.1)" class="tk" text-anchor="end">200</text>
<text x="299.40" y="80.85" transform="rotate(0.05 303.0 78.0)" class="tk" text-anchor="end">300</text>
<text x="299.40" y="45.70" transform="rotate(0.05 303.0 42.8)" class="tk" text-anchor="end">400</text>
<text x="299.40" y="10.55" transform="rotate(0.05 303.0 7.7)" class="tk" text-anchor="end">500</text>
<text x="303.00" y="193.60" transform="rotate(0.05 303.0 193.4)" class="tk" text-anchor="middle">0</text>
<text x="346.20" y="193.60" transform="rotate(0.05 346.2 193.4)" class="tk" text-anchor="middle">0.2</text>
<text x="389.40" y="193.60" transform="rotate(0.05 389.4 193.4)" class="tk" text-anchor="middle">0.4</text>
<text x="432.60" y="193.60" transform="rotate(0.05 432.6 193.4)" class="tk" text-anchor="middle">0.6</text>
<text x="475.80" y="193.60" transform="rotate(0.05 475.8 193.4)" class="tk" text-anchor="middle">0.8</text>
<text x="411.10" y="204.60" transform="rotate(0.05 411.1 204.4)" class="tk" text-anchor="middle">Time(s)</text>
<text transform="translate(281.8 95.5) rotate(-89.95)" class="tk" text-anchor="middle">Frequency (Hz)</text>
<rect x="524.3" y="7.7" width="10.6" height="175.7" fill="url(#cbB)" stroke="#55504a" stroke-width="0.5"/>
<line x1="533.3" y1="161.1" x2="534.9" y2="161.1" stroke="#333" stroke-width="0.5"/>
<text x="538.20" y="163.94" transform="rotate(0.05 534.9 161.1)" class="tk">2</text>
<line x1="533.3" y1="137.9" x2="534.9" y2="137.9" stroke="#333" stroke-width="0.5"/>
<text x="538.20" y="140.67" transform="rotate(0.05 534.9 137.9)" class="tk">4</text>
<line x1="533.3" y1="114.6" x2="534.9" y2="114.6" stroke="#333" stroke-width="0.5"/>
<text x="538.20" y="117.40" transform="rotate(0.05 534.9 114.6)" class="tk">6</text>
<line x1="533.3" y1="91.3" x2="534.9" y2="91.3" stroke="#333" stroke-width="0.5"/>
<text x="538.20" y="94.14" transform="rotate(0.05 534.9 91.3)" class="tk">8</text>
<line x1="533.3" y1="68.1" x2="534.9" y2="68.1" stroke="#333" stroke-width="0.5"/>
<text x="538.20" y="70.87" transform="rotate(0.05 534.9 68.1)" class="tk">10</text>
<line x1="533.3" y1="44.8" x2="534.9" y2="44.8" stroke="#333" stroke-width="0.5"/>
<text x="538.20" y="47.61" transform="rotate(0.05 534.9 44.8)" class="tk">12</text>
<line x1="533.3" y1="21.5" x2="534.9" y2="21.5" stroke="#333" stroke-width="0.5"/>
<text x="538.20" y="24.34" transform="rotate(0.05 534.9 21.5)" class="tk">14</text>
<text x="410.50" y="227.20" transform="rotate(0.05 410.5 227.2)" class="cap" text-anchor="middle">(b)</text>
<line x1="349.5" y1="160.7" x2="349.2" y2="166.6" stroke="rgb(40,214,200)" stroke-opacity="0.06" stroke-width="1"/>
<line x1="404.0" y1="162.7" x2="404.2" y2="166.7" stroke="rgb(40,222,180)" stroke-opacity="0.14" stroke-width="1"/>
<line x1="489.3" y1="164.1" x2="489.1" y2="170.8" stroke="rgb(40,224,172)" stroke-opacity="0.08" stroke-width="1"/>
<line x1="307.0" y1="167.2" x2="307.5" y2="172.6" stroke="rgb(40,219,186)" stroke-opacity="0.08" stroke-width="1"/>
<line x1="457.5" y1="161.8" x2="457.8" y2="168.5" stroke="rgb(40,224,173)" stroke-opacity="0.08" stroke-width="1"/>
<line x1="459.3" y1="174.8" x2="459.1" y2="180.0" stroke="rgb(40,214,200)" stroke-opacity="0.07" stroke-width="1"/>
<line x1="321.0" y1="168.0" x2="320.8" y2="171.6" stroke="rgb(40,215,197)" stroke-opacity="0.05" stroke-width="1"/>
<line x1="354.5" y1="155.7" x2="353.9" y2="161.6" stroke="rgb(40,215,197)" stroke-opacity="0.10" stroke-width="1"/>
<line x1="370.5" y1="156.2" x2="370.7" y2="162.1" stroke="rgb(40,222,179)" stroke-opacity="0.07" stroke-width="1"/>
<line x1="446.9" y1="170.1" x2="447.1" y2="175.7" stroke="rgb(40,218,189)" stroke-opacity="0.07" stroke-width="1"/>
<line x1="390.5" y1="153.0" x2="390.2" y2="160.4" stroke="rgb(40,215,198)" stroke-opacity="0.07" stroke-width="1"/>
<line x1="311.8" y1="167.0" x2="312.2" y2="174.5" stroke="rgb(40,216,196)" stroke-opacity="0.10" stroke-width="1"/>
<line x1="513.7" y1="159.3" x2="513.9" y2="167.0" stroke="rgb(40,219,188)" stroke-opacity="0.11" stroke-width="1"/>
<line x1="509.3" y1="160.9" x2="508.8" y2="166.7" stroke="rgb(40,214,200)" stroke-opacity="0.10" stroke-width="1"/>
<line x1="395.4" y1="161.6" x2="395.1" y2="166.8" stroke="rgb(40,214,200)" stroke-opacity="0.09" stroke-width="1"/>
<line x1="337.3" y1="167.9" x2="337.5" y2="170.9" stroke="rgb(40,219,187)" stroke-opacity="0.06" stroke-width="1"/>
<line x1="354.8" y1="167.5" x2="355.0" y2="173.3" stroke="rgb(40,214,200)" stroke-opacity="0.10" stroke-width="1"/>
<line x1="422.5" y1="165.1" x2="422.3" y2="169.8" stroke="rgb(40,214,200)" stroke-opacity="0.08" stroke-width="1"/>
<line x1="316.6" y1="161.6" x2="316.4" y2="166.8" stroke="rgb(40,214,200)" stroke-opacity="0.09" stroke-width="1"/>
<line x1="357.7" y1="162.7" x2="357.8" y2="169.4" stroke="rgb(40,215,197)" stroke-opacity="0.13" stroke-width="1"/>
<line x1="359.6" y1="162.1" x2="359.4" y2="165.8" stroke="rgb(40,214,200)" stroke-opacity="0.14" stroke-width="1"/>
<line x1="427.5" y1="163.4" x2="427.6" y2="171.4" stroke="rgb(40,214,200)" stroke-opacity="0.10" stroke-width="1"/>
<line x1="391.8" y1="158.9" x2="392.3" y2="164.5" stroke="rgb(40,221,180)" stroke-opacity="0.08" stroke-width="1"/>
<line x1="311.2" y1="151.8" x2="311.1" y2="158.2" stroke="rgb(40,221,182)" stroke-opacity="0.07" stroke-width="1"/>
<line x1="514.0" y1="165.2" x2="513.4" y2="171.1" stroke="rgb(40,216,196)" stroke-opacity="0.06" stroke-width="1"/>
<line x1="420.5" y1="173.0" x2="420.6" y2="176.6" stroke="rgb(40,217,191)" stroke-opacity="0.09" stroke-width="1"/>
<line x1="421.4" y1="158.9" x2="421.2" y2="161.9" stroke="rgb(40,224,174)" stroke-opacity="0.07" stroke-width="1"/>
<line x1="494.4" y1="150.2" x2="494.7" y2="153.8" stroke="rgb(40,225,171)" stroke-opacity="0.11" stroke-width="1"/>
<line x1="511.2" y1="165.5" x2="511.0" y2="169.3" stroke="rgb(40,214,200)" stroke-opacity="0.10" stroke-width="1"/>
<line x1="364.7" y1="158.6" x2="364.4" y2="163.4" stroke="rgb(40,214,200)" stroke-opacity="0.06" stroke-width="1"/>
<line x1="373.2" y1="165.5" x2="372.7" y2="172.5" stroke="rgb(40,216,195)" stroke-opacity="0.05" stroke-width="1"/>
<line x1="455.2" y1="164.1" x2="455.2" y2="170.6" stroke="rgb(40,219,186)" stroke-opacity="0.12" stroke-width="1"/>
<line x1="338.1" y1="173.0" x2="338.5" y2="174.8" stroke="rgb(40,219,186)" stroke-opacity="0.09" stroke-width="1"/>
<line x1="387.7" y1="165.1" x2="387.5" y2="169.6" stroke="rgb(40,214,200)" stroke-opacity="0.11" stroke-width="1"/>
<line x1="375.1" y1="166.0" x2="375.4" y2="167.0" stroke="rgb(40,219,188)" stroke-opacity="0.08" stroke-width="1"/>
<line x1="437.6" y1="155.7" x2="437.4" y2="162.3" stroke="rgb(40,214,200)" stroke-opacity="0.05" stroke-width="1"/>
<line x1="447.6" y1="163.2" x2="448.1" y2="169.3" stroke="rgb(40,224,174)" stroke-opacity="0.13" stroke-width="1"/>
<line x1="331.9" y1="164.5" x2="331.8" y2="168.5" stroke="rgb(40,214,200)" stroke-opacity="0.10" stroke-width="1"/>
<line x1="504.6" y1="165.3" x2="504.4" y2="170.1" stroke="rgb(40,214,200)" stroke-opacity="0.04" stroke-width="1"/>
<line x1="460.9" y1="160.0" x2="460.4" y2="165.8" stroke="rgb(40,214,200)" stroke-opacity="0.07" stroke-width="1"/>
<line x1="420.2" y1="157.6" x2="419.9" y2="162.6" stroke="rgb(40,214,200)" stroke-opacity="0.12" stroke-width="1"/>
<line x1="387.6" y1="174.7" x2="387.5" y2="177.0" stroke="rgb(40,214,200)" stroke-opacity="0.14" stroke-width="1"/>
<line x1="452.9" y1="153.6" x2="453.4" y2="157.4" stroke="rgb(40,217,193)" stroke-opacity="0.05" stroke-width="1"/>
<line x1="357.3" y1="166.9" x2="356.7" y2="170.7" stroke="rgb(40,214,199)" stroke-opacity="0.07" stroke-width="1"/>
<line x1="425.2" y1="167.5" x2="425.1" y2="174.5" stroke="rgb(40,214,200)" stroke-opacity="0.09" stroke-width="1"/>
<line x1="359.1" y1="167.3" x2="358.8" y2="172.8" stroke="rgb(40,215,198)" stroke-opacity="0.13" stroke-width="1"/>
<line x1="319.9" y1="165.2" x2="319.9" y2="172.1" stroke="rgb(40,219,187)" stroke-opacity="0.13" stroke-width="1"/>
<line x1="392.5" y1="163.0" x2="392.6" y2="168.5" stroke="rgb(40,214,200)" stroke-opacity="0.05" stroke-width="1"/>
<line x1="444.9" y1="160.5" x2="444.8" y2="164.2" stroke="rgb(44,228,160)" stroke-opacity="0.14" stroke-width="1"/>
<line x1="483.1" y1="159.0" x2="482.7" y2="163.6" stroke="rgb(40,214,200)" stroke-opacity="0.04" stroke-width="1"/>
<line x1="328.7" y1="168.0" x2="328.1" y2="173.7" stroke="rgb(40,214,200)" stroke-opacity="0.09" stroke-width="1"/>
<line x1="348.4" y1="158.1" x2="348.8" y2="163.2" stroke="rgb(40,214,200)" stroke-opacity="0.09" stroke-width="1"/>
<line x1="474.1" y1="163.9" x2="474.7" y2="166.7" stroke="rgb(40,219,188)" stroke-opacity="0.12" stroke-width="1"/>
<line x1="324.8" y1="151.8" x2="324.5" y2="158.6" stroke="rgb(40,214,200)" stroke-opacity="0.11" stroke-width="1"/>
<line x1="499.5" y1="171.0" x2="499.7" y2="176.2" stroke="rgb(40,215,197)" stroke-opacity="0.08" stroke-width="1"/>
<line x1="478.1" y1="170.3" x2="477.9" y2="173.2" stroke="rgb(40,222,179)" stroke-opacity="0.08" stroke-width="1"/>
<line x1="498.5" y1="161.9" x2="498.8" y2="167.5" stroke="rgb(40,214,200)" stroke-opacity="0.06" stroke-width="1"/>
<line x1="421.0" y1="172.2" x2="420.6" y2="176.5" stroke="rgb(40,214,200)" stroke-opacity="0.05" stroke-width="1"/>
<line x1="378.7" y1="162.6" x2="378.7" y2="167.5" stroke="rgb(40,214,200)" stroke-opacity="0.07" stroke-width="1"/>
<line x1="508.7" y1="162.7" x2="509.0" y2="168.7" stroke="rgb(46,229,156)" stroke-opacity="0.07" stroke-width="1"/>
<line x1="326.4" y1="169.9" x2="326.7" y2="174.5" stroke="rgb(40,219,186)" stroke-opacity="0.08" stroke-width="1"/>
<line x1="341.4" y1="162.7" x2="341.2" y2="167.0" stroke="rgb(40,225,170)" stroke-opacity="0.13" stroke-width="1"/>
<line x1="342.6" y1="149.8" x2="342.8" y2="159.3" stroke="rgb(40,220,183)" stroke-opacity="0.08" stroke-width="1"/>
<line x1="348.9" y1="171.8" x2="349.0" y2="173.5" stroke="rgb(40,214,200)" stroke-opacity="0.13" stroke-width="1"/>
<line x1="412.0" y1="160.9" x2="412.2" y2="165.3" stroke="rgb(40,220,184)" stroke-opacity="0.09" stroke-width="1"/>
<line x1="393.6" y1="156.1" x2="393.7" y2="159.9" stroke="rgb(40,218,190)" stroke-opacity="0.10" stroke-width="1"/>
<line x1="414.3" y1="171.4" x2="414.8" y2="176.8" stroke="rgb(40,214,200)" stroke-opacity="0.10" stroke-width="1"/>
<line x1="335.8" y1="167.0" x2="335.6" y2="169.9" stroke="rgb(40,219,188)" stroke-opacity="0.11" stroke-width="1"/>
<line x1="462.1" y1="169.6" x2="462.1" y2="174.2" stroke="rgb(40,217,193)" stroke-opacity="0.14" stroke-width="1"/>
<line x1="353.6" y1="160.3" x2="354.0" y2="166.7" stroke="rgb(40,214,200)" stroke-opacity="0.13" stroke-width="1"/>
<line x1="475.3" y1="103.1" x2="475.0" y2="107.4" stroke="rgb(44,228,160)" stroke-opacity="0.11" stroke-width="1"/>
<line x1="477.3" y1="135.9" x2="477.0" y2="138.3" stroke="rgb(40,217,193)" stroke-opacity="0.13" stroke-width="1"/>
<line x1="363.4" y1="126.6" x2="363.1" y2="130.8" stroke="rgb(40,214,200)" stroke-opacity="0.09" stroke-width="1"/>
<line x1="475.8" y1="122.5" x2="476.3" y2="129.4" stroke="rgb(40,214,200)" stroke-opacity="0.09" stroke-width="1"/>
<line x1="475.1" y1="131.9" x2="475.5" y2="138.3" stroke="rgb(40,216,196)" stroke-opacity="0.07" stroke-width="1"/>
<line x1="483.1" y1="129.1" x2="483.5" y2="134.8" stroke="rgb(40,217,191)" stroke-opacity="0.08" stroke-width="1"/>
<line x1="436.3" y1="131.0" x2="436.7" y2="135.4" stroke="rgb(40,219,186)" stroke-opacity="0.10" stroke-width="1"/>
<line x1="460.2" y1="127.4" x2="459.6" y2="133.1" stroke="rgb(40,225,172)" stroke-opacity="0.08" stroke-width="1"/>
<line x1="376.3" y1="122.5" x2="376.0" y2="129.9" stroke="rgb(40,214,200)" stroke-opacity="0.11" stroke-width="1"/>
<line x1="330.7" y1="139.4" x2="330.2" y2="143.4" stroke="rgb(40,214,200)" stroke-opacity="0.05" stroke-width="1"/>
<line x1="506.3" y1="123.1" x2="506.5" y2="126.7" stroke="rgb(40,222,178)" stroke-opacity="0.11" stroke-width="1"/>
<line x1="380.8" y1="153.1" x2="381.0" y2="157.2" stroke="rgb(40,221,181)" stroke-opacity="0.05" stroke-width="1"/>
<line x1="394.7" y1="132.7" x2="394.6" y2="135.6" stroke="rgb(40,214,200)" stroke-opacity="0.13" stroke-width="1"/>
<line x1="455.0" y1="130.7" x2="455.4" y2="135.7" stroke="rgb(40,224,174)" stroke-opacity="0.07" stroke-width="1"/>
<line x1="364.9" y1="136.8" x2="365.2" y2="139.2" stroke="rgb(40,214,200)" stroke-opacity="0.08" stroke-width="1"/>
<line x1="432.9" y1="133.8" x2="432.6" y2="137.9" stroke="rgb(40,215,198)" stroke-opacity="0.08" stroke-width="1"/>
<line x1="398.2" y1="134.9" x2="398.1" y2="139.2" stroke="rgb(40,214,200)" stroke-opacity="0.06" stroke-width="1"/>
<line x1="331.5" y1="116.4" x2="331.4" y2="122.4" stroke="rgb(40,214,200)" stroke-opacity="0.08" stroke-width="1"/>
<line x1="480.2" y1="135.7" x2="479.7" y2="138.3" stroke="rgb(40,214,200)" stroke-opacity="0.13" stroke-width="1"/>
<line x1="381.5" y1="128.4" x2="381.3" y2="130.9" stroke="rgb(40,223,177)" stroke-opacity="0.11" stroke-width="1"/>
<line x1="496.9" y1="130.0" x2="496.9" y2="134.7" stroke="rgb(40,214,200)" stroke-opacity="0.08" stroke-width="1"/>
<line x1="371.3" y1="122.2" x2="371.8" y2="125.7" stroke="rgb(40,214,200)" stroke-opacity="0.14" stroke-width="1"/>
<line x1="517.4" y1="115.2" x2="516.9" y2="122.3" stroke="rgb(40,214,200)" stroke-opacity="0.14" stroke-width="1"/>
<line x1="402.8" y1="119.4" x2="403.4" y2="121.8" stroke="rgb(40,220,183)" stroke-opacity="0.06" stroke-width="1"/>
<line x1="348.2" y1="124.8" x2="347.8" y2="130.4" stroke="rgb(40,214,200)" stroke-opacity="0.05" stroke-width="1"/>
<line x1="443.2" y1="137.5" x2="443.5" y2="140.0" stroke="rgb(40,214,200)" stroke-opacity="0.07" stroke-width="1"/>
<line x1="460.9" y1="129.4" x2="461.4" y2="133.2" stroke="rgb(40,214,200)" stroke-opacity="0.13" stroke-width="1"/>
<line x1="496.5" y1="127.6" x2="496.5" y2="134.3" stroke="rgb(40,215,197)" stroke-opacity="0.09" stroke-width="1"/>
<line x1="327.0" y1="130.8" x2="326.6" y2="133.9" stroke="rgb(40,214,200)" stroke-opacity="0.10" stroke-width="1"/>
<line x1="322.1" y1="128.9" x2="321.8" y2="132.1" stroke="rgb(40,214,200)" stroke-opacity="0.12" stroke-width="1"/>
<line x1="392.4" y1="133.3" x2="392.8" y2="138.6" stroke="rgb(40,214,200)" stroke-opacity="0.09" stroke-width="1"/>
<line x1="325.5" y1="131.0" x2="325.6" y2="136.5" stroke="rgb(40,214,200)" stroke-opacity="0.14" stroke-width="1"/>
<line x1="390.8" y1="117.4" x2="390.4" y2="119.6" stroke="rgb(40,222,180)" stroke-opacity="0.04" stroke-width="1"/>
<line x1="479.8" y1="126.6" x2="479.8" y2="131.1" stroke="rgb(40,214,200)" stroke-opacity="0.06" stroke-width="1"/>
<line x1="309.2" y1="132.9" x2="308.6" y2="138.8" stroke="rgb(40,225,172)" stroke-opacity="0.12" stroke-width="1"/>
<line x1="392.9" y1="125.2" x2="393.4" y2="131.3" stroke="rgb(40,217,193)" stroke-opacity="0.05" stroke-width="1"/>
<line x1="374.0" y1="116.5" x2="374.0" y2="121.5" stroke="rgb(43,228,161)" stroke-opacity="0.10" stroke-width="1"/>
<line x1="498.2" y1="116.3" x2="497.9" y2="119.8" stroke="rgb(40,218,190)" stroke-opacity="0.11" stroke-width="1"/>
<line x1="382.5" y1="119.6" x2="381.9" y2="125.3" stroke="rgb(40,214,200)" stroke-opacity="0.09" stroke-width="1"/>
<line x1="483.5" y1="133.7" x2="483.4" y2="140.8" stroke="rgb(40,217,191)" stroke-opacity="0.09" stroke-width="1"/>
<line x1="351.1" y1="134.0" x2="351.4" y2="139.9" stroke="rgb(40,214,200)" stroke-opacity="0.06" stroke-width="1"/>
<line x1="408.3" y1="135.7" x2="407.7" y2="142.6" stroke="rgb(40,214,199)" stroke-opacity="0.14" stroke-width="1"/>
<line x1="431.2" y1="135.9" x2="431.3" y2="140.2" stroke="rgb(40,214,200)" stroke-opacity="0.07" stroke-width="1"/>
<line x1="430.3" y1="124.3" x2="430.6" y2="128.2" stroke="rgb(40,222,178)" stroke-opacity="0.09" stroke-width="1"/>
<line x1="314.5" y1="132.9" x2="314.9" y2="138.6" stroke="rgb(40,214,200)" stroke-opacity="0.08" stroke-width="1"/>
<line x1="389.9" y1="142.8" x2="390.5" y2="146.9" stroke="rgb(40,225,171)" stroke-opacity="0.05" stroke-width="1"/>
<line x1="482.6" y1="124.2" x2="482.1" y2="130.5" stroke="rgb(40,220,185)" stroke-opacity="0.10" stroke-width="1"/>
<line x1="467.9" y1="114.2" x2="468.4" y2="121.6" stroke="rgb(40,217,192)" stroke-opacity="0.10" stroke-width="1"/>
<line x1="441.0" y1="146.4" x2="441.2" y2="151.9" stroke="rgb(40,214,200)" stroke-opacity="0.04" stroke-width="1"/>
<line x1="393.4" y1="119.0" x2="392.9" y2="121.3" stroke="rgb(40,214,200)" stroke-opacity="0.13" stroke-width="1"/>
<line x1="471.8" y1="115.2" x2="471.3" y2="121.3" stroke="rgb(40,214,200)" stroke-opacity="0.08" stroke-width="1"/>
<line x1="372.1" y1="134.4" x2="372.5" y2="139.1" stroke="rgb(40,214,200)" stroke-opacity="0.05" stroke-width="1"/>
<line x1="446.9" y1="124.7" x2="447.0" y2="129.2" stroke="rgb(40,219,187)" stroke-opacity="0.14" stroke-width="1"/>
<line x1="502.2" y1="132.7" x2="502.6" y2="138.0" stroke="rgb(40,222,180)" stroke-opacity="0.09" stroke-width="1"/>
<line x1="329.6" y1="135.4" x2="329.9" y2="138.6" stroke="rgb(40,222,179)" stroke-opacity="0.08" stroke-width="1"/>
<line x1="503.5" y1="131.5" x2="503.8" y2="133.2" stroke="rgb(40,214,199)" stroke-opacity="0.08" stroke-width="1"/>
<line x1="325.7" y1="128.6" x2="325.3" y2="132.2" stroke="rgb(40,214,200)" stroke-opacity="0.07" stroke-width="1"/>
<line x1="378.5" y1="126.5" x2="378.6" y2="129.3" stroke="rgb(40,214,200)" stroke-opacity="0.08" stroke-width="1"/>
<line x1="484.9" y1="120.6" x2="485.2" y2="127.4" stroke="rgb(40,214,200)" stroke-opacity="0.07" stroke-width="1"/>
<line x1="353.5" y1="131.1" x2="353.2" y2="135.7" stroke="rgb(40,226,168)" stroke-opacity="0.10" stroke-width="1"/>
<line x1="316.9" y1="97.5" x2="316.9" y2="100.6" stroke="rgb(40,214,200)" stroke-opacity="0.10" stroke-width="1"/>
<line x1="513.8" y1="83.9" x2="513.4" y2="90.5" stroke="rgb(40,214,200)" stroke-opacity="0.09" stroke-width="1"/>
<line x1="465.7" y1="98.1" x2="465.8" y2="103.9" stroke="rgb(40,215,197)" stroke-opacity="0.11" stroke-width="1"/>
<line x1="422.1" y1="91.7" x2="422.4" y2="95.9" stroke="rgb(40,218,190)" stroke-opacity="0.14" stroke-width="1"/>
<line x1="477.0" y1="103.6" x2="477.2" y2="110.4" stroke="rgb(40,215,197)" stroke-opacity="0.09" stroke-width="1"/>
<line x1="329.1" y1="98.2" x2="329.6" y2="103.3" stroke="rgb(40,214,200)" stroke-opacity="0.13" stroke-width="1"/>
<line x1="451.9" y1="78.4" x2="452.2" y2="86.9" stroke="rgb(40,214,200)" stroke-opacity="0.13" stroke-width="1"/>
<line x1="360.2" y1="86.6" x2="359.9" y2="91.4" stroke="rgb(40,216,196)" stroke-opacity="0.09" stroke-width="1"/>
<line x1="366.3" y1="92.5" x2="366.0" y2="98.4" stroke="rgb(40,214,200)" stroke-opacity="0.07" stroke-width="1"/>
<line x1="413.0" y1="93.3" x2="413.4" y2="98.9" stroke="rgb(40,214,200)" stroke-opacity="0.13" stroke-width="1"/>
<line x1="434.6" y1="81.0" x2="435.0" y2="85.0" stroke="rgb(40,214,200)" stroke-opacity="0.13" stroke-width="1"/>
<line x1="359.1" y1="88.4" x2="359.5" y2="97.6" stroke="rgb(40,220,184)" stroke-opacity="0.08" stroke-width="1"/>
<line x1="353.4" y1="85.5" x2="353.5" y2="90.8" stroke="rgb(40,214,200)" stroke-opacity="0.09" stroke-width="1"/>
<line x1="378.3" y1="73.8" x2="378.9" y2="79.2" stroke="rgb(52,232,141)" stroke-opacity="0.05" stroke-width="1"/>
<line x1="444.9" y1="107.7" x2="445.5" y2="114.4" stroke="rgb(40,222,179)" stroke-opacity="0.05" stroke-width="1"/>
<line x1="369.8" y1="99.1" x2="369.3" y2="104.3" stroke="rgb(40,214,200)" stroke-opacity="0.11" stroke-width="1"/>
<line x1="309.4" y1="73.8" x2="309.4" y2="76.1" stroke="rgb(40,214,200)" stroke-opacity="0.12" stroke-width="1"/>
<line x1="319.7" y1="79.3" x2="319.5" y2="82.9" stroke="rgb(40,214,200)" stroke-opacity="0.09" stroke-width="1"/>
<line x1="410.8" y1="95.7" x2="410.8" y2="103.5" stroke="rgb(40,214,200)" stroke-opacity="0.05" stroke-width="1"/>
<line x1="423.4" y1="96.4" x2="423.2" y2="103.8" stroke="rgb(40,214,200)" stroke-opacity="0.05" stroke-width="1"/>
<line x1="375.5" y1="89.3" x2="375.9" y2="90.6" stroke="rgb(52,231,142)" stroke-opacity="0.13" stroke-width="1"/>
<line x1="505.0" y1="89.0" x2="505.2" y2="96.1" stroke="rgb(40,215,197)" stroke-opacity="0.10" stroke-width="1"/>
<line x1="435.4" y1="80.5" x2="434.8" y2="82.3" stroke="rgb(40,222,179)" stroke-opacity="0.14" stroke-width="1"/>
<line x1="327.1" y1="96.4" x2="326.6" y2="104.6" stroke="rgb(40,214,200)" stroke-opacity="0.04" stroke-width="1"/>
<line x1="482.2" y1="90.6" x2="481.6" y2="93.1" stroke="rgb(40,214,200)" stroke-opacity="0.12" stroke-width="1"/>
<line x1="317.7" y1="85.9" x2="317.6" y2="92.2" stroke="rgb(40,214,200)" stroke-opacity="0.12" stroke-width="1"/>
<line x1="375.5" y1="92.2" x2="375.5" y2="97.3" stroke="rgb(40,215,198)" stroke-opacity="0.10" stroke-width="1"/>
<line x1="375.4" y1="87.4" x2="375.9" y2="91.2" stroke="rgb(40,214,200)" stroke-opacity="0.06" stroke-width="1"/>
<line x1="341.0" y1="96.1" x2="340.6" y2="102.1" stroke="rgb(40,214,200)" stroke-opacity="0.07" stroke-width="1"/>
<line x1="444.3" y1="95.0" x2="444.8" y2="99.7" stroke="rgb(40,223,176)" stroke-opacity="0.07" stroke-width="1"/>
<line x1="342.9" y1="93.0" x2="343.2" y2="99.5" stroke="rgb(40,214,200)" stroke-opacity="0.11" stroke-width="1"/>
<line x1="419.7" y1="102.9" x2="419.3" y2="110.7" stroke="rgb(40,220,184)" stroke-opacity="0.06" stroke-width="1"/>
<line x1="392.5" y1="100.9" x2="392.4" y2="105.5" stroke="rgb(40,214,200)" stroke-opacity="0.14" stroke-width="1"/>
<line x1="332.3" y1="106.5" x2="332.6" y2="112.2" stroke="rgb(40,214,200)" stroke-opacity="0.07" stroke-width="1"/>
<line x1="385.0" y1="89.3" x2="384.4" y2="96.8" stroke="rgb(40,214,200)" stroke-opacity="0.12" stroke-width="1"/>
<line x1="410.8" y1="84.3" x2="410.4" y2="88.6" stroke="rgb(40,216,195)" stroke-opacity="0.13" stroke-width="1"/>
<line x1="347.4" y1="109.5" x2="347.0" y2="110.8" stroke="rgb(40,220,183)" stroke-opacity="0.13" stroke-width="1"/>
<line x1="457.3" y1="89.5" x2="457.6" y2="95.5" stroke="rgb(40,214,200)" stroke-opacity="0.05" stroke-width="1"/>
<line x1="493.6" y1="91.8" x2="493.4" y2="93.5" stroke="rgb(40,214,200)" stroke-opacity="0.05" stroke-width="1"/>
<line x1="505.8" y1="94.8" x2="505.3" y2="100.7" stroke="rgb(40,216,194)" stroke-opacity="0.07" stroke-width="1"/>
<line x1="369.3" y1="94.3" x2="369.6" y2="100.1" stroke="rgb(40,214,200)" stroke-opacity="0.10" stroke-width="1"/>
<line x1="416.8" y1="91.1" x2="416.3" y2="96.6" stroke="rgb(40,214,200)" stroke-opacity="0.06" stroke-width="1"/>
<line x1="369.8" y1="96.1" x2="369.9" y2="97.4" stroke="rgb(40,214,200)" stroke-opacity="0.07" stroke-width="1"/>
<line x1="366.6" y1="92.3" x2="366.7" y2="98.5" stroke="rgb(40,214,200)" stroke-opacity="0.09" stroke-width="1"/>
<line x1="485.7" y1="87.9" x2="486.1" y2="93.0" stroke="rgb(55,233,136)" stroke-opacity="0.04" stroke-width="1"/>
<line x1="389.5" y1="85.0" x2="389.8" y2="90.9" stroke="rgb(40,215,196)" stroke-opacity="0.06" stroke-width="1"/>
<line x1="348.7" y1="98.6" x2="348.7" y2="103.6" stroke="rgb(40,217,193)" stroke-opacity="0.11" stroke-width="1"/>
<line x1="342.4" y1="83.3" x2="342.1" y2="89.8" stroke="rgb(40,215,198)" stroke-opacity="0.04" stroke-width="1"/>
<line x1="436.7" y1="86.1" x2="437.1" y2="92.6" stroke="rgb(40,214,200)" stroke-opacity="0.08" stroke-width="1"/>
<line x1="428.5" y1="89.3" x2="428.3" y2="91.9" stroke="rgb(40,219,188)" stroke-opacity="0.09" stroke-width="1"/>
<line x1="500.4" y1="92.8" x2="500.4" y2="102.2" stroke="rgb(40,223,175)" stroke-opacity="0.06" stroke-width="1"/>
<line x1="515.7" y1="80.1" x2="515.3" y2="84.6" stroke="rgb(40,218,188)" stroke-opacity="0.11" stroke-width="1"/>
<line x1="429.1" y1="101.7" x2="428.9" y2="110.6" stroke="rgb(40,214,200)" stroke-opacity="0.11" stroke-width="1"/>
<line x1="423.8" y1="98.4" x2="423.7" y2="99.7" stroke="rgb(40,214,199)" stroke-opacity="0.09" stroke-width="1"/>
<line x1="303.4" y1="86.8" x2="302.9" y2="91.6" stroke="rgb(40,214,200)" stroke-opacity="0.09" stroke-width="1"/>
<line x1="410.5" y1="89.5" x2="410.2" y2="91.4" stroke="rgb(40,215,197)" stroke-opacity="0.14" stroke-width="1"/>
<line x1="398.6" y1="104.6" x2="398.3" y2="111.2" stroke="rgb(40,215,196)" stroke-opacity="0.12" stroke-width="1"/>
<line x1="498.0" y1="109.1" x2="498.5" y2="111.8" stroke="rgb(40,214,200)" stroke-opacity="0.10" stroke-width="1"/>
<line x1="408.8" y1="86.4" x2="408.4" y2="91.4" stroke="rgb(40,219,187)" stroke-opacity="0.07" stroke-width="1"/>
<line x1="349.5" y1="84.3" x2="350.0" y2="90.9" stroke="rgb(40,214,200)" stroke-opacity="0.14" stroke-width="1"/>
<line x1="451.0" y1="63.2" x2="451.4" y2="65.0" stroke="rgb(40,219,187)" stroke-opacity="0.05" stroke-width="1"/>
<line x1="368.5" y1="44.5" x2="368.5" y2="49.5" stroke="rgb(49,230,147)" stroke-opacity="0.04" stroke-width="1"/>
<line x1="377.1" y1="62.2" x2="376.6" y2="64.3" stroke="rgb(45,228,156)" stroke-opacity="0.09" stroke-width="1"/>
<line x1="447.1" y1="45.9" x2="446.9" y2="55.1" stroke="rgb(43,227,162)" stroke-opacity="0.11" stroke-width="1"/>
<line x1="343.2" y1="54.9" x2="343.4" y2="56.6" stroke="rgb(40,224,172)" stroke-opacity="0.04" stroke-width="1"/>
<line x1="315.7" y1="55.8" x2="316.1" y2="62.9" stroke="rgb(40,214,200)" stroke-opacity="0.10" stroke-width="1"/>
<line x1="425.9" y1="69.2" x2="425.4" y2="73.0" stroke="rgb(40,214,200)" stroke-opacity="0.06" stroke-width="1"/>
<line x1="337.8" y1="58.2" x2="338.1" y2="63.4" stroke="rgb(40,214,200)" stroke-opacity="0.09" stroke-width="1"/>
<line x1="453.0" y1="51.1" x2="453.2" y2="55.8" stroke="rgb(40,214,200)" stroke-opacity="0.09" stroke-width="1"/>
<line x1="506.5" y1="64.2" x2="506.3" y2="66.8" stroke="rgb(46,229,155)" stroke-opacity="0.11" stroke-width="1"/>
<line x1="508.6" y1="44.7" x2="508.7" y2="46.0" stroke="rgb(40,215,197)" stroke-opacity="0.06" stroke-width="1"/>
<line x1="408.4" y1="48.9" x2="408.3" y2="57.6" stroke="rgb(40,217,191)" stroke-opacity="0.08" stroke-width="1"/>
<line x1="463.8" y1="57.3" x2="463.3" y2="63.4" stroke="rgb(40,214,200)" stroke-opacity="0.06" stroke-width="1"/>
<line x1="314.3" y1="55.8" x2="314.4" y2="59.1" stroke="rgb(40,221,181)" stroke-opacity="0.11" stroke-width="1"/>
<line x1="392.5" y1="52.7" x2="392.4" y2="58.3" stroke="rgb(40,214,200)" stroke-opacity="0.04" stroke-width="1"/>
<line x1="451.1" y1="61.2" x2="451.6" y2="66.2" stroke="rgb(40,214,200)" stroke-opacity="0.09" stroke-width="1"/>
<line x1="498.0" y1="56.7" x2="498.3" y2="63.9" stroke="rgb(40,223,176)" stroke-opacity="0.05" stroke-width="1"/>
<line x1="315.3" y1="57.1" x2="315.6" y2="63.4" stroke="rgb(40,222,179)" stroke-opacity="0.06" stroke-width="1"/>
<line x1="460.0" y1="50.7" x2="459.9" y2="58.6" stroke="rgb(40,214,200)" stroke-opacity="0.07" stroke-width="1"/>
<line x1="326.0" y1="49.5" x2="325.5" y2="51.2" stroke="rgb(40,217,192)" stroke-opacity="0.11" stroke-width="1"/>
<line x1="318.3" y1="54.9" x2="318.4" y2="62.8" stroke="rgb(40,214,200)" stroke-opacity="0.07" stroke-width="1"/>
<line x1="463.8" y1="60.8" x2="463.9" y2="63.2" stroke="rgb(40,220,183)" stroke-opacity="0.09" stroke-width="1"/>
<line x1="313.0" y1="57.5" x2="312.5" y2="61.2" stroke="rgb(40,222,179)" stroke-opacity="0.04" stroke-width="1"/>
<line x1="387.5" y1="61.5" x2="387.9" y2="65.4" stroke="rgb(40,215,198)" stroke-opacity="0.12" stroke-width="1"/>
<line x1="408.1" y1="52.5" x2="407.8" y2="56.4" stroke="rgb(40,218,190)" stroke-opacity="0.06" stroke-width="1"/>
<line x1="490.0" y1="58.6" x2="490.4" y2="61.3" stroke="rgb(40,214,200)" stroke-opacity="0.07" stroke-width="1"/>
<line x1="358.6" y1="62.7" x2="358.5" y2="64.5" stroke="rgb(40,214,200)" stroke-opacity="0.07" stroke-width="1"/>
<line x1="371.2" y1="61.1" x2="371.5" y2="64.5" stroke="rgb(40,214,200)" stroke-opacity="0.06" stroke-width="1"/>
<line x1="401.3" y1="41.4" x2="401.9" y2="46.9" stroke="rgb(40,214,200)" stroke-opacity="0.11" stroke-width="1"/>
<line x1="472.7" y1="61.4" x2="472.5" y2="63.7" stroke="rgb(40,220,183)" stroke-opacity="0.10" stroke-width="1"/>
<line x1="459.4" y1="69.5" x2="459.1" y2="73.4" stroke="rgb(40,214,200)" stroke-opacity="0.09" stroke-width="1"/>
<line x1="469.4" y1="51.8" x2="469.7" y2="54.0" stroke="rgb(40,214,200)" stroke-opacity="0.06" stroke-width="1"/>
<line x1="306.6" y1="45.3" x2="306.5" y2="51.8" stroke="rgb(40,214,200)" stroke-opacity="0.05" stroke-width="1"/>
<line x1="517.6" y1="68.3" x2="517.7" y2="74.5" stroke="rgb(47,229,152)" stroke-opacity="0.04" stroke-width="1"/>
<line x1="480.4" y1="63.0" x2="480.7" y2="66.1" stroke="rgb(40,214,200)" stroke-opacity="0.10" stroke-width="1"/>
<line x1="428.0" y1="51.2" x2="428.1" y2="56.0" stroke="rgb(40,226,169)" stroke-opacity="0.08" stroke-width="1"/>
<line x1="516.2" y1="65.8" x2="515.9" y2="73.2" stroke="rgb(40,214,200)" stroke-opacity="0.11" stroke-width="1"/>
<line x1="425.5" y1="70.6" x2="425.7" y2="73.1" stroke="rgb(40,214,200)" stroke-opacity="0.05" stroke-width="1"/>
<line x1="496.0" y1="55.3" x2="496.1" y2="58.6" stroke="rgb(40,217,193)" stroke-opacity="0.05" stroke-width="1"/>
<line x1="402.4" y1="51.1" x2="403.0" y2="54.0" stroke="rgb(40,214,200)" stroke-opacity="0.08" stroke-width="1"/>
<line x1="379.2" y1="58.5" x2="379.6" y2="62.6" stroke="rgb(40,214,200)" stroke-opacity="0.09" stroke-width="1"/>
<line x1="385.1" y1="69.8" x2="384.5" y2="74.3" stroke="rgb(40,221,181)" stroke-opacity="0.08" stroke-width="1"/>
<line x1="383.9" y1="56.0" x2="383.6" y2="59.8" stroke="rgb(40,214,200)" stroke-opacity="0.11" stroke-width="1"/>
<line x1="341.4" y1="72.7" x2="341.7" y2="78.1" stroke="rgb(40,216,194)" stroke-opacity="0.10" stroke-width="1"/>
<line x1="360.1" y1="45.6" x2="359.8" y2="50.6" stroke="rgb(43,227,161)" stroke-opacity="0.11" stroke-width="1"/>
<line x1="454.9" y1="60.9" x2="454.6" y2="65.1" stroke="rgb(40,214,200)" stroke-opacity="0.11" stroke-width="1"/>
<line x1="405.4" y1="53.6" x2="406.0" y2="60.4" stroke="rgb(40,218,190)" stroke-opacity="0.09" stroke-width="1"/>
<line x1="351.3" y1="48.1" x2="351.8" y2="53.4" stroke="rgb(40,224,173)" stroke-opacity="0.05" stroke-width="1"/>
<line x1="376.7" y1="49.7" x2="376.3" y2="55.3" stroke="rgb(40,222,179)" stroke-opacity="0.09" stroke-width="1"/>
<line x1="379.7" y1="42.5" x2="380.2" y2="46.9" stroke="rgb(40,214,200)" stroke-opacity="0.11" stroke-width="1"/>
<line x1="351.9" y1="53.6" x2="351.4" y2="59.5" stroke="rgb(40,214,200)" stroke-opacity="0.09" stroke-width="1"/>
<line x1="484.7" y1="56.8" x2="484.1" y2="59.1" stroke="rgb(40,214,200)" stroke-opacity="0.04" stroke-width="1"/>
<line x1="379.3" y1="68.9" x2="378.7" y2="73.4" stroke="rgb(40,216,195)" stroke-opacity="0.04" stroke-width="1"/>
<line x1="453.5" y1="55.4" x2="453.8" y2="60.9" stroke="rgb(40,219,186)" stroke-opacity="0.09" stroke-width="1"/>
<line x1="372.6" y1="51.3" x2="372.3" y2="56.5" stroke="rgb(40,214,200)" stroke-opacity="0.06" stroke-width="1"/>
<line x1="366.1" y1="55.2" x2="366.2" y2="59.9" stroke="rgb(40,215,196)" stroke-opacity="0.06" stroke-width="1"/>
<line x1="361.0" y1="68.5" x2="361.5" y2="75.8" stroke="rgb(40,214,200)" stroke-opacity="0.06" stroke-width="1"/>
<line x1="465.9" y1="60.9" x2="465.9" y2="63.6" stroke="rgb(40,214,200)" stroke-opacity="0.09" stroke-width="1"/>
<line x1="392.2" y1="49.9" x2="392.6" y2="56.2" stroke="rgb(40,214,200)" stroke-opacity="0.08" stroke-width="1"/>
<line x1="495.8" y1="59.9" x2="495.2" y2="64.7" stroke="rgb(40,216,196)" stroke-opacity="0.06" stroke-width="1"/>
<line x1="475.0" y1="53.8" x2="475.2" y2="57.4" stroke="rgb(40,219,185)" stroke-opacity="0.11" stroke-width="1"/>
<line x1="452.4" y1="73.0" x2="452.5" y2="77.8" stroke="rgb(40,214,200)" stroke-opacity="0.07" stroke-width="1"/>
<line x1="493.2" y1="75.9" x2="493.7" y2="80.5" stroke="rgb(40,216,196)" stroke-opacity="0.05" stroke-width="1"/>
<line x1="420.4" y1="56.1" x2="420.4" y2="59.2" stroke="rgb(40,214,200)" stroke-opacity="0.11" stroke-width="1"/>
<line x1="516.9" y1="79.0" x2="517.1" y2="86.7" stroke="rgb(40,218,189)" stroke-opacity="0.07" stroke-width="1"/>
<line x1="326.9" y1="60.2" x2="327.2" y2="61.3" stroke="rgb(40,214,200)" stroke-opacity="0.07" stroke-width="1"/>
<line x1="430.8" y1="54.0" x2="430.5" y2="58.2" stroke="rgb(40,214,200)" stroke-opacity="0.09" stroke-width="1"/>
<line x1="399.5" y1="62.7" x2="399.7" y2="65.8" stroke="rgb(40,214,200)" stroke-opacity="0.08" stroke-width="1"/>
<line x1="306.9" y1="58.7" x2="306.7" y2="66.4" stroke="rgb(40,215,198)" stroke-opacity="0.10" stroke-width="1"/>
<line x1="509.9" y1="61.4" x2="509.6" y2="65.4" stroke="rgb(40,214,200)" stroke-opacity="0.09" stroke-width="1"/>
<polyline points="303.0,167.5 304.3,165.0 305.6,166.9 306.9,166.2 308.2,165.0 309.5,164.3 310.8,166.5 312.1,164.9 313.4,165.4 314.7,166.0 316.0,169.3 317.3,166.7 318.6,168.2 319.9,165.4 321.2,165.2 322.5,166.9 323.8,166.5 325.1,165.6 326.4,160.9 327.7,168.4 329.0,164.2 330.3,169.7 331.6,167.7 332.9,166.9 334.2,166.2 335.5,167.4 336.8,166.5 338.1,164.1 339.4,167.8 340.7,165.6 342.0,166.3 343.3,169.4 344.6,163.5 345.9,168.5 347.2,165.3 348.5,164.8 349.8,168.0 351.1,167.7 352.4,163.3 353.7,168.2 355.0,165.5 356.3,162.0 357.7,166.5 359.0,162.9 360.3,165.4 361.6,168.1 362.9,161.8 364.2,165.6 365.5,167.2 366.8,165.4 368.1,164.6 369.4,168.5 370.7,170.0 372.0,168.1 373.3,166.8 374.6,165.2 375.9,167.8 377.2,172.6 378.5,165.8 379.8,166.2 381.1,164.2 382.4,166.9 383.7,165.4 385.0,160.2 386.3,165.9 387.6,166.5 388.9,163.2 390.2,166.1 391.5,167.3 392.8,164.6 394.1,165.4 395.4,166.3 396.7,164.7 398.0,163.3 399.3,164.0 400.6,163.9 401.9,163.1 403.2,169.4 404.5,168.5 405.8,168.9 407.1,167.1 408.4,163.8 409.7,165.1 411.0,165.6 412.3,163.6 413.6,166.0 414.9,165.1 416.2,164.7 417.5,162.8 418.8,166.3 420.1,165.9 421.4,164.2 422.7,168.6 424.0,167.3 425.3,165.3 426.6,165.0 427.9,166.3 429.2,163.8 430.5,165.9 431.8,164.3 433.1,166.6 434.4,168.1 435.7,164.4 437.0,163.5 438.3,167.5 439.6,164.5 440.9,165.2 442.2,162.1 443.5,164.5 444.8,166.0 446.1,167.0 447.4,164.2 448.7,168.7 450.0,168.4 451.3,166.3 452.6,161.8 453.9,164.0 455.2,168.1 456.5,168.2 457.8,162.2 459.1,165.6 460.4,168.1 461.7,165.1 463.0,168.2 464.3,165.8 465.7,170.3 467.0,166.6 468.3,166.7 469.6,163.3 470.9,167.0 472.2,166.7 473.5,166.1 474.8,168.1 476.1,170.6 477.4,168.0 478.7,168.8 480.0,166.8 481.3,166.6 482.6,170.3 483.9,162.9 485.2,165.1 486.5,165.4 487.8,164.1 489.1,159.4 490.4,167.5 491.7,165.1 493.0,163.2 494.3,162.6 495.6,170.1 496.9,170.1 498.2,166.6 499.5,162.7 500.8,163.0 502.1,164.2 503.4,161.2 504.7,165.8 506.0,169.4 507.3,165.7 508.6,168.0 509.9,167.4 511.2,169.3 512.5,168.4 513.8,164.8 515.1,167.3 516.4,160.8 517.7,162.5 519.0,169.0" fill="none" stroke="url(#g3)" stroke-width="0.85" stroke-linejoin="round"/>
<polyline points="379.0,131.0 380.0,133.7 381.1,131.1 382.1,132.2 383.1,129.3 384.1,133.5 385.1,133.5 386.1,131.4 387.1,128.0 388.1,129.4 389.1,129.3 390.1,127.1 391.2,130.1 392.2,130.9 393.2,132.4 394.2,131.8 395.2,129.2 396.2,130.1 397.2,129.8 398.2,130.7 399.2,131.7 400.2,128.9 401.3,131.9 402.3,130.0 403.3,130.7 404.3,130.3 405.3,130.9 406.3,131.9 407.3,131.5 408.3,131.2 409.3,130.8 410.4,131.5 411.4,129.0 412.4,128.4 413.4,130.1 414.4,130.7 415.4,128.5 416.4,127.6 417.4,132.4 418.4,128.0 419.4,133.8 420.5,130.5 421.5,129.3 422.5,130.5 423.5,129.8 424.5,130.2 425.5,128.0 426.5,130.2 427.5,131.6 428.5,128.6 429.5,129.1 430.6,130.8 431.6,131.3 432.6,132.2 433.6,130.8 434.6,131.0 435.6,132.0 436.6,130.7 437.6,129.7 438.6,130.6 439.7,130.6 440.7,129.6 441.7,134.2" fill="none" stroke="url(#g4)" stroke-width="1.10" stroke-linejoin="round"/>
<polyline points="335.4,102.2 336.4,93.1 337.4,94.5 338.4,90.2 339.4,99.7 340.4,96.0 341.4,93.7 342.5,93.0 343.5,99.2 344.5,92.6 345.5,94.0 346.5,95.7 347.5,95.8 348.5,97.7 349.5,101.1 350.5,92.7 351.5,95.0 352.5,94.7 353.5,93.6 354.6,88.9 355.6,95.1 356.6,92.9 357.6,95.3 358.6,92.1 359.6,98.4 360.6,95.3 361.6,98.0 362.6,102.6 363.6,95.1 364.6,98.2 365.6,91.1 366.6,102.0 367.7,95.6 368.7,101.2 369.7,93.3 370.7,95.3 371.7,97.4 372.7,91.9 373.7,96.9 374.7,90.2 375.7,97.5 376.7,92.8 377.7,93.3 378.7,95.2 379.8,95.4 380.8,99.1 381.8,102.6 382.8,91.5 383.8,98.6 384.8,96.1 385.8,94.8 386.8,95.6 387.8,96.9 388.8,95.7 389.8,89.2 390.8,94.3 391.8,93.2 392.9,94.2 393.9,94.2 394.9,99.4 395.9,102.7 396.9,87.6 397.9,96.0 398.9,93.0 399.9,95.7 400.9,96.1 401.9,90.9 402.9,100.4 403.9,99.3 405.0,94.9 406.0,93.5 407.0,93.4 408.0,101.0 409.0,95.3 410.0,97.7 411.0,97.0" fill="none" stroke="url(#g5)" stroke-width="0.80" stroke-linejoin="round"/>
<line x1="363.6" y1="91.1" x2="363.6" y2="100.9" stroke="rgb(40,218,190)" stroke-opacity="0.15" stroke-width="1"/>
<line x1="343.5" y1="93.2" x2="343.9" y2="94.9" stroke="rgb(50,230,147)" stroke-opacity="0.20" stroke-width="1"/>
<line x1="356.1" y1="88.4" x2="356.3" y2="98.5" stroke="rgb(59,234,127)" stroke-opacity="0.28" stroke-width="1"/>
<line x1="403.2" y1="92.5" x2="403.2" y2="98.6" stroke="rgb(40,221,181)" stroke-opacity="0.18" stroke-width="1"/>
<line x1="358.6" y1="91.7" x2="358.1" y2="98.1" stroke="rgb(40,223,175)" stroke-opacity="0.13" stroke-width="1"/>
<line x1="402.3" y1="88.9" x2="402.9" y2="99.3" stroke="rgb(40,214,200)" stroke-opacity="0.24" stroke-width="1"/>
<line x1="351.1" y1="94.1" x2="350.6" y2="95.9" stroke="rgb(40,226,167)" stroke-opacity="0.16" stroke-width="1"/>
<line x1="393.5" y1="93.6" x2="393.7" y2="97.7" stroke="rgb(40,221,182)" stroke-opacity="0.15" stroke-width="1"/>
<line x1="348.9" y1="92.0" x2="348.5" y2="101.8" stroke="rgb(40,218,190)" stroke-opacity="0.37" stroke-width="1"/>
<line x1="360.1" y1="88.9" x2="360.5" y2="97.9" stroke="rgb(53,232,139)" stroke-opacity="0.13" stroke-width="1"/>
<line x1="385.4" y1="94.4" x2="385.7" y2="97.9" stroke="rgb(66,236,117)" stroke-opacity="0.37" stroke-width="1"/>
<line x1="354.2" y1="90.9" x2="354.2" y2="97.1" stroke="rgb(44,228,159)" stroke-opacity="0.35" stroke-width="1"/>
<line x1="405.8" y1="90.2" x2="406.2" y2="100.1" stroke="rgb(70,237,112)" stroke-opacity="0.35" stroke-width="1"/>
<line x1="401.6" y1="89.5" x2="401.8" y2="95.7" stroke="rgb(60,235,124)" stroke-opacity="0.14" stroke-width="1"/>
<polyline points="389.4,62.6 390.4,62.4 391.3,62.2 392.3,57.4 393.2,59.7 394.2,57.9 395.2,59.7 396.1,60.9 397.1,61.7 398.0,58.5 399.0,61.8 400.0,58.1 400.9,56.9 401.9,59.4 402.8,58.5 403.8,59.8 404.8,63.9 405.7,59.5 406.7,60.4 407.6,58.6 408.6,59.5 409.6,64.4 410.5,57.6 411.5,59.6 412.4,60.8 413.4,59.4 414.4,62.5 415.3,62.3 416.3,63.2 417.2,57.5 418.2,59.5 419.2,59.7 420.1,60.1 421.1,60.7 422.0,58.1 423.0,58.8 424.0,59.0 424.9,61.9 425.9,59.7 426.8,60.1 427.8,61.6 428.8,61.7 429.7,59.2 430.7,58.3 431.6,59.1 432.6,61.1 433.6,55.7 434.5,58.7 435.5,58.9 436.4,57.2 437.4,62.7 438.4,60.3 439.3,63.0 440.3,57.7 441.2,60.2 442.2,58.5 443.2,62.9 444.1,58.4 445.1,61.6 446.0,61.3 447.0,60.1 448.0,59.7 448.9,65.9 449.9,59.2 450.8,61.3 451.8,61.8 452.8,57.9 453.7,57.8 454.7,59.1 455.6,59.2 456.6,58.7 457.6,61.6 458.5,59.1 459.5,58.8 460.4,60.8 461.4,59.9 462.4,57.6 463.3,64.3 464.3,58.5 465.2,59.2 466.2,63.5 467.2,63.6 468.1,61.0 469.1,60.6 470.0,61.6 471.0,60.4 472.0,62.9 472.9,57.4 473.9,59.1 474.8,58.5 475.8,58.5" fill="none" stroke="url(#g6)" stroke-width="1.00" stroke-linejoin="round"/>
<line x1="310.5" y1="156.2" x2="514.5" y2="156.2" stroke="#e01a2a" stroke-width="0.7" stroke-opacity="0.62"/>
<path d="M307.5 156.2 l5.7 -2.45 v4.9z M517.5 156.2 l-5.7 -2.45 v4.9z" fill="#e01a2a"/>
<text x="421.50" y="149.60" transform="rotate(0.05 423.0 150.5)" class="sl">s<tspan dx="0.7" dy="3.4" class="sb">1</tspan></text>
<line x1="381.5" y1="123.0" x2="440.5" y2="123.0" stroke="#e01a2a" stroke-width="0.7" stroke-opacity="0.62"/>
<path d="M378.5 123.0 l5.7 -2.45 v4.9z M443.5 123.0 l-5.7 -2.45 v4.9z" fill="#e01a2a"/>
<text x="408.30" y="113.60" transform="rotate(0.05 409.8 114.5)" class="sl">s<tspan dx="0.7" dy="3.4" class="sb">2</tspan></text>
<line x1="340.2" y1="86.7" x2="409.8" y2="86.7" stroke="#e01a2a" stroke-width="0.7" stroke-opacity="0.62"/>
<path d="M337.2 86.7 l5.7 -2.45 v4.9z M412.8 86.7 l-5.7 -2.45 v4.9z" fill="#e01a2a"/>
<text x="375.80" y="80.40" transform="rotate(0.05 377.3 81.3)" class="sl">s<tspan dx="0.7" dy="3.4" class="sb">3</tspan></text>
<line x1="390.5" y1="52.3" x2="473.0" y2="52.3" stroke="#e01a2a" stroke-width="0.7" stroke-opacity="0.62"/>
<path d="M387.5 52.3 l5.7 -2.45 v4.9z M476.0 52.3 l-5.7 -2.45 v4.9z" fill="#e01a2a"/>
<text x="429.50" y="46.10" transform="rotate(0.05 431.0 47.0)" class="sl">s<tspan dx="0.7" dy="3.4" class="sb">4</tspan></text>
<rect x="30.0" y="239.1" width="215.8" height="175.8" fill="rgb(1,50,190)"/>
<text x="26.40" y="417.80" transform="rotate(0.05 30.0 414.9)" class="tk" text-anchor="end">0</text>
<text x="26.40" y="382.65" transform="rotate(0.05 30.0 379.8)" class="tk" text-anchor="end">100</text>
<text x="26.40" y="347.50" transform="rotate(0.05 30.0 344.6)" class="tk" text-anchor="end">200</text>
<text x="26.40" y="312.35" transform="rotate(0.05 30.0 309.4)" class="tk" text-anchor="end">300</text>
<text x="26.40" y="277.20" transform="rotate(0.05 30.0 274.3)" class="tk" text-anchor="end">400</text>
<text x="26.40" y="242.05" transform="rotate(0.05 30.0 239.1)" class="tk" text-anchor="end">500</text>
<text x="30.00" y="425.10" transform="rotate(0.05 30.0 424.9)" class="tk" text-anchor="middle">0</text>
<text x="73.20" y="425.10" transform="rotate(0.05 73.2 424.9)" class="tk" text-anchor="middle">0.2</text>
<text x="116.40" y="425.10" transform="rotate(0.05 116.4 424.9)" class="tk" text-anchor="middle">0.4</text>
<text x="159.60" y="425.10" transform="rotate(0.05 159.6 424.9)" class="tk" text-anchor="middle">0.6</text>
<text x="202.80" y="425.10" transform="rotate(0.05 202.8 424.9)" class="tk" text-anchor="middle">0.8</text>
<text x="137.90" y="436.10" transform="rotate(0.05 137.9 435.9)" class="tk" text-anchor="middle">Time(s)</text>
<text transform="translate(8.8 327.0) rotate(-89.95)" class="tk" text-anchor="middle">Frequency (Hz)</text>
<rect x="251.3" y="239.1" width="10.3" height="175.8" fill="url(#cbA)" stroke="#55504a" stroke-width="0.5"/>
<line x1="260.0" y1="387.3" x2="261.6" y2="387.3" stroke="#333" stroke-width="0.5"/>
<text x="264.90" y="390.13" transform="rotate(0.05 261.6 387.3)" class="tk">2</text>
<line x1="260.0" y1="359.2" x2="261.6" y2="359.2" stroke="#333" stroke-width="0.5"/>
<text x="264.90" y="362.01" transform="rotate(0.05 261.6 359.2)" class="tk">4</text>
<line x1="260.0" y1="331.1" x2="261.6" y2="331.1" stroke="#333" stroke-width="0.5"/>
<text x="264.90" y="333.88" transform="rotate(0.05 261.6 331.1)" class="tk">6</text>
<line x1="260.0" y1="303.0" x2="261.6" y2="303.0" stroke="#333" stroke-width="0.5"/>
<text x="264.90" y="305.75" transform="rotate(0.05 261.6 303.0)" class="tk">8</text>
<line x1="260.0" y1="274.8" x2="261.6" y2="274.8" stroke="#333" stroke-width="0.5"/>
<text x="264.90" y="277.62" transform="rotate(0.05 261.6 274.8)" class="tk">10</text>
<line x1="260.0" y1="246.7" x2="261.6" y2="246.7" stroke="#333" stroke-width="0.5"/>
<text x="264.90" y="249.49" transform="rotate(0.05 261.6 246.7)" class="tk">12</text>
<text x="138.00" y="458.70" transform="rotate(0.05 138.0 458.7)" class="cap" text-anchor="middle">(c)</text>
<polyline points="30.0,396.3 31.7,397.3 33.4,397.2 35.1,395.3 36.8,397.1 38.5,396.4 40.2,398.2 41.9,398.9 43.6,398.5 45.3,398.7 47.0,397.4 48.7,396.6 50.4,396.2 52.1,398.4 53.8,399.1 55.5,395.2 57.2,396.6 58.9,396.7 60.6,394.6 62.3,395.8 64.0,398.7 65.7,396.7 67.4,396.2 69.1,396.0 70.8,395.9 72.5,398.4 74.2,398.4 75.9,397.4 77.6,396.9 79.3,399.8 81.0,397.3 82.7,397.1 84.4,396.9 86.1,397.4 87.8,397.2 89.5,397.5 91.2,398.6 92.9,396.5 94.6,396.3 96.3,399.7 98.0,395.8 99.7,397.2 101.4,396.6 103.1,396.3 104.8,398.2 106.5,397.0 108.2,397.7 109.9,397.6 111.6,394.3 113.3,396.4 115.0,396.2 116.7,397.1 118.4,398.6 120.1,400.0 121.8,396.7 123.5,398.1 125.2,396.8 126.9,397.9 128.6,398.0 130.3,397.0 132.0,398.0 133.7,395.8 135.4,398.5 137.1,397.9 138.9,398.8 140.6,397.3 142.3,396.9 144.0,395.7 145.7,396.9 147.4,396.4 149.1,397.9 150.8,395.5 152.5,398.6 154.2,396.9 155.9,399.1 157.6,397.2 159.3,396.6 161.0,396.7 162.7,398.2 164.4,396.3 166.1,398.6 167.8,398.8 169.5,397.0 171.2,396.6 172.9,397.2 174.6,396.1 176.3,395.8 178.0,397.3 179.7,398.8 181.4,396.4 183.1,397.9 184.8,397.8 186.5,399.0 188.2,397.3 189.9,397.5 191.6,397.2 193.3,397.5 195.0,398.9 196.7,397.8 198.4,397.7 200.1,397.2 201.8,395.7 203.5,397.9 205.2,399.8 206.9,395.5 208.6,396.1 210.3,398.7 212.0,398.4 213.7,399.5 215.4,398.0 217.1,399.2 218.8,402.1 220.5,396.2 222.2,396.9 223.9,398.3 225.6,395.9 227.3,399.2 229.0,398.8 230.7,396.4 232.4,394.9 234.1,392.3 235.8,396.8 237.5,397.6 239.2,398.8 240.9,396.8 242.6,395.7 244.3,397.0 246.0,397.9" fill="none" stroke="url(#g7)" stroke-width="1.10" stroke-linejoin="round"/>
<polyline points="106.0,362.4 107.5,363.0 108.9,363.1 110.3,362.2 111.7,362.4 113.2,362.2 114.6,362.6 116.0,361.0 117.4,361.4 118.8,362.1 120.3,363.0 121.7,361.5 123.1,362.4 124.5,363.0 126.0,361.4 127.4,362.8 128.8,361.8 130.2,362.4 131.7,362.1 133.1,362.2 134.5,362.9 135.9,362.0 137.4,361.1 138.8,360.0 140.2,362.2 141.6,360.7 143.0,363.6 144.5,363.3 145.9,361.0 147.3,362.1 148.7,361.5 150.2,361.3 151.6,361.9 153.0,362.2 154.4,361.9 155.9,361.7 157.3,362.3 158.7,363.2 160.1,361.7 161.6,361.5 163.0,362.5 164.4,361.2 165.8,362.6 167.2,361.3 168.7,358.9" fill="none" stroke="url(#g8)" stroke-width="1.15" stroke-linejoin="round"/>
<polyline points="63.0,329.0 64.4,327.8 65.7,327.3 67.0,326.2 68.3,326.0 69.6,327.3 70.9,327.0 72.2,326.9 73.5,327.5 74.8,327.3 76.1,326.2 77.4,327.2 78.7,329.3 80.0,327.0 81.3,327.3 82.6,326.8 83.9,326.2 85.2,326.9 86.5,329.0 87.8,328.6 89.1,326.7 90.4,326.0 91.7,328.0 93.0,329.1 94.3,326.9 95.6,327.0 96.9,326.3 98.3,326.5 99.6,327.7 100.9,327.9 102.2,327.7 103.5,327.3 104.8,327.3 106.1,326.6 107.4,326.4 108.7,327.3 110.0,327.5 111.3,328.4 112.6,326.3 113.9,327.5 115.2,329.0 116.5,327.0 117.8,328.1 119.1,327.8 120.4,328.3 121.7,327.2 123.0,325.1 124.3,328.4 125.6,327.0 126.9,328.0 128.2,327.1 129.5,325.6 130.8,326.3 132.2,324.7 133.5,325.6 134.8,326.6" fill="none" stroke="url(#g9)" stroke-width="1.05" stroke-linejoin="round"/>
<polyline points="116.8,291.5 118.1,291.8 119.4,291.0 120.7,291.9 122.0,292.7 123.3,291.3 124.6,293.2 125.9,292.5 127.3,292.2 128.6,292.4 129.9,292.0 131.2,291.2 132.5,292.1 133.8,291.8 135.1,291.7 136.4,291.2 137.7,291.0 139.0,291.5 140.3,292.1 141.6,291.6 142.9,291.3 144.2,292.4 145.5,290.7 146.8,292.0 148.1,291.4 149.4,291.7 150.7,292.2 152.0,292.6 153.3,291.8 154.6,292.8 155.9,292.5 157.2,292.3 158.5,290.9 159.8,290.6 161.1,290.9 162.4,291.2 163.7,292.3 165.0,292.4 166.3,291.9 167.6,291.6 168.9,293.0 170.2,291.6 171.5,291.5 172.8,292.6 174.1,292.5 175.4,292.3 176.7,292.0 178.1,292.5 179.4,291.0 180.7,292.5 182.0,291.4 183.3,292.4 184.6,292.4 185.9,292.4 187.2,292.2 188.5,292.5 189.8,292.6 191.1,292.0 192.4,292.5 193.7,293.0 195.0,292.6 196.3,292.4 197.6,293.0 198.9,291.1 200.2,290.5 201.5,290.3 202.8,290.6" fill="none" stroke="url(#g10)" stroke-width="1.15" stroke-linejoin="round"/>
<line x1="37.8" y1="388.3" x2="240.8" y2="388.3" stroke="#e01a2a" stroke-width="0.7" stroke-opacity="0.62"/>
<path d="M34.8 388.3 l5.7 -2.45 v4.9z M243.8 388.3 l-5.7 -2.45 v4.9z" fill="#e01a2a"/>
<text x="137.00" y="383.40" transform="rotate(0.05 138.5 384.3)" class="sl">s<tspan dx="0.7" dy="3.4" class="sb">1</tspan></text>
<line x1="108.0" y1="355.9" x2="167.0" y2="355.9" stroke="#e01a2a" stroke-width="0.7" stroke-opacity="0.62"/>
<path d="M105.0 355.9 l5.7 -2.45 v4.9z M170.0 355.9 l-5.7 -2.45 v4.9z" fill="#e01a2a"/>
<text x="134.00" y="349.60" transform="rotate(0.05 135.5 350.5)" class="sl">s<tspan dx="0.7" dy="3.4" class="sb">2</tspan></text>
<line x1="64.5" y1="322.0" x2="132.0" y2="322.0" stroke="#e01a2a" stroke-width="0.7" stroke-opacity="0.62"/>
<path d="M61.5 322.0 l5.7 -2.45 v4.9z M135.0 322.0 l-5.7 -2.45 v4.9z" fill="#e01a2a"/>
<text x="96.00" y="315.80" transform="rotate(0.05 97.5 316.7)" class="sl">s<tspan dx="0.7" dy="3.4" class="sb">3</tspan></text>
<line x1="119.6" y1="284.2" x2="199.8" y2="284.2" stroke="#e01a2a" stroke-width="0.7" stroke-opacity="0.62"/>
<path d="M116.6 284.2 l5.7 -2.45 v4.9z M202.8 284.2 l-5.7 -2.45 v4.9z" fill="#e01a2a"/>
<text x="158.00" y="277.10" transform="rotate(0.05 159.5 278.0)" class="sl">s<tspan dx="0.7" dy="3.4" class="sb">4</tspan></text>
<rect x="303.0" y="239.1" width="216.0" height="175.8" fill="rgb(1,50,190)"/>
<text x="299.40" y="417.80" transform="rotate(0.05 303.0 414.9)" class="tk" text-anchor="end">0</text>
<text x="299.40" y="382.65" transform="rotate(0.05 303.0 379.8)" class="tk" text-anchor="end">100</text>
<text x="299.40" y="347.50" transform="rotate(0.05 303.0 344.6)" class="tk" text-anchor="end">200</text>
<text x="299.40" y="312.35" transform="rotate(0.05 303.0 309.4)" class="tk" text-anchor="end">300</text>
<text x="299.40" y="277.20" transform="rotate(0.05 303.0 274.3)" class="tk" text-anchor="end">400</text>
<text x="299.40" y="242.05" transform="rotate(0.05 303.0 239.1)" class="tk" text-anchor="end">500</text>
<text x="303.00" y="425.10" transform="rotate(0.05 303.0 424.9)" class="tk" text-anchor="middle">0</text>
<text x="346.20" y="425.10" transform="rotate(0.05 346.2 424.9)" class="tk" text-anchor="middle">0.2</text>
<text x="389.40" y="425.10" transform="rotate(0.05 389.4 424.9)" class="tk" text-anchor="middle">0.4</text>
<text x="432.60" y="425.10" transform="rotate(0.05 432.6 424.9)" class="tk" text-anchor="middle">0.6</text>
<text x="475.80" y="425.10" transform="rotate(0.05 475.8 424.9)" class="tk" text-anchor="middle">0.8</text>
<text x="411.00" y="436.10" transform="rotate(0.05 411.0 435.9)" class="tk" text-anchor="middle">Time(s)</text>
<text transform="translate(281.8 327.0) rotate(-89.95)" class="tk" text-anchor="middle">Frequency (Hz)</text>
<rect x="524.2" y="239.1" width="10.8" height="175.8" fill="url(#cbA)" stroke="#55504a" stroke-width="0.5"/>
<line x1="533.4" y1="387.3" x2="535.0" y2="387.3" stroke="#333" stroke-width="0.5"/>
<text x="538.30" y="390.13" transform="rotate(0.05 535.0 387.3)" class="tk">2</text>
<line x1="533.4" y1="359.2" x2="535.0" y2="359.2" stroke="#333" stroke-width="0.5"/>
<text x="538.30" y="362.01" transform="rotate(0.05 535.0 359.2)" class="tk">4</text>
<line x1="533.4" y1="331.1" x2="535.0" y2="331.1" stroke="#333" stroke-width="0.5"/>
<text x="538.30" y="333.88" transform="rotate(0.05 535.0 331.1)" class="tk">6</text>
<line x1="533.4" y1="303.0" x2="535.0" y2="303.0" stroke="#333" stroke-width="0.5"/>
<text x="538.30" y="305.75" transform="rotate(0.05 535.0 303.0)" class="tk">8</text>
<line x1="533.4" y1="274.8" x2="535.0" y2="274.8" stroke="#333" stroke-width="0.5"/>
<text x="538.30" y="277.62" transform="rotate(0.05 535.0 274.8)" class="tk">10</text>
<line x1="533.4" y1="246.7" x2="535.0" y2="246.7" stroke="#333" stroke-width="0.5"/>
<text x="538.30" y="249.49" transform="rotate(0.05 535.0 246.7)" class="tk">12</text>
<text x="410.50" y="458.70" transform="rotate(0.05 410.5 458.7)" class="cap" text-anchor="middle">(d)</text>
<polyline points="303.0,401.3 304.7,398.6 306.4,395.3 308.1,398.2 309.8,395.7 311.5,399.4 313.2,399.2 314.9,397.3 316.6,397.4 318.3,396.8 320.0,399.6 321.7,395.9 323.4,398.1 325.1,393.9 326.8,399.3 328.5,396.7 330.2,394.6 331.9,398.3 333.6,395.3 335.3,396.1 337.0,393.9 338.7,396.7 340.4,397.6 342.1,396.6 343.8,396.7 345.5,393.9 347.2,395.2 348.9,396.8 350.6,393.7 352.3,398.8 354.0,397.0 355.7,399.2 357.4,398.1 359.1,396.0 360.8,396.3 362.5,396.6 364.2,397.3 365.9,398.1 367.6,396.4 369.3,396.7 371.0,398.1 372.7,397.3 374.4,396.9 376.1,396.3 377.8,397.6 379.5,397.8 381.2,397.9 382.9,398.8 384.6,396.2 386.3,394.9 388.0,396.5 389.7,398.1 391.4,399.0 393.1,397.5 394.8,397.9 396.5,395.4 398.2,398.1 399.9,397.2 401.6,397.1 403.3,396.6 405.0,397.3 406.7,396.5 408.4,398.2 410.1,397.9 411.9,397.2 413.6,397.3 415.3,397.3 417.0,397.8 418.7,398.4 420.4,399.5 422.1,397.3 423.8,397.5 425.5,398.7 427.2,398.0 428.9,394.7 430.6,397.2 432.3,396.2 434.0,397.0 435.7,398.0 437.4,399.2 439.1,399.3 440.8,398.6 442.5,397.3 444.2,397.7 445.9,395.8 447.6,396.9 449.3,395.5 451.0,395.3 452.7,395.9 454.4,397.5 456.1,397.7 457.8,398.5 459.5,398.0 461.2,398.7 462.9,399.6 464.6,397.1 466.3,396.7 468.0,397.8 469.7,397.2 471.4,396.8 473.1,398.7 474.8,398.2 476.5,397.1 478.2,397.4 479.9,397.5 481.6,397.9 483.3,396.3 485.0,398.4 486.7,398.4 488.4,395.6 490.1,394.7 491.8,396.5 493.5,399.7 495.2,395.5 496.9,397.1 498.6,396.3 500.3,399.4 502.0,397.7 503.7,398.4 505.4,392.9 507.1,393.3 508.8,396.4 510.5,398.4 512.2,396.3 513.9,399.7 515.6,395.7 517.3,394.9 519.0,397.1" fill="none" stroke="url(#g11)" stroke-width="1.10" stroke-linejoin="round"/>
<polyline points="379.0,362.5 380.5,361.5 381.9,362.9 383.3,361.7 384.7,361.4 386.2,361.5 387.6,361.6 389.0,361.4 390.4,361.1 391.8,362.1 393.3,361.8 394.7,361.4 396.1,362.5 397.5,360.2 399.0,361.1 400.4,363.2 401.8,363.7 403.2,362.3 404.7,361.4 406.1,362.8 407.5,363.0 408.9,361.7 410.4,361.8 411.8,361.9 413.2,361.3 414.6,361.5 416.0,361.7 417.5,362.3 418.9,361.9 420.3,361.9 421.7,361.6 423.2,361.1 424.6,360.9 426.0,361.8 427.4,362.5 428.9,362.8 430.3,362.3 431.7,362.2 433.1,362.7 434.6,361.3 436.0,363.8 437.4,363.2 438.8,363.5 440.2,361.7 441.7,360.2" fill="none" stroke="url(#g12)" stroke-width="1.15" stroke-linejoin="round"/>
<polyline points="336.0,326.1 337.4,327.6 338.7,327.6 340.0,326.4 341.3,327.6 342.6,327.7 343.9,327.6 345.2,328.4 346.5,326.6 347.8,326.5 349.1,327.9 350.4,326.1 351.7,327.3 353.0,328.1 354.3,328.3 355.6,328.0 356.9,328.8 358.2,326.6 359.5,326.1 360.8,326.9 362.1,327.1 363.4,327.7 364.7,325.9 366.0,323.9 367.3,326.7 368.6,326.8 369.9,324.5 371.3,327.1 372.6,326.9 373.9,328.8 375.2,325.9 376.5,326.1 377.8,326.4 379.1,328.4 380.4,326.6 381.7,328.9 383.0,326.5 384.3,327.1 385.6,325.8 386.9,327.8 388.2,327.0 389.5,325.8 390.8,326.0 392.1,326.6 393.4,326.3 394.7,326.3 396.0,328.0 397.3,326.7 398.6,326.0 399.9,327.2 401.2,328.0 402.5,327.3 403.8,326.7 405.2,326.7 406.5,327.3 407.8,327.8" fill="none" stroke="url(#g13)" stroke-width="1.05" stroke-linejoin="round"/>
<polyline points="389.8,291.5 391.1,291.8 392.4,292.2 393.7,291.5 395.0,292.9 396.3,292.4 397.6,290.7 398.9,291.2 400.3,291.7 401.6,290.6 402.9,291.8 404.2,293.3 405.5,292.1 406.8,293.0 408.1,291.5 409.4,291.2 410.7,293.3 412.0,291.3 413.3,291.7 414.6,291.0 415.9,291.7 417.2,293.0 418.5,291.6 419.8,291.2 421.1,292.2 422.4,292.0 423.7,291.7 425.0,291.3 426.3,291.4 427.6,291.9 428.9,291.0 430.2,291.1 431.5,291.4 432.8,291.3 434.1,292.3 435.4,292.0 436.7,293.8 438.0,292.8 439.3,291.5 440.6,291.9 441.9,292.4 443.2,291.3 444.5,290.5 445.8,292.5 447.1,292.3 448.4,292.8 449.7,292.3 451.1,291.0 452.4,291.8 453.7,290.6 455.0,291.5 456.3,291.0 457.6,291.8 458.9,292.2 460.2,291.5 461.5,291.0 462.8,290.5 464.1,291.7 465.4,292.2 466.7,293.0 468.0,290.7 469.3,291.4 470.6,291.1 471.9,291.4 473.2,290.7 474.5,291.5 475.8,289.1" fill="none" stroke="url(#g14)" stroke-width="1.15" stroke-linejoin="round"/>
<line x1="310.5" y1="388.5" x2="514.5" y2="388.5" stroke="#e01a2a" stroke-width="0.7" stroke-opacity="0.62"/>
<path d="M307.5 388.5 l5.7 -2.45 v4.9z M517.5 388.5 l-5.7 -2.45 v4.9z" fill="#e01a2a"/>
<text x="409.80" y="383.30" transform="rotate(0.05 411.3 384.2)" class="sl">s<tspan dx="0.7" dy="3.4" class="sb">1</tspan></text>
<line x1="380.5" y1="355.9" x2="440.5" y2="355.9" stroke="#e01a2a" stroke-width="0.7" stroke-opacity="0.62"/>
<path d="M377.5 355.9 l5.7 -2.45 v4.9z M443.5 355.9 l-5.7 -2.45 v4.9z" fill="#e01a2a"/>
<text x="407.30" y="349.80" transform="rotate(0.05 408.8 350.7)" class="sl">s<tspan dx="0.7" dy="3.4" class="sb">2</tspan></text>
<line x1="337.3" y1="322.0" x2="405.5" y2="322.0" stroke="#e01a2a" stroke-width="0.7" stroke-opacity="0.62"/>
<path d="M334.3 322.0 l5.7 -2.45 v4.9z M408.5 322.0 l-5.7 -2.45 v4.9z" fill="#e01a2a"/>
<text x="368.30" y="316.00" transform="rotate(0.05 369.8 316.9)" class="sl">s<tspan dx="0.7" dy="3.4" class="sb">3</tspan></text>
<line x1="392.3" y1="284.2" x2="473.2" y2="284.2" stroke="#e01a2a" stroke-width="0.7" stroke-opacity="0.62"/>
<path d="M389.3 284.2 l5.7 -2.45 v4.9z M476.2 284.2 l-5.7 -2.45 v4.9z" fill="#e01a2a"/>
<text x="431.30" y="278.10" transform="rotate(0.05 432.8 279.0)" class="sl">s<tspan dx="0.7" dy="3.4" class="sb">4</tspan></text>
<rect x="166.4" y="470.7" width="216.2" height="175.6" fill="rgb(1,50,190)"/>
<text x="162.80" y="649.20" transform="rotate(0.05 166.4 646.3)" class="tk" text-anchor="end">0</text>
<text x="162.80" y="614.05" transform="rotate(0.05 166.4 611.1)" class="tk" text-anchor="end">100</text>
<text x="162.80" y="578.90" transform="rotate(0.05 166.4 576.0)" class="tk" text-anchor="end">200</text>
<text x="162.80" y="543.75" transform="rotate(0.05 166.4 540.8)" class="tk" text-anchor="end">300</text>
<text x="162.80" y="508.60" transform="rotate(0.05 166.4 505.7)" class="tk" text-anchor="end">400</text>
<text x="162.80" y="473.45" transform="rotate(0.05 166.4 470.5)" class="tk" text-anchor="end">500</text>
<text x="166.40" y="656.50" transform="rotate(0.05 166.4 656.3)" class="tk" text-anchor="middle">0</text>
<text x="209.60" y="656.50" transform="rotate(0.05 209.6 656.3)" class="tk" text-anchor="middle">0.2</text>
<text x="252.80" y="656.50" transform="rotate(0.05 252.8 656.3)" class="tk" text-anchor="middle">0.4</text>
<text x="296.00" y="656.50" transform="rotate(0.05 296.0 656.3)" class="tk" text-anchor="middle">0.6</text>
<text x="339.20" y="656.50" transform="rotate(0.05 339.2 656.3)" class="tk" text-anchor="middle">0.8</text>
<text x="274.50" y="667.50" transform="rotate(0.05 274.5 667.3)" class="tk" text-anchor="middle">Time(s)</text>
<text transform="translate(145.2 558.5) rotate(-89.95)" class="tk" text-anchor="middle">Frequency (Hz)</text>
<rect x="387.6" y="470.7" width="10.7" height="175.6" fill="url(#cbA)" stroke="#55504a" stroke-width="0.5"/>
<line x1="396.7" y1="618.8" x2="398.3" y2="618.8" stroke="#333" stroke-width="0.5"/>
<text x="401.60" y="621.57" transform="rotate(0.05 398.3 618.8)" class="tk">2</text>
<line x1="396.7" y1="590.7" x2="398.3" y2="590.7" stroke="#333" stroke-width="0.5"/>
<text x="401.60" y="593.47" transform="rotate(0.05 398.3 590.7)" class="tk">4</text>
<line x1="396.7" y1="562.6" x2="398.3" y2="562.6" stroke="#333" stroke-width="0.5"/>
<text x="401.60" y="565.37" transform="rotate(0.05 398.3 562.6)" class="tk">6</text>
<line x1="396.7" y1="534.5" x2="398.3" y2="534.5" stroke="#333" stroke-width="0.5"/>
<text x="401.60" y="537.28" transform="rotate(0.05 398.3 534.5)" class="tk">8</text>
<line x1="396.7" y1="506.4" x2="398.3" y2="506.4" stroke="#333" stroke-width="0.5"/>
<text x="401.60" y="509.18" transform="rotate(0.05 398.3 506.4)" class="tk">10</text>
<line x1="396.7" y1="478.3" x2="398.3" y2="478.3" stroke="#333" stroke-width="0.5"/>
<text x="401.60" y="481.09" transform="rotate(0.05 398.3 478.3)" class="tk">12</text>
<text x="274.50" y="688.20" transform="rotate(0.05 274.5 688.2)" class="cap" text-anchor="middle">(e)</text>
<polyline points="166.4,626.7 168.1,628.2 169.8,628.4 171.5,630.7 173.2,631.8 174.9,628.6 176.6,629.9 178.3,629.6 180.0,630.1 181.7,628.9 183.4,628.6 185.1,625.5 186.8,626.9 188.5,629.3 190.2,626.6 191.9,626.8 193.6,626.1 195.3,625.1 197.0,629.5 198.7,627.2 200.4,626.3 202.1,627.1 203.8,630.6 205.5,628.4 207.2,629.8 208.9,627.9 210.6,628.9 212.3,628.9 214.0,629.7 215.7,630.3 217.4,628.4 219.1,628.3 220.8,629.3 222.5,630.9 224.2,629.3 225.9,629.0 227.6,626.4 229.3,629.0 231.0,629.3 232.7,629.4 234.4,629.1 236.1,630.0 237.8,628.2 239.5,627.3 241.2,627.2 242.9,630.6 244.6,627.0 246.3,629.2 248.0,629.0 249.7,629.4 251.4,628.0 253.1,627.0 254.8,627.8 256.5,628.7 258.2,629.7 259.9,629.3 261.6,628.6 263.3,628.7 265.0,628.3 266.7,628.6 268.4,629.7 270.1,628.3 271.8,630.0 273.5,629.1 275.3,629.7 277.0,627.8 278.7,630.8 280.4,628.3 282.1,628.6 283.8,630.4 285.5,627.5 287.2,629.7 288.9,631.4 290.6,629.1 292.3,629.5 294.0,631.7 295.7,630.7 297.4,627.7 299.1,627.1 300.8,629.1 302.5,629.5 304.2,629.4 305.9,628.1 307.6,627.5 309.3,630.6 311.0,627.4 312.7,628.9 314.4,627.3 316.1,629.3 317.8,628.7 319.5,628.2 321.2,628.0 322.9,627.4 324.6,628.2 326.3,628.6 328.0,628.1 329.7,629.5 331.4,628.5 333.1,628.1 334.8,628.4 336.5,630.6 338.2,627.3 339.9,629.6 341.6,628.4 343.3,629.6 345.0,628.5 346.7,629.4 348.4,628.3 350.1,629.5 351.8,631.6 353.5,628.8 355.2,630.2 356.9,627.1 358.6,628.8 360.3,623.6 362.0,629.5 363.7,624.8 365.4,628.1 367.1,627.7 368.8,626.1 370.5,629.4 372.2,629.2 373.9,624.8 375.6,628.1 377.3,628.7 379.0,630.7 380.7,629.3 382.4,627.9" fill="none" stroke="url(#g15)" stroke-width="1.10" stroke-linejoin="round"/>
<polyline points="242.4,591.6 243.9,593.2 245.3,593.7 246.7,593.8 248.1,592.6 249.6,594.1 251.0,594.7 252.4,594.0 253.8,594.1 255.2,594.2 256.7,594.4 258.1,594.1 259.5,593.8 260.9,594.4 262.4,594.8 263.8,593.0 265.2,593.1 266.6,592.3 268.1,593.0 269.5,592.7 270.9,592.5 272.3,593.9 273.8,594.8 275.2,594.5 276.6,593.0 278.0,594.1 279.4,593.5 280.9,592.7 282.3,592.3 283.7,592.6 285.1,593.9 286.6,593.1 288.0,593.9 289.4,592.8 290.8,595.1 292.3,594.3 293.7,593.7 295.1,593.5 296.5,594.1 298.0,593.9 299.4,593.7 300.8,593.2 302.2,592.5 303.6,592.2 305.1,591.7" fill="none" stroke="url(#g16)" stroke-width="1.15" stroke-linejoin="round"/>
<polyline points="199.4,558.3 200.8,559.4 202.1,558.2 203.4,558.8 204.7,560.3 206.0,557.8 207.3,559.2 208.6,559.2 209.9,559.3 211.2,557.2 212.5,555.7 213.8,557.8 215.1,560.2 216.4,559.1 217.7,557.7 219.0,558.2 220.3,557.8 221.6,557.7 222.9,556.9 224.2,559.0 225.5,559.3 226.8,557.6 228.1,559.7 229.4,556.3 230.7,560.0 232.0,559.5 233.3,556.2 234.7,557.3 236.0,559.3 237.3,558.3 238.6,558.0 239.9,558.1 241.2,559.2 242.5,559.5 243.8,557.7 245.1,560.4 246.4,557.5 247.7,557.0 249.0,558.9 250.3,559.0 251.6,559.2 252.9,558.5 254.2,559.5 255.5,559.7 256.8,557.8 258.1,557.6 259.4,558.7 260.7,557.5 262.0,558.2 263.3,560.0 264.6,559.9 265.9,557.3 267.2,558.2 268.6,558.9 269.9,560.8 271.2,558.4" fill="none" stroke="url(#g17)" stroke-width="1.05" stroke-linejoin="round"/>
<polyline points="253.2,522.3 254.5,523.6 255.8,523.9 257.1,523.2 258.4,524.3 259.7,522.7 261.0,523.1 262.3,522.9 263.7,524.1 265.0,523.2 266.3,524.7 267.6,522.7 268.9,522.7 270.2,522.4 271.5,522.8 272.8,522.2 274.1,523.4 275.4,523.3 276.7,522.0 278.0,523.8 279.3,523.0 280.6,523.7 281.9,523.4 283.2,523.1 284.5,523.0 285.8,523.1 287.1,523.0 288.4,523.3 289.7,524.5 291.0,523.8 292.3,522.7 293.6,524.4 294.9,524.2 296.2,522.3 297.5,523.8 298.8,523.0 300.1,522.5 301.4,525.2 302.7,523.6 304.0,524.1 305.3,524.4 306.6,523.6 307.9,523.5 309.2,523.5 310.5,523.5 311.8,523.1 313.1,523.2 314.5,523.3 315.8,522.9 317.1,522.5 318.4,522.8 319.7,522.8 321.0,523.7 322.3,523.6 323.6,522.6 324.9,522.2 326.2,522.1 327.5,522.7 328.8,522.8 330.1,523.7 331.4,523.4 332.7,522.3 334.0,522.6 335.3,522.1 336.6,522.5 337.9,522.1 339.2,521.3" fill="none" stroke="url(#g18)" stroke-width="1.15" stroke-linejoin="round"/>
<line x1="175.5" y1="620.0" x2="377.0" y2="620.0" stroke="#e01a2a" stroke-width="0.7" stroke-opacity="0.62"/>
<path d="M172.5 620.0 l5.7 -2.45 v4.9z M380.0 620.0 l-5.7 -2.45 v4.9z" fill="#e01a2a"/>
<text x="272.70" y="613.50" transform="rotate(0.05 274.2 614.4)" class="sl">s<tspan dx="0.7" dy="3.4" class="sb">1</tspan></text>
<line x1="244.8" y1="587.3" x2="304.3" y2="587.3" stroke="#e01a2a" stroke-width="0.7" stroke-opacity="0.62"/>
<path d="M241.8 587.3 l5.7 -2.45 v4.9z M307.3 587.3 l-5.7 -2.45 v4.9z" fill="#e01a2a"/>
<text x="270.40" y="581.00" transform="rotate(0.05 271.9 581.9)" class="sl">s<tspan dx="0.7" dy="3.4" class="sb">2</tspan></text>
<line x1="201.2" y1="552.9" x2="270.0" y2="552.9" stroke="#e01a2a" stroke-width="0.7" stroke-opacity="0.62"/>
<path d="M198.2 552.9 l5.7 -2.45 v4.9z M273.0 552.9 l-5.7 -2.45 v4.9z" fill="#e01a2a"/>
<text x="231.80" y="546.90" transform="rotate(0.05 233.3 547.8)" class="sl">s<tspan dx="0.7" dy="3.4" class="sb">3</tspan></text>
<line x1="256.4" y1="515.4" x2="336.3" y2="515.4" stroke="#e01a2a" stroke-width="0.7" stroke-opacity="0.62"/>
<path d="M253.4 515.4 l5.7 -2.45 v4.9z M339.3 515.4 l-5.7 -2.45 v4.9z" fill="#e01a2a"/>
<text x="294.80" y="508.50" transform="rotate(0.05 296.3 509.4)" class="sl">s<tspan dx="0.7" dy="3.4" class="sb">4</tspan></text>
</g>
</svg>
</body></html>
